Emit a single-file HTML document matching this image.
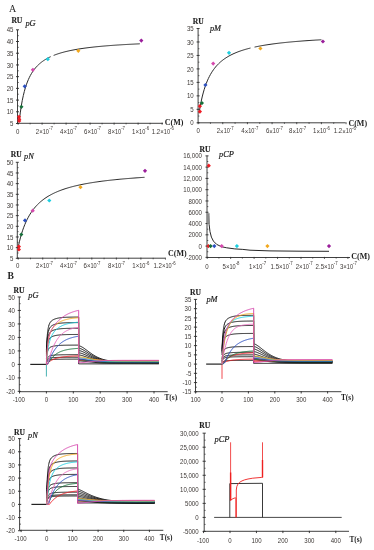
<!DOCTYPE html>
<html><head><meta charset="utf-8"><title>Binding curves</title>
<style>html,body{margin:0;padding:0;background:#fff;width:374px;height:550px;overflow:hidden}svg{display:block;filter:blur(0.3px)}</style>
</head><body>
<svg width="374" height="550" viewBox="0 0 374 550">
<rect width="374" height="550" fill="#ffffff"/>
<text x="9.00" y="11.90" font-family="'Liberation Serif', 'Times New Roman', serif" font-size="10.0" fill="#2a2a2a" text-anchor="start">A</text>
<text x="7.60" y="278.90" font-family="'Liberation Serif', 'Times New Roman', serif" font-size="9.6" fill="#1e1e1e" text-anchor="start" font-weight="bold">B</text>
<line x1="17.50" y1="29.80" x2="17.50" y2="123.30" stroke="#2b2b2b" stroke-width="0.9"/>
<line x1="16.00" y1="123.50" x2="19.00" y2="123.50" stroke="#2b2b2b" stroke-width="0.9"/>
<text transform="translate(13.50 126.10) scale(0.8 1)" x="0" y="0" font-family="'Liberation Sans', Arial, sans-serif" font-size="7.6" fill="#3c3734" text-anchor="end">5</text>
<line x1="16.00" y1="111.79" x2="19.00" y2="111.79" stroke="#2b2b2b" stroke-width="0.9"/>
<text transform="translate(13.50 114.39) scale(0.8 1)" x="0" y="0" font-family="'Liberation Sans', Arial, sans-serif" font-size="7.6" fill="#3c3734" text-anchor="end">10</text>
<line x1="16.00" y1="100.08" x2="19.00" y2="100.08" stroke="#2b2b2b" stroke-width="0.9"/>
<text transform="translate(13.50 102.67) scale(0.8 1)" x="0" y="0" font-family="'Liberation Sans', Arial, sans-serif" font-size="7.6" fill="#3c3734" text-anchor="end">15</text>
<line x1="16.00" y1="88.36" x2="19.00" y2="88.36" stroke="#2b2b2b" stroke-width="0.9"/>
<text transform="translate(13.50 90.96) scale(0.8 1)" x="0" y="0" font-family="'Liberation Sans', Arial, sans-serif" font-size="7.6" fill="#3c3734" text-anchor="end">20</text>
<line x1="16.00" y1="76.65" x2="19.00" y2="76.65" stroke="#2b2b2b" stroke-width="0.9"/>
<text transform="translate(13.50 79.25) scale(0.8 1)" x="0" y="0" font-family="'Liberation Sans', Arial, sans-serif" font-size="7.6" fill="#3c3734" text-anchor="end">25</text>
<line x1="16.00" y1="64.94" x2="19.00" y2="64.94" stroke="#2b2b2b" stroke-width="0.9"/>
<text transform="translate(13.50 67.54) scale(0.8 1)" x="0" y="0" font-family="'Liberation Sans', Arial, sans-serif" font-size="7.6" fill="#3c3734" text-anchor="end">30</text>
<line x1="16.00" y1="53.23" x2="19.00" y2="53.23" stroke="#2b2b2b" stroke-width="0.9"/>
<text transform="translate(13.50 55.83) scale(0.8 1)" x="0" y="0" font-family="'Liberation Sans', Arial, sans-serif" font-size="7.6" fill="#3c3734" text-anchor="end">35</text>
<line x1="16.00" y1="41.51" x2="19.00" y2="41.51" stroke="#2b2b2b" stroke-width="0.9"/>
<text transform="translate(13.50 44.11) scale(0.8 1)" x="0" y="0" font-family="'Liberation Sans', Arial, sans-serif" font-size="7.6" fill="#3c3734" text-anchor="end">40</text>
<line x1="16.00" y1="29.80" x2="19.00" y2="29.80" stroke="#2b2b2b" stroke-width="0.9"/>
<text transform="translate(13.50 32.40) scale(0.8 1)" x="0" y="0" font-family="'Liberation Sans', Arial, sans-serif" font-size="7.6" fill="#3c3734" text-anchor="end">45</text>
<line x1="17.50" y1="117.64" x2="18.80" y2="117.64" stroke="#2b2b2b" stroke-width="0.7"/>
<line x1="17.50" y1="105.93" x2="18.80" y2="105.93" stroke="#2b2b2b" stroke-width="0.7"/>
<line x1="17.50" y1="94.22" x2="18.80" y2="94.22" stroke="#2b2b2b" stroke-width="0.7"/>
<line x1="17.50" y1="82.51" x2="18.80" y2="82.51" stroke="#2b2b2b" stroke-width="0.7"/>
<line x1="17.50" y1="70.79" x2="18.80" y2="70.79" stroke="#2b2b2b" stroke-width="0.7"/>
<line x1="17.50" y1="59.08" x2="18.80" y2="59.08" stroke="#2b2b2b" stroke-width="0.7"/>
<line x1="17.50" y1="47.37" x2="18.80" y2="47.37" stroke="#2b2b2b" stroke-width="0.7"/>
<line x1="17.50" y1="35.66" x2="18.80" y2="35.66" stroke="#2b2b2b" stroke-width="0.7"/>
<line x1="17.50" y1="123.30" x2="163.00" y2="123.30" stroke="#2b2b2b" stroke-width="0.9"/>
<line x1="18.10" y1="122.70" x2="18.10" y2="124.70" stroke="#2b2b2b" stroke-width="0.8"/>
<line x1="42.10" y1="122.70" x2="42.10" y2="124.70" stroke="#2b2b2b" stroke-width="0.8"/>
<line x1="66.10" y1="122.70" x2="66.10" y2="124.70" stroke="#2b2b2b" stroke-width="0.8"/>
<line x1="90.10" y1="122.70" x2="90.10" y2="124.70" stroke="#2b2b2b" stroke-width="0.8"/>
<line x1="114.10" y1="122.70" x2="114.10" y2="124.70" stroke="#2b2b2b" stroke-width="0.8"/>
<line x1="138.10" y1="122.70" x2="138.10" y2="124.70" stroke="#2b2b2b" stroke-width="0.8"/>
<line x1="162.10" y1="122.70" x2="162.10" y2="124.70" stroke="#2b2b2b" stroke-width="0.8"/>
<line x1="30.10" y1="122.90" x2="30.10" y2="124.40" stroke="#2b2b2b" stroke-width="0.7"/>
<line x1="54.10" y1="122.90" x2="54.10" y2="124.40" stroke="#2b2b2b" stroke-width="0.7"/>
<line x1="78.10" y1="122.90" x2="78.10" y2="124.40" stroke="#2b2b2b" stroke-width="0.7"/>
<line x1="102.10" y1="122.90" x2="102.10" y2="124.40" stroke="#2b2b2b" stroke-width="0.7"/>
<line x1="126.10" y1="122.90" x2="126.10" y2="124.40" stroke="#2b2b2b" stroke-width="0.7"/>
<line x1="150.10" y1="122.90" x2="150.10" y2="124.40" stroke="#2b2b2b" stroke-width="0.7"/>
<text transform="translate(17.80 133.60) scale(0.8 1)" x="0" y="0" font-family="'Liberation Sans', Arial, sans-serif" font-size="7.6" fill="#3c3734" text-anchor="middle">0</text>
<text transform="translate(44.30 133.60) scale(0.8 1)" x="0" y="0" font-family="'Liberation Sans', Arial, sans-serif" font-size="7.6" fill="#3c3734" text-anchor="middle">2<tspan font-size="7.6" dy="0.5">×</tspan><tspan font-size="7.0" dy="-0.5">10</tspan><tspan font-size="5.4" dy="-3.2">-7</tspan></text>
<text transform="translate(68.50 133.60) scale(0.8 1)" x="0" y="0" font-family="'Liberation Sans', Arial, sans-serif" font-size="7.6" fill="#3c3734" text-anchor="middle">4<tspan font-size="7.6" dy="0.5">×</tspan><tspan font-size="7.0" dy="-0.5">10</tspan><tspan font-size="5.4" dy="-3.2">-7</tspan></text>
<text transform="translate(92.50 133.60) scale(0.8 1)" x="0" y="0" font-family="'Liberation Sans', Arial, sans-serif" font-size="7.6" fill="#3c3734" text-anchor="middle">6<tspan font-size="7.6" dy="0.5">×</tspan><tspan font-size="7.0" dy="-0.5">10</tspan><tspan font-size="5.4" dy="-3.2">-7</tspan></text>
<text transform="translate(116.50 133.60) scale(0.8 1)" x="0" y="0" font-family="'Liberation Sans', Arial, sans-serif" font-size="7.6" fill="#3c3734" text-anchor="middle">8<tspan font-size="7.6" dy="0.5">×</tspan><tspan font-size="7.0" dy="-0.5">10</tspan><tspan font-size="5.4" dy="-3.2">-7</tspan></text>
<text transform="translate(140.60 133.60) scale(0.8 1)" x="0" y="0" font-family="'Liberation Sans', Arial, sans-serif" font-size="7.6" fill="#3c3734" text-anchor="middle">1<tspan font-size="7.6" dy="0.5">×</tspan><tspan font-size="7.0" dy="-0.5">10</tspan><tspan font-size="5.4" dy="-3.2">-6</tspan></text>
<text transform="translate(162.80 133.60) scale(0.8 1)" x="0" y="0" font-family="'Liberation Sans', Arial, sans-serif" font-size="7.6" fill="#3c3734" text-anchor="middle">1.2<tspan font-size="7.6" dy="0.5">×</tspan><tspan font-size="7.0" dy="-0.5">10</tspan><tspan font-size="5.4" dy="-3.2">-6</tspan></text>
<text x="11.40" y="22.70" font-family="'Liberation Serif', 'Times New Roman', serif" font-size="7.6" fill="#1e1e1e" text-anchor="start" font-weight="bold" stroke="#1e1e1e" stroke-width="0.15">RU</text>
<text x="25.40" y="25.80" font-family="'Liberation Serif', 'Times New Roman', serif" font-size="8.4" fill="#1a1a1a" text-anchor="start" font-style="italic" stroke="#1a1a1a" stroke-width="0.18">pG</text>
<text x="164.80" y="125.40" font-family="'Liberation Serif', 'Times New Roman', serif" font-size="8.0" fill="#1e1e1e" text-anchor="start" font-weight="bold">C(M)</text>
<polyline points="19.25,121.23 20.26,112.91 21.27,106.10 22.28,100.42 23.30,95.62 24.31,91.50 25.32,87.93 26.33,84.81 27.35,82.05 28.36,79.60 29.37,77.41 30.38,75.44 31.40,73.65 32.41,72.03 33.42,70.55 34.44,69.19 35.45,67.94 36.46,66.79 37.47,65.72 38.49,64.73 39.50,63.81 40.51,62.95 41.52,62.14 42.54,61.39 43.55,60.68 44.56,60.01 45.57,59.38 46.59,58.78 47.60,58.22 48.61,57.69 49.62,57.18 50.64,56.70" fill="none" stroke="#282828" stroke-width="1.0" stroke-linejoin="round" opacity="1.0"/>
<polyline points="53.67,55.39 54.69,55.00 55.70,54.62 56.71,54.26 57.72,53.91 58.74,53.58 59.75,53.26 60.76,52.95 61.78,52.66 62.79,52.38 63.80,52.10 64.81,51.84 65.83,51.59 66.84,51.35 67.85,51.11 68.86,50.89 69.88,50.67 70.89,50.45 71.90,50.25 72.91,50.05 73.93,49.86 74.94,49.67 75.95,49.49 76.96,49.32 77.98,49.15 78.99,48.99 80.00,48.83 81.01,48.67 82.03,48.52 83.04,48.37 84.05,48.23 85.07,48.09 86.08,47.96 87.09,47.82 88.10,47.70 89.12,47.57 90.13,47.45 91.14,47.33 92.15,47.22 93.17,47.10 94.18,46.99 95.19,46.89 96.20,46.78 97.22,46.68 98.23,46.58 99.24,46.48 100.25,46.38 101.27,46.29 102.28,46.20 103.29,46.11 104.30,46.02 105.32,45.94 106.33,45.85 107.34,45.77 108.36,45.69 109.37,45.61 110.38,45.53 111.39,45.46 112.41,45.38 113.42,45.31 114.43,45.24 115.44,45.17 116.46,45.10 117.47,45.03 118.48,44.97 119.49,44.90 120.51,44.84 121.52,44.78 122.53,44.71 123.54,44.65 124.56,44.60 125.57,44.54 126.58,44.48 127.59,44.42 128.61,44.37 129.62,44.31 130.63,44.26 131.65,44.21 132.66,44.16 133.67,44.11 134.68,44.06 135.70,44.01 136.71,43.96 137.72,43.91 138.73,43.86 139.75,43.82" fill="none" stroke="#282828" stroke-width="1.0" stroke-linejoin="round" opacity="1.0"/>
<path d="M19.00 114.70L21.10 116.80L19.00 118.90L16.90 116.80Z" fill="#ee1c24"/>
<path d="M19.30 117.20L21.40 119.30L19.30 121.40L17.20 119.30Z" fill="#ee1c24"/>
<path d="M19.20 118.90L21.30 121.00L19.20 123.10L17.10 121.00Z" fill="#ee1c24"/>
<path d="M21.40 104.70L23.50 106.80L21.40 108.90L19.30 106.80Z" fill="#16703a"/>
<path d="M24.70 84.20L26.80 86.30L24.70 88.40L22.60 86.30Z" fill="#2b4fc0"/>
<path d="M32.90 67.70L35.00 69.80L32.90 71.90L30.80 69.80Z" fill="#d64aae"/>
<path d="M47.80 57.10L49.90 59.20L47.80 61.30L45.70 59.20Z" fill="#1ecfe0"/>
<path d="M78.30 48.70L80.40 50.80L78.30 52.90L76.20 50.80Z" fill="#f2a81d"/>
<path d="M141.30 38.50L143.40 40.60L141.30 42.70L139.20 40.60Z" fill="#9b1f9b"/>
<line x1="198.10" y1="28.51" x2="198.10" y2="122.80" stroke="#2b2b2b" stroke-width="0.9"/>
<line x1="196.60" y1="122.80" x2="199.60" y2="122.80" stroke="#2b2b2b" stroke-width="0.9"/>
<text transform="translate(193.70 125.40) scale(0.8 1)" x="0" y="0" font-family="'Liberation Sans', Arial, sans-serif" font-size="7.6" fill="#3c3734" text-anchor="end">0</text>
<line x1="196.60" y1="109.33" x2="199.60" y2="109.33" stroke="#2b2b2b" stroke-width="0.9"/>
<text transform="translate(193.70 111.93) scale(0.8 1)" x="0" y="0" font-family="'Liberation Sans', Arial, sans-serif" font-size="7.6" fill="#3c3734" text-anchor="end">5</text>
<line x1="196.60" y1="95.86" x2="199.60" y2="95.86" stroke="#2b2b2b" stroke-width="0.9"/>
<text transform="translate(193.70 98.46) scale(0.8 1)" x="0" y="0" font-family="'Liberation Sans', Arial, sans-serif" font-size="7.6" fill="#3c3734" text-anchor="end">10</text>
<line x1="196.60" y1="82.39" x2="199.60" y2="82.39" stroke="#2b2b2b" stroke-width="0.9"/>
<text transform="translate(193.70 84.99) scale(0.8 1)" x="0" y="0" font-family="'Liberation Sans', Arial, sans-serif" font-size="7.6" fill="#3c3734" text-anchor="end">15</text>
<line x1="196.60" y1="68.92" x2="199.60" y2="68.92" stroke="#2b2b2b" stroke-width="0.9"/>
<text transform="translate(193.70 71.52) scale(0.8 1)" x="0" y="0" font-family="'Liberation Sans', Arial, sans-serif" font-size="7.6" fill="#3c3734" text-anchor="end">20</text>
<line x1="196.60" y1="55.45" x2="199.60" y2="55.45" stroke="#2b2b2b" stroke-width="0.9"/>
<text transform="translate(193.70 58.05) scale(0.8 1)" x="0" y="0" font-family="'Liberation Sans', Arial, sans-serif" font-size="7.6" fill="#3c3734" text-anchor="end">25</text>
<line x1="196.60" y1="41.98" x2="199.60" y2="41.98" stroke="#2b2b2b" stroke-width="0.9"/>
<text transform="translate(193.70 44.58) scale(0.8 1)" x="0" y="0" font-family="'Liberation Sans', Arial, sans-serif" font-size="7.6" fill="#3c3734" text-anchor="end">30</text>
<line x1="196.60" y1="28.51" x2="199.60" y2="28.51" stroke="#2b2b2b" stroke-width="0.9"/>
<text transform="translate(193.70 31.11) scale(0.8 1)" x="0" y="0" font-family="'Liberation Sans', Arial, sans-serif" font-size="7.6" fill="#3c3734" text-anchor="end">35</text>
<line x1="198.10" y1="116.06" x2="199.40" y2="116.06" stroke="#2b2b2b" stroke-width="0.7"/>
<line x1="198.10" y1="102.59" x2="199.40" y2="102.59" stroke="#2b2b2b" stroke-width="0.7"/>
<line x1="198.10" y1="89.12" x2="199.40" y2="89.12" stroke="#2b2b2b" stroke-width="0.7"/>
<line x1="198.10" y1="75.66" x2="199.40" y2="75.66" stroke="#2b2b2b" stroke-width="0.7"/>
<line x1="198.10" y1="62.18" x2="199.40" y2="62.18" stroke="#2b2b2b" stroke-width="0.7"/>
<line x1="198.10" y1="48.72" x2="199.40" y2="48.72" stroke="#2b2b2b" stroke-width="0.7"/>
<line x1="198.10" y1="35.25" x2="199.40" y2="35.25" stroke="#2b2b2b" stroke-width="0.7"/>
<line x1="198.10" y1="122.80" x2="345.50" y2="122.80" stroke="#2b2b2b" stroke-width="0.9"/>
<line x1="198.10" y1="122.20" x2="198.10" y2="124.20" stroke="#2b2b2b" stroke-width="0.8"/>
<line x1="222.76" y1="122.20" x2="222.76" y2="124.20" stroke="#2b2b2b" stroke-width="0.8"/>
<line x1="247.42" y1="122.20" x2="247.42" y2="124.20" stroke="#2b2b2b" stroke-width="0.8"/>
<line x1="272.08" y1="122.20" x2="272.08" y2="124.20" stroke="#2b2b2b" stroke-width="0.8"/>
<line x1="296.74" y1="122.20" x2="296.74" y2="124.20" stroke="#2b2b2b" stroke-width="0.8"/>
<line x1="321.40" y1="122.20" x2="321.40" y2="124.20" stroke="#2b2b2b" stroke-width="0.8"/>
<line x1="346.06" y1="122.20" x2="346.06" y2="124.20" stroke="#2b2b2b" stroke-width="0.8"/>
<line x1="210.43" y1="122.40" x2="210.43" y2="123.90" stroke="#2b2b2b" stroke-width="0.7"/>
<line x1="235.09" y1="122.40" x2="235.09" y2="123.90" stroke="#2b2b2b" stroke-width="0.7"/>
<line x1="259.75" y1="122.40" x2="259.75" y2="123.90" stroke="#2b2b2b" stroke-width="0.7"/>
<line x1="284.41" y1="122.40" x2="284.41" y2="123.90" stroke="#2b2b2b" stroke-width="0.7"/>
<line x1="309.07" y1="122.40" x2="309.07" y2="123.90" stroke="#2b2b2b" stroke-width="0.7"/>
<line x1="333.73" y1="122.40" x2="333.73" y2="123.90" stroke="#2b2b2b" stroke-width="0.7"/>
<text transform="translate(198.20 133.20) scale(0.8 1)" x="0" y="0" font-family="'Liberation Sans', Arial, sans-serif" font-size="7.6" fill="#3c3734" text-anchor="middle">0</text>
<text transform="translate(225.20 133.20) scale(0.8 1)" x="0" y="0" font-family="'Liberation Sans', Arial, sans-serif" font-size="7.6" fill="#3c3734" text-anchor="middle">2<tspan font-size="7.6" dy="0.5">×</tspan><tspan font-size="7.0" dy="-0.5">10</tspan><tspan font-size="5.4" dy="-3.2">-7</tspan></text>
<text transform="translate(249.80 133.20) scale(0.8 1)" x="0" y="0" font-family="'Liberation Sans', Arial, sans-serif" font-size="7.6" fill="#3c3734" text-anchor="middle">4<tspan font-size="7.6" dy="0.5">×</tspan><tspan font-size="7.0" dy="-0.5">10</tspan><tspan font-size="5.4" dy="-3.2">-7</tspan></text>
<text transform="translate(274.40 133.20) scale(0.8 1)" x="0" y="0" font-family="'Liberation Sans', Arial, sans-serif" font-size="7.6" fill="#3c3734" text-anchor="middle">6<tspan font-size="7.6" dy="0.5">×</tspan><tspan font-size="7.0" dy="-0.5">10</tspan><tspan font-size="5.4" dy="-3.2">-7</tspan></text>
<text transform="translate(297.60 133.20) scale(0.8 1)" x="0" y="0" font-family="'Liberation Sans', Arial, sans-serif" font-size="7.6" fill="#3c3734" text-anchor="middle">8<tspan font-size="7.6" dy="0.5">×</tspan><tspan font-size="7.0" dy="-0.5">10</tspan><tspan font-size="5.4" dy="-3.2">-7</tspan></text>
<text transform="translate(321.50 133.20) scale(0.8 1)" x="0" y="0" font-family="'Liberation Sans', Arial, sans-serif" font-size="7.6" fill="#3c3734" text-anchor="middle">1<tspan font-size="7.6" dy="0.5">×</tspan><tspan font-size="7.0" dy="-0.5">10</tspan><tspan font-size="5.4" dy="-3.2">-6</tspan></text>
<text transform="translate(344.80 133.20) scale(0.8 1)" x="0" y="0" font-family="'Liberation Sans', Arial, sans-serif" font-size="7.6" fill="#3c3734" text-anchor="middle">1.2<tspan font-size="7.6" dy="0.5">×</tspan><tspan font-size="7.0" dy="-0.5">10</tspan><tspan font-size="5.4" dy="-3.2">-6</tspan></text>
<text x="192.80" y="24.30" font-family="'Liberation Serif', 'Times New Roman', serif" font-size="7.6" fill="#1e1e1e" text-anchor="start" font-weight="bold" stroke="#1e1e1e" stroke-width="0.15">RU</text>
<text x="209.90" y="31.20" font-family="'Liberation Serif', 'Times New Roman', serif" font-size="8.4" fill="#1a1a1a" text-anchor="start" font-style="italic" stroke="#1a1a1a" stroke-width="0.18">pM</text>
<text x="348.40" y="126.00" font-family="'Liberation Serif', 'Times New Roman', serif" font-size="8.0" fill="#1e1e1e" text-anchor="start" font-weight="bold">C(M)</text>
<polyline points="199.09,113.04 200.11,106.87 201.14,101.58 202.17,96.99 203.20,92.97 204.23,89.42 205.25,86.27 206.28,83.44 207.31,80.90 208.34,78.59 209.36,76.50 210.39,74.59 211.42,72.83 212.45,71.22 213.48,69.73 214.50,68.35 215.53,67.06 216.56,65.87 217.59,64.75 218.62,63.71 219.64,62.73 220.67,61.81 221.70,60.95 222.73,60.13 223.75,59.36 224.78,58.63 225.81,57.94 226.84,57.29 227.87,56.66 228.89,56.07 229.92,55.51 230.95,54.97 231.98,54.46 233.01,53.96 234.03,53.50 235.06,53.05 236.09,52.61 237.12,52.20 238.14,51.80 239.17,51.42 240.20,51.06 241.23,50.70 242.26,50.36 243.28,50.04 244.31,49.72 245.34,49.42 246.37,49.12 247.40,48.84 248.42,48.56 249.45,48.30 250.48,48.04" fill="none" stroke="#282828" stroke-width="1.0" stroke-linejoin="round" opacity="1.0"/>
<polyline points="254.59,47.09 255.62,46.87 256.65,46.65 257.67,46.45 258.70,46.24 259.73,46.05 260.76,45.86 261.78,45.67 262.81,45.49 263.84,45.32 264.87,45.15 265.90,44.98 266.92,44.82 267.95,44.66 268.98,44.51 270.01,44.36 271.04,44.21 272.06,44.07 273.09,43.93 274.12,43.79 275.15,43.66 276.17,43.53 277.20,43.40 278.23,43.28 279.26,43.15 280.29,43.03 281.31,42.92 282.34,42.80 283.37,42.69 284.40,42.58 285.43,42.48 286.45,42.37 287.48,42.27 288.51,42.17 289.54,42.07 290.56,41.97 291.59,41.88 292.62,41.79 293.65,41.70 294.68,41.61 295.70,41.52 296.73,41.43 297.76,41.35 298.79,41.27 299.82,41.19 300.84,41.11 301.87,41.03 302.90,40.95 303.93,40.87 304.95,40.80 305.98,40.73 307.01,40.66 308.04,40.59 309.07,40.52 310.09,40.45 311.12,40.38 312.15,40.31 313.18,40.25 314.21,40.19 315.23,40.12 316.26,40.06 317.29,40.00 318.32,39.94 319.34,39.88 320.37,39.82 321.40,39.77" fill="none" stroke="#282828" stroke-width="1.0" stroke-linejoin="round" opacity="1.0"/>
<path d="M199.90 109.50L202.00 111.60L199.90 113.70L197.80 111.60Z" fill="#ee1c24"/>
<path d="M199.90 104.10L202.00 106.20L199.90 108.30L197.80 106.20Z" fill="#ee1c24"/>
<path d="M201.90 101.00L204.00 103.10L201.90 105.20L199.80 103.10Z" fill="#16703a"/>
<path d="M205.40 82.90L207.50 85.00L205.40 87.10L203.30 85.00Z" fill="#2b4fc0"/>
<path d="M213.20 61.50L215.30 63.60L213.20 65.70L211.10 63.60Z" fill="#d64aae"/>
<path d="M229.00 50.70L231.10 52.80L229.00 54.90L226.90 52.80Z" fill="#1ecfe0"/>
<path d="M260.40 46.40L262.50 48.50L260.40 50.60L258.30 48.50Z" fill="#f2a81d"/>
<path d="M322.90 39.40L325.00 41.50L322.90 43.60L320.80 41.50Z" fill="#9b1f9b"/>
<line x1="17.30" y1="162.30" x2="17.30" y2="258.20" stroke="#2b2b2b" stroke-width="0.9"/>
<line x1="15.80" y1="258.30" x2="18.80" y2="258.30" stroke="#2b2b2b" stroke-width="0.9"/>
<text transform="translate(13.50 260.90) scale(0.8 1)" x="0" y="0" font-family="'Liberation Sans', Arial, sans-serif" font-size="7.6" fill="#3c3734" text-anchor="end">5</text>
<line x1="15.80" y1="247.63" x2="18.80" y2="247.63" stroke="#2b2b2b" stroke-width="0.9"/>
<text transform="translate(13.50 250.23) scale(0.8 1)" x="0" y="0" font-family="'Liberation Sans', Arial, sans-serif" font-size="7.6" fill="#3c3734" text-anchor="end">10</text>
<line x1="15.80" y1="236.97" x2="18.80" y2="236.97" stroke="#2b2b2b" stroke-width="0.9"/>
<text transform="translate(13.50 239.57) scale(0.8 1)" x="0" y="0" font-family="'Liberation Sans', Arial, sans-serif" font-size="7.6" fill="#3c3734" text-anchor="end">15</text>
<line x1="15.80" y1="226.30" x2="18.80" y2="226.30" stroke="#2b2b2b" stroke-width="0.9"/>
<text transform="translate(13.50 228.90) scale(0.8 1)" x="0" y="0" font-family="'Liberation Sans', Arial, sans-serif" font-size="7.6" fill="#3c3734" text-anchor="end">20</text>
<line x1="15.80" y1="215.63" x2="18.80" y2="215.63" stroke="#2b2b2b" stroke-width="0.9"/>
<text transform="translate(13.50 218.23) scale(0.8 1)" x="0" y="0" font-family="'Liberation Sans', Arial, sans-serif" font-size="7.6" fill="#3c3734" text-anchor="end">25</text>
<line x1="15.80" y1="204.97" x2="18.80" y2="204.97" stroke="#2b2b2b" stroke-width="0.9"/>
<text transform="translate(13.50 207.57) scale(0.8 1)" x="0" y="0" font-family="'Liberation Sans', Arial, sans-serif" font-size="7.6" fill="#3c3734" text-anchor="end">30</text>
<line x1="15.80" y1="194.30" x2="18.80" y2="194.30" stroke="#2b2b2b" stroke-width="0.9"/>
<text transform="translate(13.50 196.90) scale(0.8 1)" x="0" y="0" font-family="'Liberation Sans', Arial, sans-serif" font-size="7.6" fill="#3c3734" text-anchor="end">35</text>
<line x1="15.80" y1="183.63" x2="18.80" y2="183.63" stroke="#2b2b2b" stroke-width="0.9"/>
<text transform="translate(13.50 186.23) scale(0.8 1)" x="0" y="0" font-family="'Liberation Sans', Arial, sans-serif" font-size="7.6" fill="#3c3734" text-anchor="end">40</text>
<line x1="15.80" y1="172.97" x2="18.80" y2="172.97" stroke="#2b2b2b" stroke-width="0.9"/>
<text transform="translate(13.50 175.57) scale(0.8 1)" x="0" y="0" font-family="'Liberation Sans', Arial, sans-serif" font-size="7.6" fill="#3c3734" text-anchor="end">45</text>
<line x1="15.80" y1="162.30" x2="18.80" y2="162.30" stroke="#2b2b2b" stroke-width="0.9"/>
<text transform="translate(13.50 164.90) scale(0.8 1)" x="0" y="0" font-family="'Liberation Sans', Arial, sans-serif" font-size="7.6" fill="#3c3734" text-anchor="end">50</text>
<line x1="17.30" y1="252.97" x2="18.60" y2="252.97" stroke="#2b2b2b" stroke-width="0.7"/>
<line x1="17.30" y1="242.30" x2="18.60" y2="242.30" stroke="#2b2b2b" stroke-width="0.7"/>
<line x1="17.30" y1="231.63" x2="18.60" y2="231.63" stroke="#2b2b2b" stroke-width="0.7"/>
<line x1="17.30" y1="220.97" x2="18.60" y2="220.97" stroke="#2b2b2b" stroke-width="0.7"/>
<line x1="17.30" y1="210.30" x2="18.60" y2="210.30" stroke="#2b2b2b" stroke-width="0.7"/>
<line x1="17.30" y1="199.63" x2="18.60" y2="199.63" stroke="#2b2b2b" stroke-width="0.7"/>
<line x1="17.30" y1="188.97" x2="18.60" y2="188.97" stroke="#2b2b2b" stroke-width="0.7"/>
<line x1="17.30" y1="178.30" x2="18.60" y2="178.30" stroke="#2b2b2b" stroke-width="0.7"/>
<line x1="17.30" y1="167.63" x2="18.60" y2="167.63" stroke="#2b2b2b" stroke-width="0.7"/>
<line x1="17.30" y1="258.20" x2="165.00" y2="258.20" stroke="#2b2b2b" stroke-width="0.9"/>
<line x1="18.20" y1="257.60" x2="18.20" y2="259.60" stroke="#2b2b2b" stroke-width="0.8"/>
<line x1="42.74" y1="257.60" x2="42.74" y2="259.60" stroke="#2b2b2b" stroke-width="0.8"/>
<line x1="67.28" y1="257.60" x2="67.28" y2="259.60" stroke="#2b2b2b" stroke-width="0.8"/>
<line x1="91.82" y1="257.60" x2="91.82" y2="259.60" stroke="#2b2b2b" stroke-width="0.8"/>
<line x1="116.36" y1="257.60" x2="116.36" y2="259.60" stroke="#2b2b2b" stroke-width="0.8"/>
<line x1="140.90" y1="257.60" x2="140.90" y2="259.60" stroke="#2b2b2b" stroke-width="0.8"/>
<line x1="165.44" y1="257.60" x2="165.44" y2="259.60" stroke="#2b2b2b" stroke-width="0.8"/>
<line x1="30.47" y1="257.80" x2="30.47" y2="259.30" stroke="#2b2b2b" stroke-width="0.7"/>
<line x1="55.01" y1="257.80" x2="55.01" y2="259.30" stroke="#2b2b2b" stroke-width="0.7"/>
<line x1="79.55" y1="257.80" x2="79.55" y2="259.30" stroke="#2b2b2b" stroke-width="0.7"/>
<line x1="104.09" y1="257.80" x2="104.09" y2="259.30" stroke="#2b2b2b" stroke-width="0.7"/>
<line x1="128.63" y1="257.80" x2="128.63" y2="259.30" stroke="#2b2b2b" stroke-width="0.7"/>
<line x1="153.17" y1="257.80" x2="153.17" y2="259.30" stroke="#2b2b2b" stroke-width="0.7"/>
<text transform="translate(17.60 267.90) scale(0.8 1)" x="0" y="0" font-family="'Liberation Sans', Arial, sans-serif" font-size="7.6" fill="#3c3734" text-anchor="middle">0</text>
<text transform="translate(44.50 267.90) scale(0.8 1)" x="0" y="0" font-family="'Liberation Sans', Arial, sans-serif" font-size="7.6" fill="#3c3734" text-anchor="middle">2<tspan font-size="7.6" dy="0.5">×</tspan><tspan font-size="7.0" dy="-0.5">10</tspan><tspan font-size="5.4" dy="-3.2">-7</tspan></text>
<text transform="translate(68.50 267.90) scale(0.8 1)" x="0" y="0" font-family="'Liberation Sans', Arial, sans-serif" font-size="7.6" fill="#3c3734" text-anchor="middle">4<tspan font-size="7.6" dy="0.5">×</tspan><tspan font-size="7.0" dy="-0.5">10</tspan><tspan font-size="5.4" dy="-3.2">-7</tspan></text>
<text transform="translate(92.00 267.90) scale(0.8 1)" x="0" y="0" font-family="'Liberation Sans', Arial, sans-serif" font-size="7.6" fill="#3c3734" text-anchor="middle">6<tspan font-size="7.6" dy="0.5">×</tspan><tspan font-size="7.0" dy="-0.5">10</tspan><tspan font-size="5.4" dy="-3.2">-7</tspan></text>
<text transform="translate(116.50 267.90) scale(0.8 1)" x="0" y="0" font-family="'Liberation Sans', Arial, sans-serif" font-size="7.6" fill="#3c3734" text-anchor="middle">8<tspan font-size="7.6" dy="0.5">×</tspan><tspan font-size="7.0" dy="-0.5">10</tspan><tspan font-size="5.4" dy="-3.2">-7</tspan></text>
<text transform="translate(140.80 267.90) scale(0.8 1)" x="0" y="0" font-family="'Liberation Sans', Arial, sans-serif" font-size="7.6" fill="#3c3734" text-anchor="middle">1<tspan font-size="7.6" dy="0.5">×</tspan><tspan font-size="7.0" dy="-0.5">10</tspan><tspan font-size="5.4" dy="-3.2">-6</tspan></text>
<text transform="translate(164.50 267.90) scale(0.8 1)" x="0" y="0" font-family="'Liberation Sans', Arial, sans-serif" font-size="7.6" fill="#3c3734" text-anchor="middle">1.2<tspan font-size="7.6" dy="0.5">×</tspan><tspan font-size="7.0" dy="-0.5">10</tspan><tspan font-size="5.4" dy="-3.2">-6</tspan></text>
<text x="10.80" y="156.90" font-family="'Liberation Serif', 'Times New Roman', serif" font-size="7.6" fill="#1e1e1e" text-anchor="start" font-weight="bold" stroke="#1e1e1e" stroke-width="0.15">RU</text>
<text x="24.00" y="158.60" font-family="'Liberation Serif', 'Times New Roman', serif" font-size="8.4" fill="#1a1a1a" text-anchor="start" font-style="italic" stroke="#1a1a1a" stroke-width="0.18">pN</text>
<text x="168.00" y="256.00" font-family="'Liberation Serif', 'Times New Roman', serif" font-size="8.0" fill="#1e1e1e" text-anchor="start" font-weight="bold">C(M)</text>
<polyline points="18.47,245.82 19.53,241.23 20.58,237.15 21.64,233.50 22.70,230.22 23.76,227.25 24.82,224.56 25.88,222.10 26.94,219.84 28.00,217.77 29.06,215.85 30.12,214.08 31.18,212.43 32.23,210.90 33.29,209.47 34.35,208.14 35.41,206.89 36.47,205.71 37.53,204.60 38.59,203.56 39.65,202.57 40.71,201.64 41.77,200.76 42.83,199.92 43.88,199.12 44.94,198.37 46.00,197.65 47.06,196.96 48.12,196.30 49.18,195.68 50.24,195.08 51.30,194.50 52.36,193.95 53.42,193.43 54.48,192.92 55.54,192.43 56.59,191.97 57.65,191.52 58.71,191.08 59.77,190.67 60.83,190.26 61.89,189.88 62.95,189.50 64.01,189.14 65.07,188.79 66.13,188.45 67.19,188.12 68.24,187.81 69.30,187.50 70.36,187.20 71.42,186.91 72.48,186.63 73.54,186.36 74.60,186.09 75.66,185.84 76.72,185.59 77.78,185.35 78.84,185.11 79.89,184.88 80.95,184.66 82.01,184.44 83.07,184.23 84.13,184.02 85.19,183.82 86.25,183.63 87.31,183.44 88.37,183.25 89.43,183.07 90.49,182.89 91.54,182.72 92.60,182.55 93.66,182.38 94.72,182.22 95.78,182.06 96.84,181.91 97.90,181.76 98.96,181.61 100.02,181.46 101.08,181.32 102.14,181.18 103.19,181.05 104.25,180.91 105.31,180.78 106.37,180.66 107.43,180.53 108.49,180.41 109.55,180.29 110.61,180.17 111.67,180.05 112.73,179.94 113.79,179.83 114.85,179.72 115.90,179.61 116.96,179.51 118.02,179.41 119.08,179.30 120.14,179.20 121.20,179.11 122.26,179.01 123.32,178.92 124.38,178.82 125.44,178.73 126.50,178.64 127.55,178.55 128.61,178.47 129.67,178.38 130.73,178.30 131.79,178.22 132.85,178.14 133.91,178.06 134.97,177.98 136.03,177.90 137.09,177.82 138.15,177.75 139.20,177.67 140.26,177.60 141.32,177.53 142.38,177.46 143.44,177.39 144.50,177.32" fill="none" stroke="#282828" stroke-width="1.0" stroke-linejoin="round" opacity="1.0"/>
<path d="M18.90 244.50L21.00 246.60L18.90 248.70L16.80 246.60Z" fill="#ee1c24"/>
<path d="M18.90 247.40L21.00 249.50L18.90 251.60L16.80 249.50Z" fill="#ee1c24"/>
<path d="M21.30 232.40L23.40 234.50L21.30 236.60L19.20 234.50Z" fill="#16703a"/>
<path d="M25.00 218.30L27.10 220.40L25.00 222.50L22.90 220.40Z" fill="#2b4fc0"/>
<path d="M32.70 208.60L34.80 210.70L32.70 212.80L30.60 210.70Z" fill="#d64aae"/>
<path d="M49.30 198.40L51.40 200.50L49.30 202.60L47.20 200.50Z" fill="#1ecfe0"/>
<path d="M80.50 185.10L82.60 187.20L80.50 189.30L78.40 187.20Z" fill="#f2a81d"/>
<path d="M145.00 168.70L147.10 170.80L145.00 172.90L142.90 170.80Z" fill="#9b1f9b"/>
<line x1="207.00" y1="155.86" x2="207.00" y2="257.50" stroke="#2b2b2b" stroke-width="0.9"/>
<line x1="205.50" y1="257.38" x2="208.50" y2="257.38" stroke="#2b2b2b" stroke-width="0.9"/>
<text transform="translate(201.90 259.98) scale(0.8 1)" x="0" y="0" font-family="'Liberation Sans', Arial, sans-serif" font-size="7.6" fill="#3c3734" text-anchor="end">-2000</text>
<line x1="205.50" y1="246.10" x2="208.50" y2="246.10" stroke="#2b2b2b" stroke-width="0.9"/>
<text transform="translate(201.90 248.70) scale(0.8 1)" x="0" y="0" font-family="'Liberation Sans', Arial, sans-serif" font-size="7.6" fill="#3c3734" text-anchor="end">0</text>
<line x1="205.50" y1="234.82" x2="208.50" y2="234.82" stroke="#2b2b2b" stroke-width="0.9"/>
<text transform="translate(201.90 237.42) scale(0.8 1)" x="0" y="0" font-family="'Liberation Sans', Arial, sans-serif" font-size="7.6" fill="#3c3734" text-anchor="end">2000</text>
<line x1="205.50" y1="223.54" x2="208.50" y2="223.54" stroke="#2b2b2b" stroke-width="0.9"/>
<text transform="translate(201.90 226.14) scale(0.8 1)" x="0" y="0" font-family="'Liberation Sans', Arial, sans-serif" font-size="7.6" fill="#3c3734" text-anchor="end">4000</text>
<line x1="205.50" y1="212.26" x2="208.50" y2="212.26" stroke="#2b2b2b" stroke-width="0.9"/>
<text transform="translate(201.90 214.86) scale(0.8 1)" x="0" y="0" font-family="'Liberation Sans', Arial, sans-serif" font-size="7.6" fill="#3c3734" text-anchor="end">6000</text>
<line x1="205.50" y1="200.98" x2="208.50" y2="200.98" stroke="#2b2b2b" stroke-width="0.9"/>
<text transform="translate(201.90 203.58) scale(0.8 1)" x="0" y="0" font-family="'Liberation Sans', Arial, sans-serif" font-size="7.6" fill="#3c3734" text-anchor="end">8000</text>
<line x1="205.50" y1="189.70" x2="208.50" y2="189.70" stroke="#2b2b2b" stroke-width="0.9"/>
<text transform="translate(201.90 192.30) scale(0.8 1)" x="0" y="0" font-family="'Liberation Sans', Arial, sans-serif" font-size="7.6" fill="#3c3734" text-anchor="end">10,000</text>
<line x1="205.50" y1="178.42" x2="208.50" y2="178.42" stroke="#2b2b2b" stroke-width="0.9"/>
<text transform="translate(201.90 181.02) scale(0.8 1)" x="0" y="0" font-family="'Liberation Sans', Arial, sans-serif" font-size="7.6" fill="#3c3734" text-anchor="end">12,000</text>
<line x1="205.50" y1="167.14" x2="208.50" y2="167.14" stroke="#2b2b2b" stroke-width="0.9"/>
<text transform="translate(201.90 169.74) scale(0.8 1)" x="0" y="0" font-family="'Liberation Sans', Arial, sans-serif" font-size="7.6" fill="#3c3734" text-anchor="end">14,000</text>
<line x1="205.50" y1="155.86" x2="208.50" y2="155.86" stroke="#2b2b2b" stroke-width="0.9"/>
<text transform="translate(201.90 158.46) scale(0.8 1)" x="0" y="0" font-family="'Liberation Sans', Arial, sans-serif" font-size="7.6" fill="#3c3734" text-anchor="end">16,000</text>
<line x1="207.00" y1="251.74" x2="208.30" y2="251.74" stroke="#2b2b2b" stroke-width="0.7"/>
<line x1="207.00" y1="240.46" x2="208.30" y2="240.46" stroke="#2b2b2b" stroke-width="0.7"/>
<line x1="207.00" y1="229.18" x2="208.30" y2="229.18" stroke="#2b2b2b" stroke-width="0.7"/>
<line x1="207.00" y1="217.90" x2="208.30" y2="217.90" stroke="#2b2b2b" stroke-width="0.7"/>
<line x1="207.00" y1="206.62" x2="208.30" y2="206.62" stroke="#2b2b2b" stroke-width="0.7"/>
<line x1="207.00" y1="195.34" x2="208.30" y2="195.34" stroke="#2b2b2b" stroke-width="0.7"/>
<line x1="207.00" y1="184.06" x2="208.30" y2="184.06" stroke="#2b2b2b" stroke-width="0.7"/>
<line x1="207.00" y1="172.78" x2="208.30" y2="172.78" stroke="#2b2b2b" stroke-width="0.7"/>
<line x1="207.00" y1="161.50" x2="208.30" y2="161.50" stroke="#2b2b2b" stroke-width="0.7"/>
<line x1="207.00" y1="257.50" x2="350.00" y2="257.50" stroke="#2b2b2b" stroke-width="0.9"/>
<line x1="207.20" y1="256.90" x2="207.20" y2="258.90" stroke="#2b2b2b" stroke-width="0.8"/>
<line x1="230.65" y1="256.90" x2="230.65" y2="258.90" stroke="#2b2b2b" stroke-width="0.8"/>
<line x1="254.10" y1="256.90" x2="254.10" y2="258.90" stroke="#2b2b2b" stroke-width="0.8"/>
<line x1="277.55" y1="256.90" x2="277.55" y2="258.90" stroke="#2b2b2b" stroke-width="0.8"/>
<line x1="301.00" y1="256.90" x2="301.00" y2="258.90" stroke="#2b2b2b" stroke-width="0.8"/>
<line x1="324.45" y1="256.90" x2="324.45" y2="258.90" stroke="#2b2b2b" stroke-width="0.8"/>
<line x1="347.90" y1="256.90" x2="347.90" y2="258.90" stroke="#2b2b2b" stroke-width="0.8"/>
<line x1="218.92" y1="257.10" x2="218.92" y2="258.60" stroke="#2b2b2b" stroke-width="0.7"/>
<line x1="242.38" y1="257.10" x2="242.38" y2="258.60" stroke="#2b2b2b" stroke-width="0.7"/>
<line x1="265.82" y1="257.10" x2="265.82" y2="258.60" stroke="#2b2b2b" stroke-width="0.7"/>
<line x1="289.27" y1="257.10" x2="289.27" y2="258.60" stroke="#2b2b2b" stroke-width="0.7"/>
<line x1="312.73" y1="257.10" x2="312.73" y2="258.60" stroke="#2b2b2b" stroke-width="0.7"/>
<line x1="336.18" y1="257.10" x2="336.18" y2="258.60" stroke="#2b2b2b" stroke-width="0.7"/>
<text transform="translate(207.00 268.60) scale(0.8 1)" x="0" y="0" font-family="'Liberation Sans', Arial, sans-serif" font-size="7.6" fill="#3c3734" text-anchor="middle">0</text>
<text transform="translate(231.00 268.60) scale(0.8 1)" x="0" y="0" font-family="'Liberation Sans', Arial, sans-serif" font-size="7.6" fill="#3c3734" text-anchor="middle">5<tspan font-size="7.6" dy="0.5">×</tspan><tspan font-size="7.0" dy="-0.5">10</tspan><tspan font-size="5.4" dy="-3.2">-8</tspan></text>
<text transform="translate(257.60 268.60) scale(0.8 1)" x="0" y="0" font-family="'Liberation Sans', Arial, sans-serif" font-size="7.6" fill="#3c3734" text-anchor="middle">1<tspan font-size="7.6" dy="0.5">×</tspan><tspan font-size="7.0" dy="-0.5">10</tspan><tspan font-size="5.4" dy="-3.2">-7</tspan></text>
<text transform="translate(281.60 268.60) scale(0.8 1)" x="0" y="0" font-family="'Liberation Sans', Arial, sans-serif" font-size="7.6" fill="#3c3734" text-anchor="middle">1.5<tspan font-size="7.6" dy="0.5">×</tspan><tspan font-size="7.0" dy="-0.5">10</tspan><tspan font-size="5.4" dy="-3.2">-7</tspan></text>
<text transform="translate(304.20 268.60) scale(0.8 1)" x="0" y="0" font-family="'Liberation Sans', Arial, sans-serif" font-size="7.6" fill="#3c3734" text-anchor="middle">2<tspan font-size="7.6" dy="0.5">×</tspan><tspan font-size="7.0" dy="-0.5">10</tspan><tspan font-size="5.4" dy="-3.2">-7</tspan></text>
<text transform="translate(326.60 268.60) scale(0.8 1)" x="0" y="0" font-family="'Liberation Sans', Arial, sans-serif" font-size="7.6" fill="#3c3734" text-anchor="middle">2.5<tspan font-size="7.6" dy="0.5">×</tspan><tspan font-size="7.0" dy="-0.5">10</tspan><tspan font-size="5.4" dy="-3.2">-7</tspan></text>
<text transform="translate(348.40 268.60) scale(0.8 1)" x="0" y="0" font-family="'Liberation Sans', Arial, sans-serif" font-size="7.6" fill="#3c3734" text-anchor="middle">3<tspan font-size="7.6" dy="0.5">×</tspan><tspan font-size="7.0" dy="-0.5">10</tspan><tspan font-size="5.4" dy="-3.2">-7</tspan></text>
<text x="199.60" y="152.20" font-family="'Liberation Serif', 'Times New Roman', serif" font-size="7.6" fill="#1e1e1e" text-anchor="start" font-weight="bold" stroke="#1e1e1e" stroke-width="0.15">RU</text>
<text x="219.00" y="156.60" font-family="'Liberation Serif', 'Times New Roman', serif" font-size="8.4" fill="#1a1a1a" text-anchor="start" font-style="italic" stroke="#1a1a1a" stroke-width="0.18">pCP</text>
<text x="351.20" y="258.90" font-family="'Liberation Serif', 'Times New Roman', serif" font-size="8.0" fill="#1e1e1e" text-anchor="start" font-weight="bold">C(M)</text>
<polyline points="208.60,216.00 209.10,224.40 210.00,231.70 211.40,237.10 213.40,241.10 216.70,244.40 221.40,246.70 226.70,247.80 234.80,248.90 242.80,249.40 250.00,250.20 270.00,250.90 300.00,251.20 329.00,251.30" fill="none" stroke="#282828" stroke-width="1.0" stroke-linejoin="round" opacity="1.0"/>
<path d="M208.80 163.60L210.90 165.70L208.80 167.80L206.70 165.70Z" fill="#ee1c24"/>
<path d="M208.40 244.00L210.50 246.10L208.40 248.20L206.30 246.10Z" fill="#ee1c24"/>
<path d="M210.60 244.00L212.70 246.10L210.60 248.20L208.50 246.10Z" fill="#16703a"/>
<path d="M214.30 244.00L216.40 246.10L214.30 248.20L212.20 246.10Z" fill="#2b4fc0"/>
<path d="M221.70 244.00L223.80 246.10L221.70 248.20L219.60 246.10Z" fill="#d64aae"/>
<path d="M236.90 244.00L239.00 246.10L236.90 248.20L234.80 246.10Z" fill="#1ecfe0"/>
<path d="M267.40 244.00L269.50 246.10L267.40 248.20L265.30 246.10Z" fill="#f2a81d"/>
<path d="M329.00 244.00L331.10 246.10L329.00 248.20L326.90 246.10Z" fill="#9b1f9b"/>
<rect x="207.0" y="213.2" width="2.6" height="10.5" fill="#8a8a8a"/>
<line x1="19.30" y1="296.97" x2="19.30" y2="391.70" stroke="#2b2b2b" stroke-width="0.9"/>
<line x1="17.70" y1="391.37" x2="20.90" y2="391.37" stroke="#2b2b2b" stroke-width="0.9"/>
<text transform="translate(15.00 393.97) scale(0.8 1)" x="0" y="0" font-family="'Liberation Sans', Arial, sans-serif" font-size="7.6" fill="#3c3734" text-anchor="end">-20</text>
<line x1="17.70" y1="377.89" x2="20.90" y2="377.89" stroke="#2b2b2b" stroke-width="0.9"/>
<text transform="translate(15.00 380.49) scale(0.8 1)" x="0" y="0" font-family="'Liberation Sans', Arial, sans-serif" font-size="7.6" fill="#3c3734" text-anchor="end">-10</text>
<line x1="17.70" y1="364.40" x2="20.90" y2="364.40" stroke="#2b2b2b" stroke-width="0.9"/>
<text transform="translate(15.00 367.00) scale(0.8 1)" x="0" y="0" font-family="'Liberation Sans', Arial, sans-serif" font-size="7.6" fill="#3c3734" text-anchor="end">0</text>
<line x1="17.70" y1="350.91" x2="20.90" y2="350.91" stroke="#2b2b2b" stroke-width="0.9"/>
<text transform="translate(15.00 353.51) scale(0.8 1)" x="0" y="0" font-family="'Liberation Sans', Arial, sans-serif" font-size="7.6" fill="#3c3734" text-anchor="end">10</text>
<line x1="17.70" y1="337.43" x2="20.90" y2="337.43" stroke="#2b2b2b" stroke-width="0.9"/>
<text transform="translate(15.00 340.03) scale(0.8 1)" x="0" y="0" font-family="'Liberation Sans', Arial, sans-serif" font-size="7.6" fill="#3c3734" text-anchor="end">20</text>
<line x1="17.70" y1="323.94" x2="20.90" y2="323.94" stroke="#2b2b2b" stroke-width="0.9"/>
<text transform="translate(15.00 326.54) scale(0.8 1)" x="0" y="0" font-family="'Liberation Sans', Arial, sans-serif" font-size="7.6" fill="#3c3734" text-anchor="end">30</text>
<line x1="17.70" y1="310.46" x2="20.90" y2="310.46" stroke="#2b2b2b" stroke-width="0.9"/>
<text transform="translate(15.00 313.06) scale(0.8 1)" x="0" y="0" font-family="'Liberation Sans', Arial, sans-serif" font-size="7.6" fill="#3c3734" text-anchor="end">40</text>
<line x1="17.70" y1="296.97" x2="20.90" y2="296.97" stroke="#2b2b2b" stroke-width="0.9"/>
<text transform="translate(15.00 299.57) scale(0.8 1)" x="0" y="0" font-family="'Liberation Sans', Arial, sans-serif" font-size="7.6" fill="#3c3734" text-anchor="end">50</text>
<line x1="19.30" y1="384.63" x2="20.70" y2="384.63" stroke="#2b2b2b" stroke-width="0.7"/>
<line x1="19.30" y1="371.14" x2="20.70" y2="371.14" stroke="#2b2b2b" stroke-width="0.7"/>
<line x1="19.30" y1="357.66" x2="20.70" y2="357.66" stroke="#2b2b2b" stroke-width="0.7"/>
<line x1="19.30" y1="344.17" x2="20.70" y2="344.17" stroke="#2b2b2b" stroke-width="0.7"/>
<line x1="19.30" y1="330.68" x2="20.70" y2="330.68" stroke="#2b2b2b" stroke-width="0.7"/>
<line x1="19.30" y1="317.20" x2="20.70" y2="317.20" stroke="#2b2b2b" stroke-width="0.7"/>
<line x1="19.30" y1="303.71" x2="20.70" y2="303.71" stroke="#2b2b2b" stroke-width="0.7"/>
<line x1="19.30" y1="391.70" x2="167.70" y2="391.70" stroke="#2b2b2b" stroke-width="0.9"/>
<line x1="19.50" y1="391.20" x2="19.50" y2="393.50" stroke="#2b2b2b" stroke-width="0.9"/>
<line x1="46.40" y1="391.20" x2="46.40" y2="393.50" stroke="#2b2b2b" stroke-width="0.9"/>
<line x1="73.30" y1="391.20" x2="73.30" y2="393.50" stroke="#2b2b2b" stroke-width="0.9"/>
<line x1="100.20" y1="391.20" x2="100.20" y2="393.50" stroke="#2b2b2b" stroke-width="0.9"/>
<line x1="127.10" y1="391.20" x2="127.10" y2="393.50" stroke="#2b2b2b" stroke-width="0.9"/>
<line x1="154.00" y1="391.20" x2="154.00" y2="393.50" stroke="#2b2b2b" stroke-width="0.9"/>
<text transform="translate(18.90 402.40) scale(0.8 1)" x="0" y="0" font-family="'Liberation Sans', Arial, sans-serif" font-size="7.6" fill="#3c3734" text-anchor="middle">-100</text>
<text transform="translate(46.40 402.40) scale(0.8 1)" x="0" y="0" font-family="'Liberation Sans', Arial, sans-serif" font-size="7.6" fill="#3c3734" text-anchor="middle">0</text>
<text transform="translate(73.30 402.40) scale(0.8 1)" x="0" y="0" font-family="'Liberation Sans', Arial, sans-serif" font-size="7.6" fill="#3c3734" text-anchor="middle">100</text>
<text transform="translate(100.20 402.40) scale(0.8 1)" x="0" y="0" font-family="'Liberation Sans', Arial, sans-serif" font-size="7.6" fill="#3c3734" text-anchor="middle">200</text>
<text transform="translate(127.10 402.40) scale(0.8 1)" x="0" y="0" font-family="'Liberation Sans', Arial, sans-serif" font-size="7.6" fill="#3c3734" text-anchor="middle">300</text>
<text transform="translate(154.00 402.40) scale(0.8 1)" x="0" y="0" font-family="'Liberation Sans', Arial, sans-serif" font-size="7.6" fill="#3c3734" text-anchor="middle">400</text>
<text x="13.50" y="293.00" font-family="'Liberation Serif', 'Times New Roman', serif" font-size="7.6" fill="#1e1e1e" text-anchor="start" font-weight="bold" stroke="#1e1e1e" stroke-width="0.15">RU</text>
<text x="28.30" y="297.50" font-family="'Liberation Serif', 'Times New Roman', serif" font-size="8.4" fill="#1a1a1a" text-anchor="start" font-style="italic" stroke="#1a1a1a" stroke-width="0.18">pG</text>
<text x="164.50" y="400.40" font-family="'Liberation Serif', 'Times New Roman', serif" font-size="7.3" fill="#1e1e1e" text-anchor="start" font-weight="bold">T(s)</text>
<line x1="46.40" y1="364.40" x2="46.40" y2="376.54" stroke="#1aa0a0" stroke-width="0.8"/>
<line x1="30.26" y1="364.40" x2="46.40" y2="364.40" stroke="#222" stroke-width="1.2"/>
<polyline points="46.40,350.19 46.47,348.64 46.53,347.18 46.60,345.80 46.67,344.49 46.74,343.26 46.80,342.10 46.87,341.01 46.94,339.97 47.01,339.00 47.07,338.07 47.14,337.20 47.21,336.38 47.27,335.60 47.34,334.86 47.41,334.17 47.48,333.51 47.54,332.88 47.61,332.29 47.68,331.73 47.74,331.20 47.81,330.70 47.88,330.22 47.95,329.77 48.01,329.34 48.08,328.93 48.15,328.55 48.22,328.18 48.28,327.83 48.35,327.50 48.42,327.18 48.48,326.88 48.55,326.59 49.09,324.73 49.63,323.42 50.17,322.46 50.70,321.73 51.24,321.15 51.78,320.68 52.32,320.29 52.86,319.95 53.39,319.66 53.93,319.40 54.47,319.17 55.01,318.96 55.55,318.78 56.08,318.61 56.62,318.46 57.16,318.32 57.70,318.20 58.24,318.09 58.77,317.99 59.31,317.90 59.85,317.82 60.39,317.74 60.93,317.68 61.46,317.62 62.00,317.56 62.54,317.51 63.08,317.47 63.62,317.43 64.15,317.39 64.69,317.36 65.23,317.33 65.77,317.30 66.31,317.27 66.84,317.25 67.38,317.23 67.92,317.21 68.46,317.20 69.00,317.18 69.53,317.17 70.07,317.16 70.61,317.15 71.15,317.14 71.69,317.13 72.22,317.12 72.76,317.11 73.30,317.10 73.84,317.10 74.38,317.09 74.91,317.09 75.45,317.08 75.99,317.08 76.53,317.08 77.07,317.07 77.60,317.07 78.14,317.07 78.68,317.06 78.68,345.79" fill="none" stroke="#141414" stroke-width="1.0" stroke-linejoin="round" opacity="1.0"/>
<polyline points="78.68,345.79 79.69,345.98 80.71,346.36 81.72,346.86 82.74,347.44 83.75,348.10 84.77,348.81 85.78,349.54 86.80,350.30 87.81,351.06 88.83,351.82 89.84,352.56 90.86,353.29 91.87,353.99 92.89,354.66 93.90,355.30 94.92,355.90 95.93,356.47 96.94,357.00 97.96,357.49 98.97,357.94 99.99,358.36 101.00,358.74 102.02,359.08 103.03,359.40 104.05,359.68 105.06,359.93 106.08,360.16 107.09,360.36 108.11,360.54 109.12,360.70 110.14,360.83 111.15,360.96 112.17,361.06 113.18,361.16 114.19,361.24 115.21,361.31 116.22,361.37 117.24,361.42 118.25,361.46 119.27,361.50 120.28,361.53 121.30,361.56 122.31,361.59 123.33,361.61 124.34,361.62 125.36,361.64 126.37,361.65 127.39,361.66 128.40,361.67 129.42,361.67 130.43,361.68 131.44,361.68 132.46,361.69 133.47,361.69 134.49,361.69 135.50,361.69 136.52,361.70 137.53,361.70 138.55,361.70 139.56,361.70 140.58,361.70 141.59,361.70 142.61,361.70 143.62,361.70 144.64,361.70 145.65,361.70 146.67,361.70 147.68,361.70 148.69,361.70 149.71,361.70 150.72,361.70 151.74,361.70 152.75,361.70 153.77,361.70 154.78,361.70 155.80,361.70 156.81,361.70 157.83,361.70 158.84,361.70" fill="none" stroke="#1c1c1c" stroke-width="1.0" stroke-linejoin="round" opacity="1.0"/>
<polyline points="46.40,351.85 46.47,350.48 46.53,349.19 46.60,347.97 46.67,346.82 46.74,345.73 46.80,344.71 46.87,343.74 46.94,342.83 47.01,341.96 47.07,341.15 47.14,340.38 47.21,339.65 47.27,338.96 47.34,338.31 47.41,337.70 47.48,337.12 47.54,336.56 47.61,336.04 47.68,335.55 47.74,335.08 47.81,334.64 47.88,334.21 47.95,333.82 48.01,333.44 48.08,333.08 48.15,332.74 48.22,332.41 48.28,332.10 48.35,331.81 48.42,331.53 48.48,331.26 48.55,331.01 49.09,329.36 49.63,328.20 50.17,327.36 50.70,326.71 51.24,326.21 51.78,325.79 52.32,325.44 52.86,325.14 53.39,324.88 53.93,324.65 54.47,324.45 55.01,324.27 55.55,324.11 56.08,323.96 56.62,323.83 57.16,323.71 57.70,323.60 58.24,323.50 58.77,323.41 59.31,323.33 59.85,323.26 60.39,323.19 60.93,323.13 61.46,323.08 62.00,323.03 62.54,322.99 63.08,322.95 63.62,322.91 64.15,322.88 64.69,322.85 65.23,322.83 65.77,322.80 66.31,322.78 66.84,322.76 67.38,322.74 67.92,322.73 68.46,322.71 69.00,322.70 69.53,322.69 70.07,322.68 70.61,322.67 71.15,322.66 71.69,322.65 72.22,322.64 72.76,322.63 73.30,322.63 73.84,322.62 74.38,322.62 74.91,322.61 75.45,322.61 75.99,322.61 76.53,322.60 77.07,322.60 77.60,322.60 78.14,322.60 78.68,322.59 78.68,348.22" fill="none" stroke="#141414" stroke-width="1.0" stroke-linejoin="round" opacity="1.0"/>
<polyline points="78.68,348.22 79.69,348.38 80.71,348.71 81.72,349.14 82.74,349.65 83.75,350.22 84.77,350.82 85.78,351.46 86.80,352.11 87.81,352.77 88.83,353.43 89.84,354.07 90.86,354.70 91.87,355.30 92.89,355.89 93.90,356.44 94.92,356.96 95.93,357.45 96.94,357.91 97.96,358.33 98.97,358.72 99.99,359.08 101.00,359.41 102.02,359.71 103.03,359.98 104.05,360.22 105.06,360.44 106.08,360.64 107.09,360.81 108.11,360.97 109.12,361.10 110.14,361.22 111.15,361.33 112.17,361.42 113.18,361.50 114.19,361.57 115.21,361.63 116.22,361.68 117.24,361.73 118.25,361.77 119.27,361.80 120.28,361.83 121.30,361.85 122.31,361.87 123.33,361.89 124.34,361.90 125.36,361.91 126.37,361.92 127.39,361.93 128.40,361.94 129.42,361.95 130.43,361.95 131.44,361.95 132.46,361.96 133.47,361.96 134.49,361.96 135.50,361.96 136.52,361.97 137.53,361.97 138.55,361.97 139.56,361.97 140.58,361.97 141.59,361.97 142.61,361.97 143.62,361.97 144.64,361.97 145.65,361.97 146.67,361.97 147.68,361.97 148.69,361.97 149.71,361.97 150.72,361.97 151.74,361.97 152.75,361.97 153.77,361.97 154.78,361.97 155.80,361.97 156.81,361.97 157.83,361.97 158.84,361.97" fill="none" stroke="#1c1c1c" stroke-width="1.0" stroke-linejoin="round" opacity="1.0"/>
<polyline points="46.40,353.55 46.47,352.37 46.53,351.25 46.60,350.19 46.67,349.20 46.74,348.26 46.80,347.38 46.87,346.54 46.94,345.75 47.01,345.00 47.07,344.30 47.14,343.63 47.21,343.00 47.27,342.41 47.34,341.85 47.41,341.32 47.48,340.81 47.54,340.34 47.61,339.88 47.68,339.46 47.74,339.05 47.81,338.67 47.88,338.30 47.95,337.96 48.01,337.63 48.08,337.32 48.15,337.03 48.22,336.74 48.28,336.48 48.35,336.22 48.42,335.98 48.48,335.75 48.55,335.53 49.09,334.11 49.63,333.11 50.17,332.38 50.70,331.82 51.24,331.38 51.78,331.02 52.32,330.72 52.86,330.46 53.39,330.24 53.93,330.04 54.47,329.86 55.01,329.71 55.55,329.56 56.08,329.44 56.62,329.32 57.16,329.22 57.70,329.13 58.24,329.04 58.77,328.96 59.31,328.90 59.85,328.83 60.39,328.78 60.93,328.73 61.46,328.68 62.00,328.64 62.54,328.60 63.08,328.57 63.62,328.53 64.15,328.51 64.69,328.48 65.23,328.46 65.77,328.44 66.31,328.42 66.84,328.40 67.38,328.39 67.92,328.37 68.46,328.36 69.00,328.35 69.53,328.34 70.07,328.33 70.61,328.32 71.15,328.31 71.69,328.31 72.22,328.30 72.76,328.29 73.30,328.29 73.84,328.28 74.38,328.28 74.91,328.28 75.45,328.27 75.99,328.27 76.53,328.27 77.07,328.26 77.60,328.26 78.14,328.26 78.68,328.26 78.68,350.51" fill="none" stroke="#141414" stroke-width="1.0" stroke-linejoin="round" opacity="1.0"/>
<polyline points="78.68,350.51 79.69,350.65 80.71,350.93 81.72,351.30 82.74,351.73 83.75,352.21 84.77,352.73 85.78,353.28 86.80,353.83 87.81,354.39 88.83,354.95 89.84,355.50 90.86,356.04 91.87,356.55 92.89,357.05 93.90,357.52 94.92,357.97 95.93,358.38 96.94,358.77 97.96,359.14 98.97,359.47 99.99,359.78 101.00,360.06 102.02,360.31 103.03,360.54 104.05,360.75 105.06,360.94 106.08,361.10 107.09,361.25 108.11,361.38 109.12,361.50 110.14,361.60 111.15,361.69 112.17,361.77 113.18,361.84 114.19,361.90 115.21,361.95 116.22,362.00 117.24,362.03 118.25,362.07 119.27,362.09 120.28,362.12 121.30,362.14 122.31,362.16 123.33,362.17 124.34,362.18 125.36,362.19 126.37,362.20 127.39,362.21 128.40,362.21 129.42,362.22 130.43,362.22 131.44,362.23 132.46,362.23 133.47,362.23 134.49,362.23 135.50,362.24 136.52,362.24 137.53,362.24 138.55,362.24 139.56,362.24 140.58,362.24 141.59,362.24 142.61,362.24 143.62,362.24 144.64,362.24 145.65,362.24 146.67,362.24 147.68,362.24 148.69,362.24 149.71,362.24 150.72,362.24 151.74,362.24 152.75,362.24 153.77,362.24 154.78,362.24 155.80,362.24 156.81,362.24 157.83,362.24 158.84,362.24" fill="none" stroke="#1c1c1c" stroke-width="1.0" stroke-linejoin="round" opacity="1.0"/>
<polyline points="46.40,355.41 46.47,354.43 46.53,353.51 46.60,352.63 46.67,351.81 46.74,351.03 46.80,350.30 46.87,349.60 46.94,348.95 47.01,348.33 47.07,347.75 47.14,347.20 47.21,346.68 47.27,346.18 47.34,345.72 47.41,345.28 47.48,344.86 47.54,344.47 47.61,344.09 47.68,343.74 47.74,343.40 47.81,343.08 47.88,342.78 47.95,342.50 48.01,342.23 48.08,341.97 48.15,341.72 48.22,341.49 48.28,341.27 48.35,341.06 48.42,340.86 48.48,340.67 48.55,340.49 49.09,339.31 49.63,338.48 50.17,337.87 50.70,337.41 51.24,337.05 51.78,336.75 52.32,336.50 52.86,336.29 53.39,336.10 53.93,335.94 54.47,335.79 55.01,335.66 55.55,335.54 56.08,335.44 56.62,335.34 57.16,335.26 57.70,335.18 58.24,335.11 58.77,335.05 59.31,334.99 59.85,334.94 60.39,334.89 60.93,334.85 61.46,334.81 62.00,334.78 62.54,334.74 63.08,334.72 63.62,334.69 64.15,334.67 64.69,334.65 65.23,334.63 65.77,334.61 66.31,334.59 66.84,334.58 67.38,334.57 67.92,334.56 68.46,334.55 69.00,334.54 69.53,334.53 70.07,334.52 70.61,334.51 71.15,334.51 71.69,334.50 72.22,334.50 72.76,334.49 73.30,334.49 73.84,334.48 74.38,334.48 74.91,334.48 75.45,334.47 75.99,334.47 76.53,334.47 77.07,334.47 77.60,334.46 78.14,334.46 78.68,334.46 78.68,352.80" fill="none" stroke="#141414" stroke-width="1.0" stroke-linejoin="round" opacity="1.0"/>
<polyline points="78.68,352.80 79.69,352.92 80.71,353.14 81.72,353.44 82.74,353.80 83.75,354.19 84.77,354.62 85.78,355.06 86.80,355.51 87.81,355.97 88.83,356.43 89.84,356.88 90.86,357.31 91.87,357.74 92.89,358.14 93.90,358.52 94.92,358.89 95.93,359.23 96.94,359.55 97.96,359.84 98.97,360.11 99.99,360.36 101.00,360.59 102.02,360.80 103.03,360.99 104.05,361.16 105.06,361.31 106.08,361.45 107.09,361.57 108.11,361.68 109.12,361.77 110.14,361.85 111.15,361.93 112.17,361.99 113.18,362.05 114.19,362.10 115.21,362.14 116.22,362.18 117.24,362.21 118.25,362.23 119.27,362.26 120.28,362.28 121.30,362.29 122.31,362.31 123.33,362.32 124.34,362.33 125.36,362.34 126.37,362.34 127.39,362.35 128.40,362.35 129.42,362.36 130.43,362.36 131.44,362.36 132.46,362.37 133.47,362.37 134.49,362.37 135.50,362.37 136.52,362.37 137.53,362.37 138.55,362.37 139.56,362.37 140.58,362.38 141.59,362.38 142.61,362.38 143.62,362.38 144.64,362.38 145.65,362.38 146.67,362.38 147.68,362.38 148.69,362.38 149.71,362.38 150.72,362.38 151.74,362.38 152.75,362.38 153.77,362.38 154.78,362.38 155.80,362.38 156.81,362.38 157.83,362.38 158.84,362.38" fill="none" stroke="#1c1c1c" stroke-width="1.0" stroke-linejoin="round" opacity="1.0"/>
<polyline points="46.40,358.61 46.47,357.98 46.53,357.38 46.60,356.82 46.67,356.29 46.74,355.79 46.80,355.32 46.87,354.87 46.94,354.45 47.01,354.05 47.07,353.67 47.14,353.32 47.21,352.98 47.27,352.67 47.34,352.37 47.41,352.08 47.48,351.81 47.54,351.56 47.61,351.32 47.68,351.09 47.74,350.87 47.81,350.67 47.88,350.48 47.95,350.29 48.01,350.12 48.08,349.95 48.15,349.79 48.22,349.64 48.28,349.50 48.35,349.37 48.42,349.24 48.48,349.11 48.55,349.00 49.09,348.24 49.63,347.70 50.17,347.31 50.70,347.02 51.24,346.78 51.78,346.59 52.32,346.43 52.86,346.29 53.39,346.17 53.93,346.07 54.47,345.97 55.01,345.89 55.55,345.81 56.08,345.74 56.62,345.68 57.16,345.63 57.70,345.58 58.24,345.53 58.77,345.49 59.31,345.46 59.85,345.42 60.39,345.39 60.93,345.36 61.46,345.34 62.00,345.32 62.54,345.30 63.08,345.28 63.62,345.26 64.15,345.25 64.69,345.23 65.23,345.22 65.77,345.21 66.31,345.20 66.84,345.19 67.38,345.18 67.92,345.18 68.46,345.17 69.00,345.16 69.53,345.16 70.07,345.15 70.61,345.15 71.15,345.14 71.69,345.14 72.22,345.14 72.76,345.13 73.30,345.13 73.84,345.13 74.38,345.13 74.91,345.12 75.45,345.12 75.99,345.12 76.53,345.12 77.07,345.12 77.60,345.12 78.14,345.12 78.68,345.12 78.68,354.96" fill="none" stroke="#141414" stroke-width="1.0" stroke-linejoin="round" opacity="1.0"/>
<polyline points="78.68,354.96 79.69,355.05 80.71,355.23 81.72,355.47 82.74,355.76 83.75,356.08 84.77,356.42 85.78,356.77 86.80,357.14 87.81,357.50 88.83,357.87 89.84,358.23 90.86,358.58 91.87,358.92 92.89,359.25 93.90,359.55 94.92,359.85 95.93,360.12 96.94,360.37 97.96,360.61 98.97,360.83 99.99,361.03 101.00,361.21 102.02,361.38 103.03,361.53 104.05,361.67 105.06,361.79 106.08,361.90 107.09,362.00 108.11,362.08 109.12,362.16 110.14,362.23 111.15,362.29 112.17,362.34 113.18,362.38 114.19,362.42 115.21,362.46 116.22,362.48 117.24,362.51 118.25,362.53 119.27,362.55 120.28,362.57 121.30,362.58 122.31,362.59 123.33,362.60 124.34,362.61 125.36,362.61 126.37,362.62 127.39,362.62 128.40,362.63 129.42,362.63 130.43,362.63 131.44,362.64 132.46,362.64 133.47,362.64 134.49,362.64 135.50,362.64 136.52,362.64 137.53,362.64 138.55,362.64 139.56,362.65 140.58,362.65 141.59,362.65 142.61,362.65 143.62,362.65 144.64,362.65 145.65,362.65 146.67,362.65 147.68,362.65 148.69,362.65 149.71,362.65 150.72,362.65 151.74,362.65 152.75,362.65 153.77,362.65 154.78,362.65 155.80,362.65 156.81,362.65 157.83,362.65 158.84,362.65" fill="none" stroke="#1c1c1c" stroke-width="1.0" stroke-linejoin="round" opacity="1.0"/>
<polyline points="46.40,361.49 46.47,361.17 46.53,360.87 46.60,360.58 46.67,360.32 46.74,360.06 46.80,359.83 46.87,359.60 46.94,359.39 47.01,359.19 47.07,359.00 47.14,358.82 47.21,358.65 47.27,358.49 47.34,358.34 47.41,358.20 47.48,358.06 47.54,357.93 47.61,357.81 47.68,357.70 47.74,357.59 47.81,357.49 47.88,357.39 47.95,357.30 48.01,357.21 48.08,357.12 48.15,357.05 48.22,356.97 48.28,356.90 48.35,356.83 48.42,356.77 48.48,356.70 48.55,356.65 49.09,356.26 49.63,355.99 50.17,355.80 50.70,355.65 51.24,355.53 51.78,355.43 52.32,355.35 52.86,355.28 53.39,355.22 53.93,355.17 54.47,355.12 55.01,355.08 55.55,355.04 56.08,355.01 56.62,354.98 57.16,354.95 57.70,354.92 58.24,354.90 58.77,354.88 59.31,354.86 59.85,354.84 60.39,354.83 60.93,354.82 61.46,354.80 62.00,354.79 62.54,354.78 63.08,354.77 63.62,354.76 64.15,354.76 64.69,354.75 65.23,354.74 65.77,354.74 66.31,354.73 66.84,354.73 67.38,354.72 67.92,354.72 68.46,354.72 69.00,354.71 69.53,354.71 70.07,354.71 70.61,354.71 71.15,354.70 71.69,354.70 72.22,354.70 72.76,354.70 73.30,354.70 73.84,354.70 74.38,354.70 74.91,354.69 75.45,354.69 75.99,354.69 76.53,354.69 77.07,354.69 77.60,354.69 78.14,354.69 78.68,354.69 78.68,359.01" fill="none" stroke="#141414" stroke-width="1.0" stroke-linejoin="round" opacity="1.0"/>
<polyline points="78.68,359.01 79.69,359.05 80.71,359.14 81.72,359.27 82.74,359.41 83.75,359.57 84.77,359.75 85.78,359.93 86.80,360.11 87.81,360.30 88.83,360.49 89.84,360.67 90.86,360.85 91.87,361.02 92.89,361.19 93.90,361.34 94.92,361.49 95.93,361.63 96.94,361.76 97.96,361.88 98.97,361.99 99.99,362.09 101.00,362.19 102.02,362.27 103.03,362.35 104.05,362.42 105.06,362.48 106.08,362.54 107.09,362.59 108.11,362.63 109.12,362.67 110.14,362.70 111.15,362.73 112.17,362.76 113.18,362.78 114.19,362.80 115.21,362.82 116.22,362.83 117.24,362.85 118.25,362.86 119.27,362.87 120.28,362.88 121.30,362.88 122.31,362.89 123.33,362.89 124.34,362.90 125.36,362.90 126.37,362.90 127.39,362.91 128.40,362.91 129.42,362.91 130.43,362.91 131.44,362.91 132.46,362.91 133.47,362.91 134.49,362.91 135.50,362.91 136.52,362.91 137.53,362.92 138.55,362.92 139.56,362.92 140.58,362.92 141.59,362.92 142.61,362.92 143.62,362.92 144.64,362.92 145.65,362.92 146.67,362.92 147.68,362.92 148.69,362.92 149.71,362.92 150.72,362.92 151.74,362.92 152.75,362.92 153.77,362.92 154.78,362.92 155.80,362.92 156.81,362.92 157.83,362.92 158.84,362.92" fill="none" stroke="#1c1c1c" stroke-width="1.0" stroke-linejoin="round" opacity="1.0"/>
<polyline points="46.40,362.25 46.47,362.02 46.53,361.80 46.60,361.59 46.67,361.39 46.74,361.21 46.80,361.03 46.87,360.87 46.94,360.71 47.01,360.56 47.07,360.42 47.14,360.29 47.21,360.17 47.27,360.05 47.34,359.94 47.41,359.83 47.48,359.74 47.54,359.64 47.61,359.55 47.68,359.47 47.74,359.39 47.81,359.31 47.88,359.24 47.95,359.17 48.01,359.11 48.08,359.04 48.15,358.99 48.22,358.93 48.28,358.88 48.35,358.83 48.42,358.78 48.48,358.73 48.55,358.69 49.09,358.41 49.63,358.21 50.17,358.07 50.70,357.96 51.24,357.87 51.78,357.80 52.32,357.74 52.86,357.69 53.39,357.64 53.93,357.60 54.47,357.57 55.01,357.54 55.55,357.51 56.08,357.49 56.62,357.46 57.16,357.44 57.70,357.42 58.24,357.41 58.77,357.39 59.31,357.38 59.85,357.37 60.39,357.36 60.93,357.34 61.46,357.34 62.00,357.33 62.54,357.32 63.08,357.31 63.62,357.31 64.15,357.30 64.69,357.30 65.23,357.29 65.77,357.29 66.31,357.28 66.84,357.28 67.38,357.28 67.92,357.28 68.46,357.27 69.00,357.27 69.53,357.27 70.07,357.27 70.61,357.26 71.15,357.26 71.69,357.26 72.22,357.26 72.76,357.26 73.30,357.26 73.84,357.26 74.38,357.26 74.91,357.26 75.45,357.26 75.99,357.25 76.53,357.25 77.07,357.25 77.60,357.25 78.14,357.25 78.68,357.25 78.68,360.89" fill="none" stroke="#141414" stroke-width="1.0" stroke-linejoin="round" opacity="1.0"/>
<polyline points="78.68,360.89 79.69,360.92 80.71,360.98 81.72,361.06 82.74,361.15 83.75,361.25 84.77,361.35 85.78,361.47 86.80,361.58 87.81,361.70 88.83,361.81 89.84,361.93 90.86,362.04 91.87,362.14 92.89,362.25 93.90,362.34 94.92,362.44 95.93,362.52 96.94,362.60 97.96,362.68 98.97,362.75 99.99,362.81 101.00,362.87 102.02,362.92 103.03,362.97 104.05,363.01 105.06,363.05 106.08,363.09 107.09,363.12 108.11,363.14 109.12,363.17 110.14,363.19 111.15,363.21 112.17,363.22 113.18,363.24 114.19,363.25 115.21,363.26 116.22,363.27 117.24,363.28 118.25,363.28 119.27,363.29 120.28,363.30 121.30,363.30 122.31,363.30 123.33,363.31 124.34,363.31 125.36,363.31 126.37,363.31 127.39,363.31 128.40,363.32 129.42,363.32 130.43,363.32 131.44,363.32 132.46,363.32 133.47,363.32 134.49,363.32 135.50,363.32 136.52,363.32 137.53,363.32 138.55,363.32 139.56,363.32 140.58,363.32 141.59,363.32 142.61,363.32 143.62,363.32 144.64,363.32 145.65,363.32 146.67,363.32 147.68,363.32 148.69,363.32 149.71,363.32 150.72,363.32 151.74,363.32 152.75,363.32 153.77,363.32 154.78,363.32 155.80,363.32 156.81,363.32 157.83,363.32 158.84,363.32" fill="none" stroke="#1c1c1c" stroke-width="1.0" stroke-linejoin="round" opacity="1.0"/>
<polyline points="46.40,362.82 46.47,362.65 46.53,362.49 46.60,362.33 46.67,362.19 46.74,362.05 46.80,361.92 46.87,361.80 46.94,361.69 47.01,361.58 47.07,361.47 47.14,361.38 47.21,361.29 47.27,361.20 47.34,361.12 47.41,361.04 47.48,360.97 47.54,360.90 47.61,360.83 47.68,360.77 47.74,360.71 47.81,360.66 47.88,360.60 47.95,360.55 48.01,360.50 48.08,360.46 48.15,360.42 48.22,360.38 48.28,360.34 48.35,360.30 48.42,360.26 48.48,360.23 48.55,360.20 49.09,359.99 49.63,359.85 50.17,359.74 50.70,359.66 51.24,359.59 51.78,359.54 52.32,359.50 52.86,359.46 53.39,359.43 53.93,359.40 54.47,359.37 55.01,359.35 55.55,359.33 56.08,359.31 56.62,359.30 57.16,359.28 57.70,359.27 58.24,359.25 58.77,359.24 59.31,359.23 59.85,359.22 60.39,359.22 60.93,359.21 61.46,359.20 62.00,359.20 62.54,359.19 63.08,359.19 63.62,359.18 64.15,359.18 64.69,359.17 65.23,359.17 65.77,359.17 66.31,359.16 66.84,359.16 67.38,359.16 67.92,359.16 68.46,359.16 69.00,359.15 69.53,359.15 70.07,359.15 70.61,359.15 71.15,359.15 71.69,359.15 72.22,359.15 72.76,359.15 73.30,359.14 73.84,359.14 74.38,359.14 74.91,359.14 75.45,359.14 75.99,359.14 76.53,359.14 77.07,359.14 77.60,359.14 78.14,359.14 78.68,359.14 78.68,363.86" fill="none" stroke="#141414" stroke-width="1.0" stroke-linejoin="round" opacity="1.0"/>
<polyline points="78.68,363.86 79.69,363.86 80.71,363.86 81.72,363.86 82.74,363.86 83.75,363.86 84.77,363.86 85.78,363.86 86.80,363.86 87.81,363.86 88.83,363.86 89.84,363.86 90.86,363.86 91.87,363.86 92.89,363.86 93.90,363.86 94.92,363.86 95.93,363.86 96.94,363.86 97.96,363.86 98.97,363.86 99.99,363.86 101.00,363.86 102.02,363.86 103.03,363.86 104.05,363.86 105.06,363.86 106.08,363.86 107.09,363.86 108.11,363.86 109.12,363.86 110.14,363.86 111.15,363.86 112.17,363.86 113.18,363.86 114.19,363.86 115.21,363.86 116.22,363.86 117.24,363.86 118.25,363.86 119.27,363.86 120.28,363.86 121.30,363.86 122.31,363.86 123.33,363.86 124.34,363.86 125.36,363.86 126.37,363.86 127.39,363.86 128.40,363.86 129.42,363.86 130.43,363.86 131.44,363.86 132.46,363.86 133.47,363.86 134.49,363.86 135.50,363.86 136.52,363.86 137.53,363.86 138.55,363.86 139.56,363.86 140.58,363.86 141.59,363.86 142.61,363.86 143.62,363.86 144.64,363.86 145.65,363.86 146.67,363.86 147.68,363.86 148.69,363.86 149.71,363.86 150.72,363.86 151.74,363.86 152.75,363.86 153.77,363.86 154.78,363.86 155.80,363.86 156.81,363.86 157.83,363.86 158.84,363.86" fill="none" stroke="#1c1c1c" stroke-width="1.0" stroke-linejoin="round" opacity="1.0"/>
<polyline points="46.40,364.40 46.47,364.32 46.53,364.24 46.60,364.16 46.67,364.09 46.74,364.01 46.80,363.94 46.87,363.86 46.94,363.79 47.01,363.72 47.07,363.64 47.14,363.57 47.21,363.50 47.27,363.43 47.34,363.37 47.41,363.30 47.48,363.23 47.54,363.16 47.61,363.10 47.68,363.03 47.74,362.97 47.81,362.91 47.88,362.84 47.95,362.78 48.01,362.72 48.08,362.66 48.15,362.60 48.22,362.54 48.28,362.48 48.35,362.43 48.42,362.37 48.48,362.31 48.55,362.25 49.09,361.83 49.63,361.43 50.17,361.06 50.70,360.73 51.24,360.41 51.78,360.12 52.32,359.85 52.86,359.59 53.39,359.36 53.93,359.13 54.47,358.93 55.01,358.73 55.55,358.55 56.08,358.38 56.62,358.22 57.16,358.07 57.70,357.93 58.24,357.80 58.77,357.68 59.31,357.56 59.85,357.45 60.39,357.35 60.93,357.25 61.46,357.16 62.00,357.07 62.54,356.99 63.08,356.91 63.62,356.84 64.15,356.78 64.69,356.71 65.23,356.65 65.77,356.60 66.31,356.54 66.84,356.49 67.38,356.45 67.92,356.40 68.46,356.36 69.00,356.32 69.53,356.28 70.07,356.25 70.61,356.22 71.15,356.19 71.69,356.16 72.22,356.13 72.76,356.10 73.30,356.08 73.84,356.06 74.38,356.04 74.91,356.02 75.45,356.00 75.99,355.98 76.53,355.96 77.07,355.95 77.60,355.93 78.14,355.92 78.68,355.90 78.68,360.35 79.69,360.36 80.71,360.36 81.72,360.37 82.74,360.38 83.75,360.39 84.77,360.41 85.78,360.42 86.80,360.43 87.81,360.44 88.83,360.46 89.84,360.47 90.86,360.48 91.87,360.49 92.89,360.50 93.90,360.52 94.92,360.53 95.93,360.54 96.94,360.54 97.96,360.55 98.97,360.56 99.99,360.57 101.00,360.57 102.02,360.58 103.03,360.58 104.05,360.59 105.06,360.59 106.08,360.60 107.09,360.60 108.11,360.60 109.12,360.61 110.14,360.61 111.15,360.61 112.17,360.61 113.18,360.61 114.19,360.62 115.21,360.62 116.22,360.62 117.24,360.62 118.25,360.62 119.27,360.62 120.28,360.62 121.30,360.62 122.31,360.62 123.33,360.62 124.34,360.62 125.36,360.62 126.37,360.62 127.39,360.62 128.40,360.62 129.42,360.62 130.43,360.62 131.44,360.62 132.46,360.62 133.47,360.62 134.49,360.62 135.50,360.62 136.52,360.62 137.53,360.62 138.55,360.62 139.56,360.62 140.58,360.62 141.59,360.62 142.61,360.62 143.62,360.62 144.64,360.62 145.65,360.62 146.67,360.62 147.68,360.62 148.69,360.62 149.71,360.62 150.72,360.62 151.74,360.62 152.75,360.62 153.77,360.62 154.78,360.62 155.80,360.62 156.81,360.62 157.83,360.62 158.84,360.62" fill="none" stroke="#ee1c24" stroke-width="0.95" stroke-linejoin="round" opacity="1.0"/>
<polyline points="46.40,364.40 46.47,364.38 46.53,364.36 46.60,364.34 46.67,364.32 46.74,364.31 46.80,364.29 46.87,364.27 46.94,364.25 47.01,364.24 47.07,364.22 47.14,364.21 47.21,364.19 47.27,364.18 47.34,364.16 47.41,364.15 47.48,364.14 47.54,364.12 47.61,364.11 47.68,364.10 47.74,364.08 47.81,363.95 47.88,363.83 47.95,363.70 48.01,363.57 48.08,363.45 48.15,363.32 48.22,363.20 48.28,363.08 48.35,362.96 48.42,362.84 48.48,362.72 48.55,362.60 49.09,361.70 49.63,360.86 50.17,360.07 50.70,359.33 51.24,358.65 51.78,358.00 52.32,357.40 52.86,356.83 53.39,356.30 53.93,355.80 54.47,355.33 55.01,354.89 55.55,354.48 56.08,354.09 56.62,353.72 57.16,353.38 57.70,353.05 58.24,352.75 58.77,352.46 59.31,352.19 59.85,351.94 60.39,351.70 60.93,351.48 61.46,351.26 62.00,351.07 62.54,350.88 63.08,350.70 63.62,350.54 64.15,350.38 64.69,350.23 65.23,350.09 65.77,349.96 66.31,349.84 66.84,349.72 67.38,349.61 67.92,349.51 68.46,349.41 69.00,349.32 69.53,349.24 70.07,349.16 70.61,349.08 71.15,349.01 71.69,348.94 72.22,348.88 72.76,348.82 73.30,348.76 73.84,348.71 74.38,348.66 74.91,348.61 75.45,348.57 75.99,348.53 76.53,348.49 77.07,348.45 77.60,348.42 78.14,348.38 78.68,348.35 78.68,359.81 79.69,359.84 80.71,359.90 81.72,359.98 82.74,360.07 83.75,360.17 84.77,360.27 85.78,360.39 86.80,360.50 87.81,360.62 88.83,360.73 89.84,360.85 90.86,360.96 91.87,361.07 92.89,361.17 93.90,361.27 94.92,361.36 95.93,361.44 96.94,361.52 97.96,361.60 98.97,361.67 99.99,361.73 101.00,361.79 102.02,361.84 103.03,361.89 104.05,361.93 105.06,361.97 106.08,362.01 107.09,362.04 108.11,362.06 109.12,362.09 110.14,362.11 111.15,362.13 112.17,362.14 113.18,362.16 114.19,362.17 115.21,362.18 116.22,362.19 117.24,362.20 118.25,362.21 119.27,362.21 120.28,362.22 121.30,362.22 122.31,362.22 123.33,362.23 124.34,362.23 125.36,362.23 126.37,362.23 127.39,362.24 128.40,362.24 129.42,362.24 130.43,362.24 131.44,362.24 132.46,362.24 133.47,362.24 134.49,362.24 135.50,362.24 136.52,362.24 137.53,362.24 138.55,362.24 139.56,362.24 140.58,362.24 141.59,362.24 142.61,362.24 143.62,362.24 144.64,362.24 145.65,362.24 146.67,362.24 147.68,362.24 148.69,362.24 149.71,362.24 150.72,362.24 151.74,362.24 152.75,362.24 153.77,362.24 154.78,362.24 155.80,362.24 156.81,362.24 157.83,362.24 158.84,362.24" fill="none" stroke="#16703a" stroke-width="0.95" stroke-linejoin="round" opacity="1.0"/>
<polyline points="46.40,364.40 46.47,364.36 46.53,364.32 46.60,364.28 46.67,364.24 46.74,364.20 46.80,364.16 46.87,364.13 46.94,364.09 47.01,364.06 47.07,364.03 47.14,363.99 47.21,363.96 47.27,363.93 47.34,363.90 47.41,363.87 47.48,363.84 47.54,363.81 47.61,363.79 47.68,363.76 47.74,363.73 47.81,363.71 47.88,363.68 47.95,363.66 48.01,363.64 48.08,363.44 48.15,363.24 48.22,363.05 48.28,362.85 48.35,362.66 48.42,362.47 48.48,362.28 48.55,362.10 49.09,360.65 49.63,359.30 50.17,358.03 50.70,356.83 51.24,355.70 51.78,354.63 52.32,353.63 52.86,352.67 53.39,351.77 53.93,350.91 54.47,350.11 55.01,349.34 55.55,348.61 56.08,347.92 56.62,347.26 57.16,346.64 57.70,346.05 58.24,345.48 58.77,344.95 59.31,344.44 59.85,343.96 60.39,343.50 60.93,343.07 61.46,342.65 62.00,342.26 62.54,341.88 63.08,341.53 63.62,341.19 64.15,340.86 64.69,340.56 65.23,340.27 65.77,339.99 66.31,339.73 66.84,339.48 67.38,339.24 67.92,339.01 68.46,338.79 69.00,338.59 69.53,338.39 70.07,338.21 70.61,338.03 71.15,337.86 71.69,337.70 72.22,337.55 72.76,337.41 73.30,337.27 73.84,337.14 74.38,337.01 74.91,336.90 75.45,336.78 75.99,336.68 76.53,336.57 77.07,336.48 77.60,336.39 78.14,336.30 78.68,336.21 78.68,359.01 79.69,359.04 80.71,359.11 81.72,359.20 82.74,359.31 83.75,359.44 84.77,359.57 85.78,359.71 86.80,359.85 87.81,359.99 88.83,360.13 89.84,360.27 90.86,360.40 91.87,360.53 92.89,360.66 93.90,360.78 94.92,360.89 95.93,361.00 96.94,361.10 97.96,361.19 98.97,361.27 99.99,361.35 101.00,361.42 102.02,361.48 103.03,361.54 104.05,361.59 105.06,361.64 106.08,361.68 107.09,361.72 108.11,361.76 109.12,361.78 110.14,361.81 111.15,361.83 112.17,361.85 113.18,361.87 114.19,361.89 115.21,361.90 116.22,361.91 117.24,361.92 118.25,361.93 119.27,361.94 120.28,361.94 121.30,361.95 122.31,361.95 123.33,361.95 124.34,361.96 125.36,361.96 126.37,361.96 127.39,361.96 128.40,361.97 129.42,361.97 130.43,361.97 131.44,361.97 132.46,361.97 133.47,361.97 134.49,361.97 135.50,361.97 136.52,361.97 137.53,361.97 138.55,361.97 139.56,361.97 140.58,361.97 141.59,361.97 142.61,361.97 143.62,361.97 144.64,361.97 145.65,361.97 146.67,361.97 147.68,361.97 148.69,361.97 149.71,361.97 150.72,361.97 151.74,361.97 152.75,361.97 153.77,361.97 154.78,361.97 155.80,361.97 156.81,361.97 157.83,361.97 158.84,361.97" fill="none" stroke="#2b4fc0" stroke-width="0.95" stroke-linejoin="round" opacity="1.0"/>
<polyline points="46.40,364.40 46.47,364.40 46.53,364.40 46.60,364.40 46.67,364.40 46.74,364.40 46.80,364.40 46.87,364.40 46.94,364.40 47.01,364.40 47.07,364.40 47.14,364.40 47.21,364.40 47.27,364.40 47.34,364.40 47.41,364.40 47.48,364.40 47.54,364.40 47.61,364.40 47.68,364.40 47.74,364.40 47.81,364.11 47.88,363.83 47.95,363.55 48.01,363.27 48.08,362.99 48.15,362.71 48.22,362.44 48.28,362.17 48.35,361.90 48.42,361.63 48.48,361.37 48.55,361.10 49.09,359.06 49.63,357.14 50.17,355.34 50.70,353.63 51.24,352.03 51.78,350.52 52.32,349.10 52.86,347.76 53.39,346.50 53.93,345.31 54.47,344.19 55.01,343.14 55.55,342.14 56.08,341.21 56.62,340.33 57.16,339.50 57.70,338.72 58.24,337.99 58.77,337.29 59.31,336.64 59.85,336.03 60.39,335.45 60.93,334.90 61.46,334.39 62.00,333.91 62.54,333.45 63.08,333.03 63.62,332.62 64.15,332.24 64.69,331.88 65.23,331.55 65.77,331.23 66.31,330.93 66.84,330.65 67.38,330.38 67.92,330.13 68.46,329.90 69.00,329.68 69.53,329.47 70.07,329.27 70.61,329.09 71.15,328.91 71.69,328.75 72.22,328.60 72.76,328.45 73.30,328.31 73.84,328.18 74.38,328.06 74.91,327.95 75.45,327.84 75.99,327.74 76.53,327.64 77.07,327.55 77.60,327.47 78.14,327.39 78.68,327.31 78.68,358.20 79.69,358.23 80.71,358.29 81.72,358.37 82.74,358.46 83.75,358.57 84.77,358.68 85.78,358.80 86.80,358.92 87.81,359.04 88.83,359.17 89.84,359.29 90.86,359.40 91.87,359.52 92.89,359.62 93.90,359.73 94.92,359.83 95.93,359.92 96.94,360.00 97.96,360.08 98.97,360.15 99.99,360.22 101.00,360.28 102.02,360.34 103.03,360.39 104.05,360.43 105.06,360.47 106.08,360.51 107.09,360.54 108.11,360.57 109.12,360.60 110.14,360.62 111.15,360.64 112.17,360.66 113.18,360.67 114.19,360.68 115.21,360.70 116.22,360.70 117.24,360.71 118.25,360.72 119.27,360.73 120.28,360.73 121.30,360.74 122.31,360.74 123.33,360.74 124.34,360.75 125.36,360.75 126.37,360.75 127.39,360.75 128.40,360.75 129.42,360.75 130.43,360.75 131.44,360.76 132.46,360.76 133.47,360.76 134.49,360.76 135.50,360.76 136.52,360.76 137.53,360.76 138.55,360.76 139.56,360.76 140.58,360.76 141.59,360.76 142.61,360.76 143.62,360.76 144.64,360.76 145.65,360.76 146.67,360.76 147.68,360.76 148.69,360.76 149.71,360.76 150.72,360.76 151.74,360.76 152.75,360.76 153.77,360.76 154.78,360.76 155.80,360.76 156.81,360.76 157.83,360.76 158.84,360.76" fill="none" stroke="#ea6cc0" stroke-width="0.95" stroke-linejoin="round" opacity="1.0"/>
<polyline points="46.40,364.40 46.47,363.52 46.53,362.67 46.60,361.85 46.67,361.05 46.74,360.27 46.80,359.52 46.87,358.79 46.94,358.09 47.01,357.40 47.07,356.74 47.14,356.09 47.21,355.46 47.27,354.85 47.34,354.26 47.41,353.69 47.48,353.13 47.54,352.59 47.61,352.06 47.68,351.55 47.74,351.05 47.81,350.57 47.88,350.10 47.95,349.64 48.01,349.20 48.08,348.76 48.15,348.34 48.22,347.93 48.28,347.53 48.35,347.14 48.42,346.76 48.48,346.39 48.55,346.03 49.09,343.46 49.63,341.33 50.17,339.55 50.70,338.03 51.24,336.72 51.78,335.58 52.32,334.57 52.86,333.67 53.39,332.86 53.93,332.13 54.47,331.45 55.01,330.83 55.55,330.26 56.08,329.73 56.62,329.23 57.16,328.77 57.70,328.34 58.24,327.94 58.77,327.56 59.31,327.21 59.85,326.87 60.39,326.56 60.93,326.27 61.46,325.99 62.00,325.73 62.54,325.48 63.08,325.25 63.62,325.04 64.15,324.83 64.69,324.64 65.23,324.46 65.77,324.29 66.31,324.13 66.84,323.98 67.38,323.84 67.92,323.70 68.46,323.58 69.00,323.46 69.53,323.35 70.07,323.24 70.61,323.14 71.15,323.05 71.69,322.96 72.22,322.88 72.76,322.80 73.30,322.72 73.84,322.66 74.38,322.59 74.91,322.53 75.45,322.47 75.99,322.42 76.53,322.37 77.07,322.32 77.60,322.27 78.14,322.23 78.68,322.19 78.68,357.66 79.69,357.70 80.71,357.80 81.72,357.92 82.74,358.06 83.75,358.23 84.77,358.40 85.78,358.58 86.80,358.76 87.81,358.95 88.83,359.14 89.84,359.32 90.86,359.50 91.87,359.67 92.89,359.84 93.90,359.99 94.92,360.14 95.93,360.28 96.94,360.41 97.96,360.53 98.97,360.64 99.99,360.75 101.00,360.84 102.02,360.92 103.03,361.00 104.05,361.07 105.06,361.13 106.08,361.19 107.09,361.24 108.11,361.28 109.12,361.32 110.14,361.35 111.15,361.38 112.17,361.41 113.18,361.43 114.19,361.45 115.21,361.47 116.22,361.49 117.24,361.50 118.25,361.51 119.27,361.52 120.28,361.53 121.30,361.53 122.31,361.54 123.33,361.54 124.34,361.55 125.36,361.55 126.37,361.55 127.39,361.56 128.40,361.56 129.42,361.56 130.43,361.56 131.44,361.56 132.46,361.56 133.47,361.56 134.49,361.57 135.50,361.57 136.52,361.57 137.53,361.57 138.55,361.57 139.56,361.57 140.58,361.57 141.59,361.57 142.61,361.57 143.62,361.57 144.64,361.57 145.65,361.57 146.67,361.57 147.68,361.57 148.69,361.57 149.71,361.57 150.72,361.57 151.74,361.57 152.75,361.57 153.77,361.57 154.78,361.57 155.80,361.57 156.81,361.57 157.83,361.57 158.84,361.57" fill="none" stroke="#1ecfe0" stroke-width="0.95" stroke-linejoin="round" opacity="1.0"/>
<polyline points="46.40,364.40 46.47,362.99 46.53,361.64 46.60,360.34 46.67,359.11 46.74,357.93 46.80,356.80 46.87,355.72 46.94,354.68 47.01,353.69 47.07,352.74 47.14,351.83 47.21,350.96 47.27,350.13 47.34,349.33 47.41,348.56 47.48,347.83 47.54,347.12 47.61,346.44 47.68,345.79 47.74,345.17 47.81,344.57 47.88,344.00 47.95,343.44 48.01,342.91 48.08,342.40 48.15,341.91 48.22,341.43 48.28,340.98 48.35,340.54 48.42,340.11 48.48,339.70 48.55,339.31 49.09,336.61 49.63,334.54 50.17,332.89 50.70,331.55 51.24,330.43 51.78,329.47 52.32,328.62 52.86,327.87 53.39,327.19 53.93,326.56 54.47,325.99 55.01,325.46 55.55,324.96 56.08,324.50 56.62,324.07 57.16,323.66 57.70,323.28 58.24,322.92 58.77,322.58 59.31,322.27 59.85,321.97 60.39,321.69 60.93,321.42 61.46,321.17 62.00,320.94 62.54,320.72 63.08,320.51 63.62,320.31 64.15,320.13 64.69,319.96 65.23,319.79 65.77,319.64 66.31,319.49 66.84,319.36 67.38,319.23 67.92,319.11 68.46,318.99 69.00,318.89 69.53,318.78 70.07,318.69 70.61,318.60 71.15,318.51 71.69,318.44 72.22,318.36 72.76,318.29 73.30,318.22 73.84,318.16 74.38,318.10 74.91,318.05 75.45,317.99 75.99,317.94 76.53,317.90 77.07,317.85 77.60,317.81 78.14,317.77 78.68,317.74 78.68,356.85 79.69,356.90 80.71,357.00 81.72,357.13 82.74,357.28 83.75,357.46 84.77,357.64 85.78,357.83 86.80,358.03 87.81,358.23 88.83,358.43 89.84,358.63 90.86,358.82 91.87,359.00 92.89,359.18 93.90,359.35 94.92,359.51 95.93,359.65 96.94,359.79 97.96,359.92 98.97,360.04 99.99,360.15 101.00,360.25 102.02,360.34 103.03,360.42 104.05,360.50 105.06,360.56 106.08,360.62 107.09,360.68 108.11,360.72 109.12,360.76 110.14,360.80 111.15,360.83 112.17,360.86 113.18,360.88 114.19,360.91 115.21,360.92 116.22,360.94 117.24,360.95 118.25,360.97 119.27,360.98 120.28,360.98 121.30,360.99 122.31,361.00 123.33,361.00 124.34,361.01 125.36,361.01 126.37,361.01 127.39,361.02 128.40,361.02 129.42,361.02 130.43,361.02 131.44,361.02 132.46,361.02 133.47,361.02 134.49,361.03 135.50,361.03 136.52,361.03 137.53,361.03 138.55,361.03 139.56,361.03 140.58,361.03 141.59,361.03 142.61,361.03 143.62,361.03 144.64,361.03 145.65,361.03 146.67,361.03 147.68,361.03 148.69,361.03 149.71,361.03 150.72,361.03 151.74,361.03 152.75,361.03 153.77,361.03 154.78,361.03 155.80,361.03 156.81,361.03 157.83,361.03 158.84,361.03" fill="none" stroke="#f2a81d" stroke-width="0.95" stroke-linejoin="round" opacity="1.0"/>
<polyline points="46.40,364.40 46.47,362.76 46.53,361.22 46.60,359.75 46.67,358.37 46.74,357.06 46.80,355.82 46.87,354.65 46.94,353.54 47.01,352.49 47.07,351.50 47.14,350.55 47.21,349.65 47.27,348.80 47.34,348.00 47.41,347.23 47.48,346.50 47.54,345.81 47.61,345.15 47.68,344.52 47.74,343.92 47.81,343.35 47.88,342.81 47.95,342.29 48.01,341.80 48.08,341.32 48.15,340.87 48.22,340.44 48.28,340.02 48.35,339.62 48.42,339.24 48.48,338.87 48.55,338.52 49.09,336.13 49.63,334.30 50.17,332.81 50.70,331.55 51.24,330.45 51.78,329.44 52.32,328.52 52.86,327.65 53.39,326.84 53.93,326.06 54.47,325.32 55.01,324.61 55.55,323.93 56.08,323.28 56.62,322.65 57.16,322.05 57.70,321.48 58.24,320.92 58.77,320.39 59.31,319.88 59.85,319.39 60.39,318.92 60.93,318.46 61.46,318.03 62.00,317.61 62.54,317.21 63.08,316.82 63.62,316.45 64.15,316.09 64.69,315.75 65.23,315.42 65.77,315.10 66.31,314.80 66.84,314.51 67.38,314.23 67.92,313.96 68.46,313.70 69.00,313.45 69.53,313.21 70.07,312.98 70.61,312.76 71.15,312.55 71.69,312.35 72.22,312.15 72.76,311.96 73.30,311.78 73.84,311.61 74.38,311.44 74.91,311.28 75.45,311.13 75.99,310.98 76.53,310.84 77.07,310.70 77.60,310.57 78.14,310.44 78.68,310.32 78.68,362.78 79.69,362.75 80.71,362.70 81.72,362.62 82.74,362.53 83.75,362.43 84.77,362.32 85.78,362.21 86.80,362.09 87.81,361.98 88.83,361.86 89.84,361.75 90.86,361.64 91.87,361.53 92.89,361.43 93.90,361.33 94.92,361.24 95.93,361.15 96.94,361.07 97.96,361.00 98.97,360.93 99.99,360.86 101.00,360.81 102.02,360.75 103.03,360.71 104.05,360.66 105.06,360.62 106.08,360.59 107.09,360.56 108.11,360.53 109.12,360.51 110.14,360.49 111.15,360.47 112.17,360.45 113.18,360.44 114.19,360.43 115.21,360.41 116.22,360.41 117.24,360.40 118.25,360.39 119.27,360.38 120.28,360.38 121.30,360.38 122.31,360.37 123.33,360.37 124.34,360.37 125.36,360.36 126.37,360.36 127.39,360.36 128.40,360.36 129.42,360.36 130.43,360.36 131.44,360.36 132.46,360.36 133.47,360.36 134.49,360.36 135.50,360.36 136.52,360.36 137.53,360.36 138.55,360.35 139.56,360.35 140.58,360.35 141.59,360.35 142.61,360.35 143.62,360.35 144.64,360.35 145.65,360.35 146.67,360.35 147.68,360.35 148.69,360.35 149.71,360.35 150.72,360.35 151.74,360.35 152.75,360.35 153.77,360.35 154.78,360.35 155.80,360.35 156.81,360.35 157.83,360.35 158.84,360.35" fill="none" stroke="#d64aae" stroke-width="0.95" stroke-linejoin="round" opacity="1.0"/>
<line x1="195.50" y1="299.42" x2="195.50" y2="391.70" stroke="#2b2b2b" stroke-width="0.9"/>
<line x1="193.90" y1="391.82" x2="197.10" y2="391.82" stroke="#2b2b2b" stroke-width="0.9"/>
<text transform="translate(191.30 394.42) scale(0.8 1)" x="0" y="0" font-family="'Liberation Sans', Arial, sans-serif" font-size="7.6" fill="#3c3734" text-anchor="end">-15</text>
<line x1="193.90" y1="382.58" x2="197.10" y2="382.58" stroke="#2b2b2b" stroke-width="0.9"/>
<text transform="translate(191.30 385.18) scale(0.8 1)" x="0" y="0" font-family="'Liberation Sans', Arial, sans-serif" font-size="7.6" fill="#3c3734" text-anchor="end">-10</text>
<line x1="193.90" y1="373.34" x2="197.10" y2="373.34" stroke="#2b2b2b" stroke-width="0.9"/>
<text transform="translate(191.30 375.94) scale(0.8 1)" x="0" y="0" font-family="'Liberation Sans', Arial, sans-serif" font-size="7.6" fill="#3c3734" text-anchor="end">-5</text>
<line x1="193.90" y1="364.10" x2="197.10" y2="364.10" stroke="#2b2b2b" stroke-width="0.9"/>
<text transform="translate(191.30 366.70) scale(0.8 1)" x="0" y="0" font-family="'Liberation Sans', Arial, sans-serif" font-size="7.6" fill="#3c3734" text-anchor="end">0</text>
<line x1="193.90" y1="354.86" x2="197.10" y2="354.86" stroke="#2b2b2b" stroke-width="0.9"/>
<text transform="translate(191.30 357.46) scale(0.8 1)" x="0" y="0" font-family="'Liberation Sans', Arial, sans-serif" font-size="7.6" fill="#3c3734" text-anchor="end">5</text>
<line x1="193.90" y1="345.62" x2="197.10" y2="345.62" stroke="#2b2b2b" stroke-width="0.9"/>
<text transform="translate(191.30 348.22) scale(0.8 1)" x="0" y="0" font-family="'Liberation Sans', Arial, sans-serif" font-size="7.6" fill="#3c3734" text-anchor="end">10</text>
<line x1="193.90" y1="336.38" x2="197.10" y2="336.38" stroke="#2b2b2b" stroke-width="0.9"/>
<text transform="translate(191.30 338.98) scale(0.8 1)" x="0" y="0" font-family="'Liberation Sans', Arial, sans-serif" font-size="7.6" fill="#3c3734" text-anchor="end">15</text>
<line x1="193.90" y1="327.14" x2="197.10" y2="327.14" stroke="#2b2b2b" stroke-width="0.9"/>
<text transform="translate(191.30 329.74) scale(0.8 1)" x="0" y="0" font-family="'Liberation Sans', Arial, sans-serif" font-size="7.6" fill="#3c3734" text-anchor="end">20</text>
<line x1="193.90" y1="317.90" x2="197.10" y2="317.90" stroke="#2b2b2b" stroke-width="0.9"/>
<text transform="translate(191.30 320.50) scale(0.8 1)" x="0" y="0" font-family="'Liberation Sans', Arial, sans-serif" font-size="7.6" fill="#3c3734" text-anchor="end">25</text>
<line x1="193.90" y1="308.66" x2="197.10" y2="308.66" stroke="#2b2b2b" stroke-width="0.9"/>
<text transform="translate(191.30 311.26) scale(0.8 1)" x="0" y="0" font-family="'Liberation Sans', Arial, sans-serif" font-size="7.6" fill="#3c3734" text-anchor="end">30</text>
<line x1="193.90" y1="299.42" x2="197.10" y2="299.42" stroke="#2b2b2b" stroke-width="0.9"/>
<text transform="translate(191.30 302.02) scale(0.8 1)" x="0" y="0" font-family="'Liberation Sans', Arial, sans-serif" font-size="7.6" fill="#3c3734" text-anchor="end">35</text>
<line x1="195.50" y1="387.20" x2="196.90" y2="387.20" stroke="#2b2b2b" stroke-width="0.7"/>
<line x1="195.50" y1="377.96" x2="196.90" y2="377.96" stroke="#2b2b2b" stroke-width="0.7"/>
<line x1="195.50" y1="368.72" x2="196.90" y2="368.72" stroke="#2b2b2b" stroke-width="0.7"/>
<line x1="195.50" y1="359.48" x2="196.90" y2="359.48" stroke="#2b2b2b" stroke-width="0.7"/>
<line x1="195.50" y1="350.24" x2="196.90" y2="350.24" stroke="#2b2b2b" stroke-width="0.7"/>
<line x1="195.50" y1="341.00" x2="196.90" y2="341.00" stroke="#2b2b2b" stroke-width="0.7"/>
<line x1="195.50" y1="331.76" x2="196.90" y2="331.76" stroke="#2b2b2b" stroke-width="0.7"/>
<line x1="195.50" y1="322.52" x2="196.90" y2="322.52" stroke="#2b2b2b" stroke-width="0.7"/>
<line x1="195.50" y1="313.28" x2="196.90" y2="313.28" stroke="#2b2b2b" stroke-width="0.7"/>
<line x1="195.50" y1="304.04" x2="196.90" y2="304.04" stroke="#2b2b2b" stroke-width="0.7"/>
<line x1="195.50" y1="391.70" x2="341.40" y2="391.70" stroke="#2b2b2b" stroke-width="0.9"/>
<line x1="195.60" y1="391.20" x2="195.60" y2="393.50" stroke="#2b2b2b" stroke-width="0.9"/>
<line x1="222.00" y1="391.20" x2="222.00" y2="393.50" stroke="#2b2b2b" stroke-width="0.9"/>
<line x1="248.40" y1="391.20" x2="248.40" y2="393.50" stroke="#2b2b2b" stroke-width="0.9"/>
<line x1="274.80" y1="391.20" x2="274.80" y2="393.50" stroke="#2b2b2b" stroke-width="0.9"/>
<line x1="301.20" y1="391.20" x2="301.20" y2="393.50" stroke="#2b2b2b" stroke-width="0.9"/>
<line x1="327.60" y1="391.20" x2="327.60" y2="393.50" stroke="#2b2b2b" stroke-width="0.9"/>
<text transform="translate(195.60 402.20) scale(0.8 1)" x="0" y="0" font-family="'Liberation Sans', Arial, sans-serif" font-size="7.6" fill="#3c3734" text-anchor="middle">100</text>
<text transform="translate(222.00 402.20) scale(0.8 1)" x="0" y="0" font-family="'Liberation Sans', Arial, sans-serif" font-size="7.6" fill="#3c3734" text-anchor="middle">0</text>
<text transform="translate(248.40 402.20) scale(0.8 1)" x="0" y="0" font-family="'Liberation Sans', Arial, sans-serif" font-size="7.6" fill="#3c3734" text-anchor="middle">100</text>
<text transform="translate(274.80 402.20) scale(0.8 1)" x="0" y="0" font-family="'Liberation Sans', Arial, sans-serif" font-size="7.6" fill="#3c3734" text-anchor="middle">200</text>
<text transform="translate(301.20 402.20) scale(0.8 1)" x="0" y="0" font-family="'Liberation Sans', Arial, sans-serif" font-size="7.6" fill="#3c3734" text-anchor="middle">300</text>
<text transform="translate(327.60 402.20) scale(0.8 1)" x="0" y="0" font-family="'Liberation Sans', Arial, sans-serif" font-size="7.6" fill="#3c3734" text-anchor="middle">400</text>
<text x="190.00" y="295.30" font-family="'Liberation Serif', 'Times New Roman', serif" font-size="7.6" fill="#1e1e1e" text-anchor="start" font-weight="bold" stroke="#1e1e1e" stroke-width="0.15">RU</text>
<text x="206.40" y="302.30" font-family="'Liberation Serif', 'Times New Roman', serif" font-size="8.4" fill="#1a1a1a" text-anchor="start" font-style="italic" stroke="#1a1a1a" stroke-width="0.18">pM</text>
<text x="341.00" y="400.40" font-family="'Liberation Serif', 'Times New Roman', serif" font-size="7.3" fill="#1e1e1e" text-anchor="start" font-weight="bold">T(s)</text>
<line x1="222.00" y1="364.10" x2="222.00" y2="378.88" stroke="#ee1c24" stroke-width="0.8"/>
<line x1="206.16" y1="364.10" x2="222.00" y2="364.10" stroke="#222" stroke-width="1.2"/>
<polyline points="222.00,349.46 222.07,347.86 222.13,346.35 222.20,344.92 222.26,343.58 222.33,342.32 222.40,341.12 222.46,339.99 222.53,338.92 222.59,337.92 222.66,336.97 222.73,336.07 222.79,335.22 222.86,334.42 222.92,333.66 222.99,332.94 223.06,332.26 223.12,331.62 223.19,331.01 223.25,330.43 223.32,329.88 223.39,329.37 223.45,328.87 223.52,328.41 223.58,327.97 223.65,327.55 223.72,327.15 223.78,326.77 223.85,326.41 223.91,326.07 223.98,325.74 224.05,325.43 224.11,325.14 224.64,323.21 225.17,321.86 225.70,320.87 226.22,320.12 226.75,319.53 227.28,319.04 227.81,318.64 228.34,318.29 228.86,317.99 229.39,317.72 229.92,317.48 230.45,317.27 230.98,317.08 231.50,316.91 232.03,316.75 232.56,316.61 233.09,316.48 233.62,316.37 234.14,316.27 234.67,316.17 235.20,316.09 235.73,316.01 236.26,315.94 236.78,315.88 237.31,315.83 237.84,315.77 238.37,315.73 238.90,315.69 239.42,315.65 239.95,315.61 240.48,315.58 241.01,315.56 241.54,315.53 242.06,315.51 242.59,315.49 243.12,315.47 243.65,315.45 244.18,315.43 244.70,315.42 245.23,315.41 245.76,315.40 246.29,315.39 246.82,315.38 247.34,315.37 247.87,315.36 248.40,315.35 248.93,315.35 249.46,315.34 249.98,315.34 250.51,315.33 251.04,315.33 251.57,315.32 252.10,315.32 252.62,315.32 253.15,315.32 253.68,315.31 253.68,343.77" fill="none" stroke="#141414" stroke-width="1.0" stroke-linejoin="round" opacity="1.0"/>
<polyline points="253.68,343.77 254.68,344.03 255.67,344.48 256.67,345.06 257.66,345.71 258.66,346.42 259.66,347.17 260.65,347.94 261.65,348.73 262.64,349.51 263.64,350.28 264.63,351.04 265.63,351.78 266.63,352.49 267.62,353.18 268.62,353.83 269.61,354.45 270.61,355.04 271.61,355.59 272.60,356.11 273.60,356.59 274.59,357.04 275.59,357.46 276.58,357.84 277.58,358.19 278.58,358.52 279.57,358.81 280.57,359.08 281.56,359.33 282.56,359.55 283.56,359.75 284.55,359.93 285.55,360.09 286.54,360.24 287.54,360.37 288.53,360.48 289.53,360.59 290.53,360.68 291.52,360.76 292.52,360.83 293.51,360.90 294.51,360.95 295.51,361.00 296.50,361.05 297.50,361.08 298.49,361.12 299.49,361.15 300.48,361.17 301.48,361.19 302.48,361.21 303.47,361.23 304.47,361.24 305.46,361.26 306.46,361.27 307.46,361.28 308.45,361.28 309.45,361.29 310.44,361.30 311.44,361.30 312.44,361.31 313.43,361.31 314.43,361.31 315.42,361.31 316.42,361.32 317.41,361.32 318.41,361.32 319.41,361.32 320.40,361.32 321.40,361.32 322.39,361.32 323.39,361.32 324.39,361.33 325.38,361.33 326.38,361.33 327.37,361.33 328.37,361.33 329.36,361.33 330.36,361.33 331.36,361.33 332.35,361.33" fill="none" stroke="#1c1c1c" stroke-width="1.0" stroke-linejoin="round" opacity="1.0"/>
<polyline points="222.00,351.18 222.07,349.76 222.13,348.43 222.20,347.18 222.26,345.99 222.33,344.87 222.40,343.82 222.46,342.82 222.53,341.88 222.59,340.99 222.66,340.15 222.73,339.36 222.79,338.61 222.86,337.90 222.92,337.23 222.99,336.60 223.06,336.00 223.12,335.43 223.19,334.89 223.25,334.38 223.32,333.90 223.39,333.44 223.45,333.01 223.52,332.60 223.58,332.21 223.65,331.84 223.72,331.49 223.78,331.15 223.85,330.83 223.91,330.53 223.98,330.25 224.05,329.97 224.11,329.71 224.64,328.01 225.17,326.82 225.70,325.95 226.22,325.29 226.75,324.76 227.28,324.34 227.81,323.98 228.34,323.67 228.86,323.40 229.39,323.16 229.92,322.95 230.45,322.77 230.98,322.60 231.50,322.45 232.03,322.31 232.56,322.19 233.09,322.08 233.62,321.98 234.14,321.88 234.67,321.80 235.20,321.73 235.73,321.66 236.26,321.60 236.78,321.54 237.31,321.49 237.84,321.45 238.37,321.41 238.90,321.37 239.42,321.34 239.95,321.31 240.48,321.28 241.01,321.26 241.54,321.23 242.06,321.21 242.59,321.19 243.12,321.18 243.65,321.16 244.18,321.15 244.70,321.14 245.23,321.13 245.76,321.12 246.29,321.11 246.82,321.10 247.34,321.09 247.87,321.08 248.40,321.08 248.93,321.07 249.46,321.07 249.98,321.06 250.51,321.06 251.04,321.06 251.57,321.05 252.10,321.05 252.62,321.05 253.15,321.04 253.68,321.04 253.68,346.36" fill="none" stroke="#141414" stroke-width="1.0" stroke-linejoin="round" opacity="1.0"/>
<polyline points="253.68,346.36 254.68,346.58 255.67,346.97 256.67,347.47 257.66,348.04 258.66,348.65 259.66,349.29 260.65,349.96 261.65,350.64 262.64,351.31 263.64,351.98 264.63,352.63 265.63,353.27 266.63,353.89 267.62,354.48 268.62,355.04 269.61,355.58 270.61,356.09 271.61,356.56 272.60,357.01 273.60,357.43 274.59,357.81 275.59,358.17 276.58,358.50 277.58,358.81 278.58,359.09 279.57,359.34 280.57,359.57 281.56,359.78 282.56,359.98 283.56,360.15 284.55,360.30 285.55,360.44 286.54,360.57 287.54,360.68 288.53,360.78 289.53,360.87 290.53,360.95 291.52,361.02 292.52,361.09 293.51,361.14 294.51,361.19 295.51,361.23 296.50,361.27 297.50,361.30 298.49,361.33 299.49,361.36 300.48,361.38 301.48,361.40 302.48,361.41 303.47,361.43 304.47,361.44 305.46,361.45 306.46,361.46 307.46,361.47 308.45,361.47 309.45,361.48 310.44,361.49 311.44,361.49 312.44,361.49 313.43,361.50 314.43,361.50 315.42,361.50 316.42,361.50 317.41,361.50 318.41,361.51 319.41,361.51 320.40,361.51 321.40,361.51 322.39,361.51 323.39,361.51 324.39,361.51 325.38,361.51 326.38,361.51 327.37,361.51 328.37,361.51 329.36,361.51 330.36,361.51 331.36,361.51 332.35,361.51" fill="none" stroke="#1c1c1c" stroke-width="1.0" stroke-linejoin="round" opacity="1.0"/>
<polyline points="222.00,352.51 222.07,351.24 222.13,350.05 222.20,348.92 222.26,347.86 222.33,346.85 222.40,345.91 222.46,345.01 222.53,344.17 222.59,343.37 222.66,342.62 222.73,341.91 222.79,341.24 222.86,340.60 222.92,340.00 222.99,339.43 223.06,338.89 223.12,338.38 223.19,337.90 223.25,337.44 223.32,337.01 223.39,336.60 223.45,336.21 223.52,335.84 223.58,335.49 223.65,335.16 223.72,334.85 223.78,334.55 223.85,334.26 223.91,333.99 223.98,333.73 224.05,333.49 224.11,333.25 224.64,331.73 225.17,330.66 225.70,329.88 226.22,329.28 226.75,328.81 227.28,328.43 227.81,328.11 228.34,327.83 228.86,327.59 229.39,327.38 229.92,327.19 230.45,327.02 230.98,326.87 231.50,326.74 232.03,326.62 232.56,326.50 233.09,326.40 233.62,326.31 234.14,326.23 234.67,326.16 235.20,326.09 235.73,326.03 236.26,325.98 236.78,325.93 237.31,325.88 237.84,325.84 238.37,325.81 238.90,325.77 239.42,325.74 239.95,325.72 240.48,325.69 241.01,325.67 241.54,325.65 242.06,325.63 242.59,325.61 243.12,325.60 243.65,325.59 244.18,325.57 244.70,325.56 245.23,325.55 245.76,325.54 246.29,325.54 246.82,325.53 247.34,325.52 247.87,325.52 248.40,325.51 248.93,325.50 249.46,325.50 249.98,325.50 250.51,325.49 251.04,325.49 251.57,325.49 252.10,325.48 252.62,325.48 253.15,325.48 253.68,325.48 253.68,348.95" fill="none" stroke="#141414" stroke-width="1.0" stroke-linejoin="round" opacity="1.0"/>
<polyline points="253.68,348.95 254.68,349.13 255.67,349.46 256.67,349.88 257.66,350.36 258.66,350.87 259.66,351.42 260.65,351.98 261.65,352.54 262.64,353.11 263.64,353.67 264.63,354.23 265.63,354.76 266.63,355.28 267.62,355.78 268.62,356.25 269.61,356.71 270.61,357.13 271.61,357.53 272.60,357.91 273.60,358.26 274.59,358.58 275.59,358.89 276.58,359.16 277.58,359.42 278.58,359.65 279.57,359.87 280.57,360.07 281.56,360.24 282.56,360.40 283.56,360.55 284.55,360.68 285.55,360.80 286.54,360.90 287.54,361.00 288.53,361.08 289.53,361.16 290.53,361.23 291.52,361.29 292.52,361.34 293.51,361.38 294.51,361.43 295.51,361.46 296.50,361.49 297.50,361.52 298.49,361.54 299.49,361.57 300.48,361.58 301.48,361.60 302.48,361.61 303.47,361.63 304.47,361.64 305.46,361.65 306.46,361.65 307.46,361.66 308.45,361.67 309.45,361.67 310.44,361.67 311.44,361.68 312.44,361.68 313.43,361.68 314.43,361.69 315.42,361.69 316.42,361.69 317.41,361.69 318.41,361.69 319.41,361.69 320.40,361.69 321.40,361.69 322.39,361.69 323.39,361.70 324.39,361.70 325.38,361.70 326.38,361.70 327.37,361.70 328.37,361.70 329.36,361.70 330.36,361.70 331.36,361.70 332.35,361.70" fill="none" stroke="#1c1c1c" stroke-width="1.0" stroke-linejoin="round" opacity="1.0"/>
<polyline points="222.00,354.89 222.07,353.89 222.13,352.94 222.20,352.04 222.26,351.20 222.33,350.40 222.40,349.65 222.46,348.94 222.53,348.27 222.59,347.64 222.66,347.04 222.73,346.47 222.79,345.94 222.86,345.44 222.92,344.96 222.99,344.51 223.06,344.08 223.12,343.67 223.19,343.29 223.25,342.93 223.32,342.59 223.39,342.26 223.45,341.95 223.52,341.66 223.58,341.38 223.65,341.12 223.72,340.86 223.78,340.63 223.85,340.40 223.91,340.19 223.98,339.98 224.05,339.79 224.11,339.60 224.64,338.39 225.17,337.54 225.70,336.92 226.22,336.45 226.75,336.07 227.28,335.77 227.81,335.51 228.34,335.29 228.86,335.10 229.39,334.94 229.92,334.79 230.45,334.65 230.98,334.53 231.50,334.42 232.03,334.33 232.56,334.24 233.09,334.16 233.62,334.09 234.14,334.02 234.67,333.96 235.20,333.91 235.73,333.86 236.26,333.82 236.78,333.78 237.31,333.75 237.84,333.71 238.37,333.68 238.90,333.66 239.42,333.63 239.95,333.61 240.48,333.59 241.01,333.58 241.54,333.56 242.06,333.55 242.59,333.53 243.12,333.52 243.65,333.51 244.18,333.50 244.70,333.49 245.23,333.48 245.76,333.48 246.29,333.47 246.82,333.46 247.34,333.46 247.87,333.45 248.40,333.45 248.93,333.45 249.46,333.44 249.98,333.44 250.51,333.44 251.04,333.43 251.57,333.43 252.10,333.43 252.62,333.43 253.15,333.42 253.68,333.42 253.68,351.53" fill="none" stroke="#141414" stroke-width="1.0" stroke-linejoin="round" opacity="1.0"/>
<polyline points="253.68,351.53 254.68,351.68 255.67,351.95 256.67,352.29 257.66,352.68 258.66,353.10 259.66,353.54 260.65,353.99 261.65,354.45 262.64,354.91 263.64,355.37 264.63,355.82 265.63,356.25 266.63,356.67 267.62,357.08 268.62,357.46 269.61,357.83 270.61,358.18 271.61,358.50 272.60,358.81 273.60,359.09 274.59,359.36 275.59,359.60 276.58,359.83 277.58,360.03 278.58,360.22 279.57,360.40 280.57,360.56 281.56,360.70 282.56,360.83 283.56,360.95 284.55,361.06 285.55,361.15 286.54,361.24 287.54,361.32 288.53,361.38 289.53,361.45 290.53,361.50 291.52,361.55 292.52,361.59 293.51,361.63 294.51,361.66 295.51,361.69 296.50,361.72 297.50,361.74 298.49,361.76 299.49,361.78 300.48,361.79 301.48,361.80 302.48,361.81 303.47,361.82 304.47,361.83 305.46,361.84 306.46,361.85 307.46,361.85 308.45,361.86 309.45,361.86 310.44,361.86 311.44,361.87 312.44,361.87 313.43,361.87 314.43,361.87 315.42,361.87 316.42,361.88 317.41,361.88 318.41,361.88 319.41,361.88 320.40,361.88 321.40,361.88 322.39,361.88 323.39,361.88 324.39,361.88 325.38,361.88 326.38,361.88 327.37,361.88 328.37,361.88 329.36,361.88 330.36,361.88 331.36,361.88 332.35,361.88" fill="none" stroke="#1c1c1c" stroke-width="1.0" stroke-linejoin="round" opacity="1.0"/>
<polyline points="222.00,358.83 222.07,358.25 222.13,357.71 222.20,357.20 222.26,356.72 222.33,356.26 222.40,355.83 222.46,355.42 222.53,355.04 222.59,354.68 222.66,354.34 222.73,354.01 222.79,353.71 222.86,353.42 222.92,353.15 222.99,352.89 223.06,352.64 223.12,352.41 223.19,352.19 223.25,351.98 223.32,351.79 223.39,351.60 223.45,351.42 223.52,351.26 223.58,351.10 223.65,350.95 223.72,350.80 223.78,350.67 223.85,350.54 223.91,350.41 223.98,350.30 224.05,350.18 224.11,350.08 224.64,349.39 225.17,348.90 225.70,348.54 226.22,348.27 226.75,348.06 227.28,347.89 227.81,347.74 228.34,347.62 228.86,347.51 229.39,347.41 229.92,347.32 230.45,347.25 230.98,347.18 231.50,347.12 232.03,347.06 232.56,347.01 233.09,346.97 233.62,346.92 234.14,346.89 234.67,346.85 235.20,346.82 235.73,346.80 236.26,346.77 236.78,346.75 237.31,346.73 237.84,346.71 238.37,346.69 238.90,346.68 239.42,346.66 239.95,346.65 240.48,346.64 241.01,346.63 241.54,346.62 242.06,346.61 242.59,346.61 243.12,346.60 243.65,346.59 244.18,346.59 244.70,346.58 245.23,346.58 245.76,346.57 246.29,346.57 246.82,346.57 247.34,346.56 247.87,346.56 248.40,346.56 248.93,346.56 249.46,346.55 249.98,346.55 250.51,346.55 251.04,346.55 251.57,346.55 252.10,346.55 252.62,346.55 253.15,346.54 253.68,346.54 253.68,354.12" fill="none" stroke="#141414" stroke-width="1.0" stroke-linejoin="round" opacity="1.0"/>
<polyline points="253.68,354.12 254.68,354.24 255.67,354.45 256.67,354.72 257.66,355.02 258.66,355.35 259.66,355.70 260.65,356.05 261.65,356.42 262.64,356.78 263.64,357.14 264.63,357.49 265.63,357.83 266.63,358.16 267.62,358.48 268.62,358.78 269.61,359.07 270.61,359.34 271.61,359.60 272.60,359.84 273.60,360.06 274.59,360.27 275.59,360.46 276.58,360.64 277.58,360.80 278.58,360.95 279.57,361.09 280.57,361.21 281.56,361.32 282.56,361.43 283.56,361.52 284.55,361.60 285.55,361.68 286.54,361.75 287.54,361.81 288.53,361.86 289.53,361.91 290.53,361.95 291.52,361.99 292.52,362.02 293.51,362.05 294.51,362.08 295.51,362.10 296.50,362.12 297.50,362.14 298.49,362.15 299.49,362.17 300.48,362.18 301.48,362.19 302.48,362.20 303.47,362.21 304.47,362.21 305.46,362.22 306.46,362.22 307.46,362.23 308.45,362.23 309.45,362.23 310.44,362.24 311.44,362.24 312.44,362.24 313.43,362.24 314.43,362.24 315.42,362.25 316.42,362.25 317.41,362.25 318.41,362.25 319.41,362.25 320.40,362.25 321.40,362.25 322.39,362.25 323.39,362.25 324.39,362.25 325.38,362.25 326.38,362.25 327.37,362.25 328.37,362.25 329.36,362.25 330.36,362.25 331.36,362.25 332.35,362.25" fill="none" stroke="#1c1c1c" stroke-width="1.0" stroke-linejoin="round" opacity="1.0"/>
<polyline points="222.00,360.55 222.07,360.16 222.13,359.80 222.20,359.45 222.26,359.13 222.33,358.82 222.40,358.53 222.46,358.26 222.53,358.00 222.59,357.75 222.66,357.52 222.73,357.30 222.79,357.10 222.86,356.90 222.92,356.72 222.99,356.55 223.06,356.38 223.12,356.23 223.19,356.08 223.25,355.94 223.32,355.81 223.39,355.68 223.45,355.56 223.52,355.45 223.58,355.34 223.65,355.24 223.72,355.14 223.78,355.05 223.85,354.96 223.91,354.88 223.98,354.80 224.05,354.73 224.11,354.65 224.64,354.19 225.17,353.86 225.70,353.62 226.22,353.44 226.75,353.29 227.28,353.18 227.81,353.08 228.34,352.99 228.86,352.92 229.39,352.86 229.92,352.80 230.45,352.75 230.98,352.70 231.50,352.66 232.03,352.62 232.56,352.59 233.09,352.56 233.62,352.53 234.14,352.50 234.67,352.48 235.20,352.46 235.73,352.44 236.26,352.43 236.78,352.41 237.31,352.40 237.84,352.38 238.37,352.37 238.90,352.36 239.42,352.35 239.95,352.35 240.48,352.34 241.01,352.33 241.54,352.33 242.06,352.32 242.59,352.31 243.12,352.31 243.65,352.31 244.18,352.30 244.70,352.30 245.23,352.30 245.76,352.29 246.29,352.29 246.82,352.29 247.34,352.29 247.87,352.28 248.40,352.28 248.93,352.28 249.46,352.28 249.98,352.28 250.51,352.28 251.04,352.28 251.57,352.28 252.10,352.27 252.62,352.27 253.15,352.27 253.68,352.27 253.68,356.34" fill="none" stroke="#141414" stroke-width="1.0" stroke-linejoin="round" opacity="1.0"/>
<polyline points="253.68,356.34 254.68,356.43 255.67,356.59 256.67,356.79 257.66,357.01 258.66,357.26 259.66,357.52 260.65,357.79 261.65,358.06 262.64,358.33 263.64,358.60 264.63,358.86 265.63,359.12 266.63,359.37 267.62,359.61 268.62,359.83 269.61,360.05 270.61,360.25 271.61,360.44 272.60,360.62 273.60,360.79 274.59,360.95 275.59,361.09 276.58,361.23 277.58,361.35 278.58,361.46 279.57,361.56 280.57,361.66 281.56,361.74 282.56,361.82 283.56,361.89 284.55,361.95 285.55,362.01 286.54,362.06 287.54,362.10 288.53,362.14 289.53,362.18 290.53,362.21 291.52,362.24 292.52,362.26 293.51,362.29 294.51,362.31 295.51,362.32 296.50,362.34 297.50,362.35 298.49,362.36 299.49,362.37 300.48,362.38 301.48,362.39 302.48,362.40 303.47,362.40 304.47,362.41 305.46,362.41 306.46,362.42 307.46,362.42 308.45,362.42 309.45,362.42 310.44,362.43 311.44,362.43 312.44,362.43 313.43,362.43 314.43,362.43 315.42,362.43 316.42,362.43 317.41,362.43 318.41,362.43 319.41,362.43 320.40,362.43 321.40,362.44 322.39,362.44 323.39,362.44 324.39,362.44 325.38,362.44 326.38,362.44 327.37,362.44 328.37,362.44 329.36,362.44 330.36,362.44 331.36,362.44 332.35,362.44" fill="none" stroke="#1c1c1c" stroke-width="1.0" stroke-linejoin="round" opacity="1.0"/>
<polyline points="222.00,361.33 222.07,361.02 222.13,360.74 222.20,360.47 222.26,360.21 222.33,359.97 222.40,359.75 222.46,359.53 222.53,359.33 222.59,359.14 222.66,358.96 222.73,358.79 222.79,358.63 222.86,358.48 222.92,358.33 222.99,358.20 223.06,358.07 223.12,357.95 223.19,357.83 223.25,357.72 223.32,357.62 223.39,357.52 223.45,357.43 223.52,357.34 223.58,357.26 223.65,357.18 223.72,357.10 223.78,357.03 223.85,356.96 223.91,356.90 223.98,356.84 224.05,356.78 224.11,356.72 224.64,356.36 225.17,356.10 225.70,355.91 226.22,355.77 226.75,355.66 227.28,355.57 227.81,355.49 228.34,355.42 228.86,355.37 229.39,355.32 229.92,355.27 230.45,355.23 230.98,355.19 231.50,355.16 232.03,355.13 232.56,355.11 233.09,355.08 233.62,355.06 234.14,355.04 234.67,355.02 235.20,355.01 235.73,354.99 236.26,354.98 236.78,354.97 237.31,354.96 237.84,354.95 238.37,354.94 238.90,354.93 239.42,354.92 239.95,354.92 240.48,354.91 241.01,354.91 241.54,354.90 242.06,354.90 242.59,354.89 243.12,354.89 243.65,354.89 244.18,354.88 244.70,354.88 245.23,354.88 245.76,354.88 246.29,354.87 246.82,354.87 247.34,354.87 247.87,354.87 248.40,354.87 248.93,354.87 249.46,354.87 249.98,354.86 250.51,354.86 251.04,354.86 251.57,354.86 252.10,354.86 252.62,354.86 253.15,354.86 253.68,354.86 253.68,358.19" fill="none" stroke="#141414" stroke-width="1.0" stroke-linejoin="round" opacity="1.0"/>
<polyline points="253.68,358.19 254.68,358.25 255.67,358.37 256.67,358.51 257.66,358.68 258.66,358.86 259.66,359.05 260.65,359.24 261.65,359.44 262.64,359.64 263.64,359.83 264.63,360.02 265.63,360.21 266.63,360.39 267.62,360.56 268.62,360.73 269.61,360.89 270.61,361.03 271.61,361.17 272.60,361.30 273.60,361.43 274.59,361.54 275.59,361.64 276.58,361.74 277.58,361.83 278.58,361.91 279.57,361.99 280.57,362.05 281.56,362.12 282.56,362.17 283.56,362.22 284.55,362.27 285.55,362.31 286.54,362.35 287.54,362.38 288.53,362.41 289.53,362.43 290.53,362.46 291.52,362.48 292.52,362.50 293.51,362.51 294.51,362.53 295.51,362.54 296.50,362.55 297.50,362.56 298.49,362.57 299.49,362.58 300.48,362.58 301.48,362.59 302.48,362.59 303.47,362.60 304.47,362.60 305.46,362.60 306.46,362.61 307.46,362.61 308.45,362.61 309.45,362.61 310.44,362.61 311.44,362.61 312.44,362.62 313.43,362.62 314.43,362.62 315.42,362.62 316.42,362.62 317.41,362.62 318.41,362.62 319.41,362.62 320.40,362.62 321.40,362.62 322.39,362.62 323.39,362.62 324.39,362.62 325.38,362.62 326.38,362.62 327.37,362.62 328.37,362.62 329.36,362.62 330.36,362.62 331.36,362.62 332.35,362.62" fill="none" stroke="#1c1c1c" stroke-width="1.0" stroke-linejoin="round" opacity="1.0"/>
<polyline points="222.00,361.88 222.07,361.64 222.13,361.41 222.20,361.19 222.26,360.99 222.33,360.80 222.40,360.62 222.46,360.45 222.53,360.29 222.59,360.13 222.66,359.99 222.73,359.85 222.79,359.72 222.86,359.60 222.92,359.49 222.99,359.38 223.06,359.28 223.12,359.18 223.19,359.09 223.25,359.00 223.32,358.92 223.39,358.84 223.45,358.76 223.52,358.69 223.58,358.63 223.65,358.56 223.72,358.50 223.78,358.44 223.85,358.39 223.91,358.34 223.98,358.29 224.05,358.24 224.11,358.20 224.64,357.91 225.17,357.70 225.70,357.55 226.22,357.44 226.75,357.35 227.28,357.27 227.81,357.21 228.34,357.16 228.86,357.11 229.39,357.07 229.92,357.04 230.45,357.00 230.98,356.98 231.50,356.95 232.03,356.93 232.56,356.90 233.09,356.89 233.62,356.87 234.14,356.85 234.67,356.84 235.20,356.83 235.73,356.81 236.26,356.80 236.78,356.79 237.31,356.79 237.84,356.78 238.37,356.77 238.90,356.76 239.42,356.76 239.95,356.75 240.48,356.75 241.01,356.74 241.54,356.74 242.06,356.74 242.59,356.73 243.12,356.73 243.65,356.73 244.18,356.73 244.70,356.72 245.23,356.72 245.76,356.72 246.29,356.72 246.82,356.72 247.34,356.72 247.87,356.72 248.40,356.71 248.93,356.71 249.46,356.71 249.98,356.71 250.51,356.71 251.04,356.71 251.57,356.71 252.10,356.71 252.62,356.71 253.15,356.71 253.68,356.71 253.68,359.66" fill="none" stroke="#141414" stroke-width="1.0" stroke-linejoin="round" opacity="1.0"/>
<polyline points="253.68,359.66 254.68,359.71 255.67,359.80 256.67,359.91 257.66,360.03 258.66,360.17 259.66,360.31 260.65,360.46 261.65,360.60 262.64,360.75 263.64,360.90 264.63,361.04 265.63,361.18 266.63,361.32 267.62,361.45 268.62,361.57 269.61,361.69 270.61,361.80 271.61,361.90 272.60,362.00 273.60,362.09 274.59,362.18 275.59,362.26 276.58,362.33 277.58,362.40 278.58,362.46 279.57,362.51 280.57,362.57 281.56,362.61 282.56,362.65 283.56,362.69 284.55,362.73 285.55,362.76 286.54,362.78 287.54,362.81 288.53,362.83 289.53,362.85 290.53,362.87 291.52,362.88 292.52,362.90 293.51,362.91 294.51,362.92 295.51,362.93 296.50,362.94 297.50,362.94 298.49,362.95 299.49,362.96 300.48,362.96 301.48,362.97 302.48,362.97 303.47,362.97 304.47,362.98 305.46,362.98 306.46,362.98 307.46,362.98 308.45,362.98 309.45,362.98 310.44,362.99 311.44,362.99 312.44,362.99 313.43,362.99 314.43,362.99 315.42,362.99 316.42,362.99 317.41,362.99 318.41,362.99 319.41,362.99 320.40,362.99 321.40,362.99 322.39,362.99 323.39,362.99 324.39,362.99 325.38,362.99 326.38,362.99 327.37,362.99 328.37,362.99 329.36,362.99 330.36,362.99 331.36,362.99 332.35,362.99" fill="none" stroke="#1c1c1c" stroke-width="1.0" stroke-linejoin="round" opacity="1.0"/>
<polyline points="222.00,362.99 222.07,362.87 222.13,362.76 222.20,362.65 222.26,362.55 222.33,362.45 222.40,362.36 222.46,362.27 222.53,362.19 222.59,362.12 222.66,362.04 222.73,361.98 222.79,361.91 222.86,361.85 222.92,361.79 222.99,361.74 223.06,361.69 223.12,361.64 223.19,361.59 223.25,361.55 223.32,361.51 223.39,361.47 223.45,361.43 223.52,361.40 223.58,361.36 223.65,361.33 223.72,361.30 223.78,361.27 223.85,361.24 223.91,361.22 223.98,361.19 224.05,361.17 224.11,361.15 224.64,361.00 225.17,360.90 225.70,360.83 226.22,360.77 226.75,360.72 227.28,360.69 227.81,360.66 228.34,360.63 228.86,360.61 229.39,360.59 229.92,360.57 230.45,360.55 230.98,360.54 231.50,360.52 232.03,360.51 232.56,360.50 233.09,360.49 233.62,360.48 234.14,360.48 234.67,360.47 235.20,360.46 235.73,360.46 236.26,360.45 236.78,360.45 237.31,360.44 237.84,360.44 238.37,360.44 238.90,360.43 239.42,360.43 239.95,360.43 240.48,360.42 241.01,360.42 241.54,360.42 242.06,360.42 242.59,360.42 243.12,360.42 243.65,360.41 244.18,360.41 244.70,360.41 245.23,360.41 245.76,360.41 246.29,360.41 246.82,360.41 247.34,360.41 247.87,360.41 248.40,360.41 248.93,360.41 249.46,360.41 249.98,360.41 250.51,360.41 251.04,360.41 251.57,360.40 252.10,360.40 252.62,360.40 253.15,360.40 253.68,360.40 253.68,363.36" fill="none" stroke="#141414" stroke-width="1.0" stroke-linejoin="round" opacity="1.0"/>
<polyline points="253.68,363.36 254.68,363.36 255.67,363.36 256.67,363.36 257.66,363.36 258.66,363.36 259.66,363.36 260.65,363.36 261.65,363.36 262.64,363.36 263.64,363.36 264.63,363.36 265.63,363.36 266.63,363.36 267.62,363.36 268.62,363.36 269.61,363.36 270.61,363.36 271.61,363.36 272.60,363.36 273.60,363.36 274.59,363.36 275.59,363.36 276.58,363.36 277.58,363.36 278.58,363.36 279.57,363.36 280.57,363.36 281.56,363.36 282.56,363.36 283.56,363.36 284.55,363.36 285.55,363.36 286.54,363.36 287.54,363.36 288.53,363.36 289.53,363.36 290.53,363.36 291.52,363.36 292.52,363.36 293.51,363.36 294.51,363.36 295.51,363.36 296.50,363.36 297.50,363.36 298.49,363.36 299.49,363.36 300.48,363.36 301.48,363.36 302.48,363.36 303.47,363.36 304.47,363.36 305.46,363.36 306.46,363.36 307.46,363.36 308.45,363.36 309.45,363.36 310.44,363.36 311.44,363.36 312.44,363.36 313.43,363.36 314.43,363.36 315.42,363.36 316.42,363.36 317.41,363.36 318.41,363.36 319.41,363.36 320.40,363.36 321.40,363.36 322.39,363.36 323.39,363.36 324.39,363.36 325.38,363.36 326.38,363.36 327.37,363.36 328.37,363.36 329.36,363.36 330.36,363.36 331.36,363.36 332.35,363.36" fill="none" stroke="#1c1c1c" stroke-width="1.0" stroke-linejoin="round" opacity="1.0"/>
<polyline points="222.00,364.10 222.07,364.04 222.13,363.97 222.20,363.91 222.26,363.85 222.33,363.79 222.40,363.73 222.46,363.68 222.53,363.62 222.59,363.56 222.66,363.51 222.73,363.46 222.79,363.40 222.86,363.35 222.92,363.30 222.99,363.25 223.06,363.20 223.12,363.15 223.19,363.10 223.25,363.06 223.32,363.01 223.39,362.97 223.45,362.92 223.52,362.88 223.58,362.83 223.65,362.79 223.72,362.75 223.78,362.71 223.85,362.67 223.91,362.63 223.98,362.59 224.05,362.55 224.11,362.51 224.64,362.22 225.17,361.97 225.70,361.74 226.22,361.54 226.75,361.35 227.28,361.19 227.81,361.03 228.34,360.90 228.86,360.77 229.39,360.65 229.92,360.55 230.45,360.45 230.98,360.36 231.50,360.27 232.03,360.19 232.56,360.12 233.09,360.05 233.62,359.99 234.14,359.93 234.67,359.88 235.20,359.82 235.73,359.78 236.26,359.73 236.78,359.69 237.31,359.65 237.84,359.61 238.37,359.57 238.90,359.54 239.42,359.51 239.95,359.48 240.48,359.45 241.01,359.43 241.54,359.40 242.06,359.38 242.59,359.36 243.12,359.34 243.65,359.32 244.18,359.30 244.70,359.28 245.23,359.27 245.76,359.25 246.29,359.24 246.82,359.23 247.34,359.21 247.87,359.20 248.40,359.19 248.93,359.18 249.46,359.17 249.98,359.16 250.51,359.15 251.04,359.14 251.57,359.14 252.10,359.13 252.62,359.12 253.15,359.12 253.68,359.11 253.68,361.33 254.68,361.32 255.67,361.31 256.67,361.30 257.66,361.29 258.66,361.27 259.66,361.26 260.65,361.24 261.65,361.22 262.64,361.21 263.64,361.19 264.63,361.17 265.63,361.16 266.63,361.14 267.62,361.13 268.62,361.12 269.61,361.10 270.61,361.09 271.61,361.08 272.60,361.07 273.60,361.06 274.59,361.05 275.59,361.04 276.58,361.03 277.58,361.02 278.58,361.02 279.57,361.01 280.57,361.01 281.56,361.00 282.56,361.00 283.56,360.99 284.55,360.99 285.55,360.98 286.54,360.98 287.54,360.98 288.53,360.98 289.53,360.97 290.53,360.97 291.52,360.97 292.52,360.97 293.51,360.97 294.51,360.97 295.51,360.97 296.50,360.96 297.50,360.96 298.49,360.96 299.49,360.96 300.48,360.96 301.48,360.96 302.48,360.96 303.47,360.96 304.47,360.96 305.46,360.96 306.46,360.96 307.46,360.96 308.45,360.96 309.45,360.96 310.44,360.96 311.44,360.96 312.44,360.96 313.43,360.96 314.43,360.96 315.42,360.96 316.42,360.96 317.41,360.96 318.41,360.96 319.41,360.96 320.40,360.96 321.40,360.96 322.39,360.96 323.39,360.96 324.39,360.96 325.38,360.96 326.38,360.96 327.37,360.96 328.37,360.96 329.36,360.96 330.36,360.96 331.36,360.96 332.35,360.96" fill="none" stroke="#ee1c24" stroke-width="0.95" stroke-linejoin="round" opacity="1.0"/>
<polyline points="222.00,364.10 222.07,363.99 222.13,363.89 222.20,363.79 222.26,363.68 222.33,363.58 222.40,363.48 222.46,363.39 222.53,363.29 222.59,363.19 222.66,363.10 222.73,363.00 222.79,362.91 222.86,362.82 222.92,362.73 222.99,362.64 223.06,362.55 223.12,362.46 223.19,362.37 223.25,362.29 223.32,362.20 223.39,362.12 223.45,362.04 223.52,361.95 223.58,361.87 223.65,361.79 223.72,361.71 223.78,361.63 223.85,361.56 223.91,361.48 223.98,361.40 224.05,361.33 224.11,361.25 224.64,360.68 225.17,360.16 225.70,359.67 226.22,359.22 226.75,358.81 227.28,358.42 227.81,358.06 228.34,357.72 228.86,357.41 229.39,357.11 229.92,356.84 230.45,356.58 230.98,356.34 231.50,356.12 232.03,355.90 232.56,355.70 233.09,355.52 233.62,355.34 234.14,355.18 234.67,355.02 235.20,354.88 235.73,354.74 236.26,354.61 236.78,354.49 237.31,354.38 237.84,354.27 238.37,354.17 238.90,354.07 239.42,353.98 239.95,353.90 240.48,353.82 241.01,353.75 241.54,353.68 242.06,353.61 242.59,353.55 243.12,353.49 243.65,353.43 244.18,353.38 244.70,353.33 245.23,353.29 245.76,353.24 246.29,353.20 246.82,353.16 247.34,353.13 247.87,353.09 248.40,353.06 248.93,353.03 249.46,353.00 249.98,352.98 250.51,352.95 251.04,352.93 251.57,352.90 252.10,352.88 252.62,352.86 253.15,352.84 253.68,352.83 253.68,360.03 254.68,360.04 255.67,360.05 256.67,360.06 257.66,360.08 258.66,360.09 259.66,360.11 260.65,360.12 261.65,360.14 262.64,360.16 263.64,360.17 264.63,360.19 265.63,360.20 266.63,360.22 267.62,360.23 268.62,360.25 269.61,360.26 270.61,360.27 271.61,360.28 272.60,360.29 273.60,360.30 274.59,360.31 275.59,360.32 276.58,360.33 277.58,360.34 278.58,360.34 279.57,360.35 280.57,360.36 281.56,360.36 282.56,360.37 283.56,360.37 284.55,360.37 285.55,360.38 286.54,360.38 287.54,360.38 288.53,360.39 289.53,360.39 290.53,360.39 291.52,360.39 292.52,360.39 293.51,360.39 294.51,360.40 295.51,360.40 296.50,360.40 297.50,360.40 298.49,360.40 299.49,360.40 300.48,360.40 301.48,360.40 302.48,360.40 303.47,360.40 304.47,360.40 305.46,360.40 306.46,360.40 307.46,360.40 308.45,360.40 309.45,360.40 310.44,360.40 311.44,360.40 312.44,360.40 313.43,360.40 314.43,360.40 315.42,360.40 316.42,360.40 317.41,360.40 318.41,360.40 319.41,360.40 320.40,360.40 321.40,360.40 322.39,360.40 323.39,360.40 324.39,360.40 325.38,360.40 326.38,360.40 327.37,360.40 328.37,360.40 329.36,360.40 330.36,360.40 331.36,360.40 332.35,360.40" fill="none" stroke="#ee1c24" stroke-width="0.95" stroke-linejoin="round" opacity="1.0"/>
<polyline points="222.00,364.10 222.07,364.08 222.13,364.07 222.20,364.05 222.26,364.04 222.33,364.02 222.40,364.01 222.46,363.99 222.53,363.98 222.59,363.97 222.66,363.95 222.73,363.94 222.79,363.93 222.86,363.92 222.92,363.91 222.99,363.89 223.06,363.88 223.12,363.87 223.19,363.86 223.25,363.85 223.32,363.84 223.39,363.74 223.45,363.63 223.52,363.53 223.58,363.42 223.65,363.32 223.72,363.22 223.78,363.12 223.85,363.02 223.91,362.92 223.98,362.82 224.05,362.73 224.11,362.63 224.64,361.89 225.17,361.20 225.70,360.56 226.22,359.96 226.75,359.40 227.28,358.87 227.81,358.37 228.34,357.91 228.86,357.48 229.39,357.07 229.92,356.68 230.45,356.32 230.98,355.99 231.50,355.67 232.03,355.37 232.56,355.09 233.09,354.82 233.62,354.57 234.14,354.34 234.67,354.12 235.20,353.91 235.73,353.72 236.26,353.53 236.78,353.36 237.31,353.20 237.84,353.04 238.37,352.90 238.90,352.76 239.42,352.64 239.95,352.52 240.48,352.40 241.01,352.30 241.54,352.20 242.06,352.10 242.59,352.01 243.12,351.93 243.65,351.85 244.18,351.77 244.70,351.70 245.23,351.64 245.76,351.58 246.29,351.52 246.82,351.46 247.34,351.41 247.87,351.36 248.40,351.32 248.93,351.27 249.46,351.23 249.98,351.19 250.51,351.16 251.04,351.12 251.57,351.09 252.10,351.06 252.62,351.03 253.15,351.00 253.68,350.98 253.68,359.30 254.68,359.33 255.67,359.39 256.67,359.47 257.66,359.56 258.66,359.66 259.66,359.76 260.65,359.87 261.65,359.97 262.64,360.08 263.64,360.19 264.63,360.29 265.63,360.39 266.63,360.49 267.62,360.58 268.62,360.67 269.61,360.76 270.61,360.84 271.61,360.91 272.60,360.98 273.60,361.05 274.59,361.11 275.59,361.17 276.58,361.22 277.58,361.27 278.58,361.31 279.57,361.35 280.57,361.39 281.56,361.42 282.56,361.45 283.56,361.48 284.55,361.51 285.55,361.53 286.54,361.55 287.54,361.57 288.53,361.58 289.53,361.60 290.53,361.61 291.52,361.62 292.52,361.63 293.51,361.64 294.51,361.65 295.51,361.65 296.50,361.66 297.50,361.66 298.49,361.67 299.49,361.67 300.48,361.68 301.48,361.68 302.48,361.68 303.47,361.68 304.47,361.69 305.46,361.69 306.46,361.69 307.46,361.69 308.45,361.69 309.45,361.69 310.44,361.69 311.44,361.69 312.44,361.69 313.43,361.69 314.43,361.70 315.42,361.70 316.42,361.70 317.41,361.70 318.41,361.70 319.41,361.70 320.40,361.70 321.40,361.70 322.39,361.70 323.39,361.70 324.39,361.70 325.38,361.70 326.38,361.70 327.37,361.70 328.37,361.70 329.36,361.70 330.36,361.70 331.36,361.70 332.35,361.70" fill="none" stroke="#16703a" stroke-width="0.95" stroke-linejoin="round" opacity="1.0"/>
<polyline points="222.00,364.10 222.07,364.05 222.13,364.00 222.20,363.95 222.26,363.90 222.33,363.86 222.40,363.81 222.46,363.77 222.53,363.72 222.59,363.68 222.66,363.64 222.73,363.60 222.79,363.56 222.86,363.53 222.92,363.49 222.99,363.45 223.06,363.42 223.12,363.38 223.19,363.35 223.25,363.32 223.32,363.29 223.39,363.25 223.45,363.22 223.52,363.19 223.58,363.17 223.65,363.14 223.72,363.11 223.78,363.08 223.85,363.06 223.91,363.03 223.98,363.01 224.05,362.98 224.11,362.96 224.64,362.79 225.17,361.41 225.70,360.12 226.22,358.91 226.75,357.76 227.28,356.69 227.81,355.67 228.34,354.71 228.86,353.80 229.39,352.94 229.92,352.13 230.45,351.36 230.98,350.63 231.50,349.93 232.03,349.28 232.56,348.65 233.09,348.06 233.62,347.50 234.14,346.96 234.67,346.45 235.20,345.97 235.73,345.51 236.26,345.08 236.78,344.66 237.31,344.27 237.84,343.89 238.37,343.54 238.90,343.20 239.42,342.88 239.95,342.57 240.48,342.28 241.01,342.00 241.54,341.74 242.06,341.49 242.59,341.25 243.12,341.02 243.65,340.81 244.18,340.60 244.70,340.41 245.23,340.22 245.76,340.04 246.29,339.88 246.82,339.72 247.34,339.56 247.87,339.42 248.40,339.28 248.93,339.15 249.46,339.03 249.98,338.91 250.51,338.80 251.04,338.69 251.57,338.59 252.10,338.49 252.62,338.40 253.15,338.31 253.68,338.23 253.68,358.19 254.68,358.23 255.67,358.31 256.67,358.42 257.66,358.53 258.66,358.66 259.66,358.79 260.65,358.93 261.65,359.07 262.64,359.21 263.64,359.35 264.63,359.49 265.63,359.62 266.63,359.75 267.62,359.87 268.62,359.99 269.61,360.10 270.61,360.20 271.61,360.30 272.60,360.39 273.60,360.48 274.59,360.56 275.59,360.64 276.58,360.70 277.58,360.77 278.58,360.82 279.57,360.88 280.57,360.93 281.56,360.97 282.56,361.01 283.56,361.05 284.55,361.08 285.55,361.11 286.54,361.13 287.54,361.16 288.53,361.18 289.53,361.20 290.53,361.21 291.52,361.23 292.52,361.24 293.51,361.25 294.51,361.26 295.51,361.27 296.50,361.28 297.50,361.28 298.49,361.29 299.49,361.30 300.48,361.30 301.48,361.30 302.48,361.31 303.47,361.31 304.47,361.31 305.46,361.32 306.46,361.32 307.46,361.32 308.45,361.32 309.45,361.32 310.44,361.32 311.44,361.32 312.44,361.32 313.43,361.32 314.43,361.33 315.42,361.33 316.42,361.33 317.41,361.33 318.41,361.33 319.41,361.33 320.40,361.33 321.40,361.33 322.39,361.33 323.39,361.33 324.39,361.33 325.38,361.33 326.38,361.33 327.37,361.33 328.37,361.33 329.36,361.33 330.36,361.33 331.36,361.33 332.35,361.33" fill="none" stroke="#2b4fc0" stroke-width="0.95" stroke-linejoin="round" opacity="1.0"/>
<polyline points="222.00,364.10 222.07,363.65 222.13,363.21 222.20,362.77 222.26,362.34 222.33,361.91 222.40,361.48 222.46,361.06 222.53,360.65 222.59,360.24 222.66,359.83 222.73,359.43 222.79,359.04 222.86,358.64 222.92,358.26 222.99,357.87 223.06,357.49 223.12,357.12 223.19,356.75 223.25,356.38 223.32,356.02 223.39,355.66 223.45,355.31 223.52,354.96 223.58,354.61 223.65,354.27 223.72,353.93 223.78,353.60 223.85,353.27 223.91,352.94 223.98,352.61 224.05,352.29 224.11,351.98 224.64,349.57 225.17,347.37 225.70,345.36 226.22,343.52 226.75,341.84 227.28,340.30 227.81,338.90 228.34,337.62 228.86,336.45 229.39,335.38 229.92,334.40 230.45,333.50 230.98,332.68 231.50,331.94 232.03,331.25 232.56,330.63 233.09,330.06 233.62,329.54 234.14,329.06 234.67,328.63 235.20,328.23 235.73,327.86 236.26,327.53 236.78,327.23 237.31,326.95 237.84,326.70 238.37,326.46 238.90,326.25 239.42,326.06 239.95,325.88 240.48,325.72 241.01,325.57 241.54,325.44 242.06,325.31 242.59,325.20 243.12,325.10 243.65,325.00 244.18,324.92 244.70,324.84 245.23,324.77 245.76,324.70 246.29,324.64 246.82,324.59 247.34,324.54 247.87,324.49 248.40,324.45 248.93,324.41 249.46,324.37 249.98,324.34 250.51,324.31 251.04,324.29 251.57,324.26 252.10,324.24 252.62,324.22 253.15,324.20 253.68,324.18 253.68,357.45 254.68,357.48 255.67,357.55 256.67,357.64 257.66,357.73 258.66,357.84 259.66,357.95 260.65,358.06 261.65,358.18 262.64,358.29 263.64,358.41 264.63,358.52 265.63,358.63 266.63,358.73 267.62,358.83 268.62,358.93 269.61,359.02 270.61,359.11 271.61,359.19 272.60,359.27 273.60,359.34 274.59,359.40 275.59,359.46 276.58,359.52 277.58,359.57 278.58,359.62 279.57,359.66 280.57,359.70 281.56,359.74 282.56,359.77 283.56,359.80 284.55,359.83 285.55,359.85 286.54,359.87 287.54,359.89 288.53,359.91 289.53,359.93 290.53,359.94 291.52,359.95 292.52,359.96 293.51,359.97 294.51,359.98 295.51,359.99 296.50,359.99 297.50,360.00 298.49,360.00 299.49,360.01 300.48,360.01 301.48,360.01 302.48,360.02 303.47,360.02 304.47,360.02 305.46,360.02 306.46,360.03 307.46,360.03 308.45,360.03 309.45,360.03 310.44,360.03 311.44,360.03 312.44,360.03 313.43,360.03 314.43,360.03 315.42,360.03 316.42,360.03 317.41,360.03 318.41,360.03 319.41,360.03 320.40,360.03 321.40,360.03 322.39,360.03 323.39,360.03 324.39,360.03 325.38,360.03 326.38,360.03 327.37,360.03 328.37,360.03 329.36,360.03 330.36,360.03 331.36,360.03 332.35,360.03" fill="none" stroke="#ea6cc0" stroke-width="0.95" stroke-linejoin="round" opacity="1.0"/>
<polyline points="222.00,364.10 222.07,363.16 222.13,362.25 222.20,361.35 222.26,360.48 222.33,359.62 222.40,358.78 222.46,357.97 222.53,357.17 222.59,356.39 222.66,355.62 222.73,354.88 222.79,354.15 222.86,353.43 222.92,352.73 222.99,352.05 223.06,351.38 223.12,350.73 223.19,350.09 223.25,349.47 223.32,348.86 223.39,348.26 223.45,347.68 223.52,347.11 223.58,346.55 223.65,346.01 223.72,345.47 223.78,344.95 223.85,344.44 223.91,343.94 223.98,343.45 224.05,342.97 224.11,342.50 224.64,339.10 225.17,336.22 225.70,333.79 226.22,331.73 226.75,329.97 227.28,328.47 227.81,327.18 228.34,326.06 228.86,325.09 229.39,324.24 229.92,323.50 230.45,322.85 230.98,322.27 231.50,321.76 232.03,321.30 232.56,320.89 233.09,320.52 233.62,320.19 234.14,319.88 234.67,319.61 235.20,319.35 235.73,319.12 236.26,318.91 236.78,318.71 237.31,318.53 237.84,318.36 238.37,318.20 238.90,318.05 239.42,317.92 239.95,317.79 240.48,317.67 241.01,317.56 241.54,317.46 242.06,317.36 242.59,317.27 243.12,317.18 243.65,317.10 244.18,317.03 244.70,316.96 245.23,316.89 245.76,316.83 246.29,316.77 246.82,316.72 247.34,316.66 247.87,316.62 248.40,316.57 248.93,316.53 249.46,316.49 249.98,316.45 250.51,316.41 251.04,316.38 251.57,316.35 252.10,316.32 252.62,316.29 253.15,316.26 253.68,316.24 253.68,356.71 254.68,356.77 255.67,356.87 256.67,357.01 257.66,357.16 258.66,357.32 259.66,357.50 260.65,357.67 261.65,357.86 262.64,358.04 263.64,358.22 264.63,358.39 265.63,358.56 266.63,358.73 267.62,358.89 268.62,359.04 269.61,359.18 270.61,359.32 271.61,359.45 272.60,359.57 273.60,359.68 274.59,359.78 275.59,359.88 276.58,359.97 277.58,360.05 278.58,360.12 279.57,360.19 280.57,360.25 281.56,360.31 282.56,360.36 283.56,360.41 284.55,360.45 285.55,360.49 286.54,360.52 287.54,360.55 288.53,360.58 289.53,360.60 290.53,360.62 291.52,360.64 292.52,360.66 293.51,360.67 294.51,360.69 295.51,360.70 296.50,360.71 297.50,360.72 298.49,360.72 299.49,360.73 300.48,360.74 301.48,360.74 302.48,360.75 303.47,360.75 304.47,360.75 305.46,360.76 306.46,360.76 307.46,360.76 308.45,360.76 309.45,360.76 310.44,360.77 311.44,360.77 312.44,360.77 313.43,360.77 314.43,360.77 315.42,360.77 316.42,360.77 317.41,360.77 318.41,360.77 319.41,360.77 320.40,360.77 321.40,360.77 322.39,360.77 323.39,360.77 324.39,360.77 325.38,360.77 326.38,360.77 327.37,360.77 328.37,360.77 329.36,360.77 330.36,360.77 331.36,360.77 332.35,360.77" fill="none" stroke="#1ecfe0" stroke-width="0.95" stroke-linejoin="round" opacity="1.0"/>
<polyline points="222.00,364.10 222.07,363.19 222.13,362.29 222.20,361.43 222.26,360.58 222.33,359.76 222.40,358.96 222.46,358.18 222.53,357.42 222.59,356.67 222.66,355.95 222.73,355.24 222.79,354.55 222.86,353.88 222.92,353.23 222.99,352.59 223.06,351.96 223.12,351.35 223.19,350.76 223.25,350.17 223.32,349.61 223.39,349.05 223.45,348.51 223.52,347.98 223.58,347.46 223.65,346.95 223.72,346.46 223.78,345.97 223.85,345.50 223.91,345.03 223.98,344.58 224.05,344.13 224.11,343.70 224.64,340.52 225.17,337.80 225.70,335.45 226.22,333.39 226.75,331.59 227.28,329.99 227.81,328.55 228.34,327.27 228.86,326.11 229.39,325.06 229.92,324.10 230.45,323.23 230.98,322.44 231.50,321.71 232.03,321.04 232.56,320.42 233.09,319.86 233.62,319.34 234.14,318.86 234.67,318.42 235.20,318.02 235.73,317.64 236.26,317.30 236.78,316.98 237.31,316.69 237.84,316.41 238.37,316.16 238.90,315.93 239.42,315.72 239.95,315.53 240.48,315.34 241.01,315.18 241.54,315.02 242.06,314.88 242.59,314.75 243.12,314.63 243.65,314.52 244.18,314.41 244.70,314.32 245.23,314.23 245.76,314.15 246.29,314.07 246.82,314.00 247.34,313.94 247.87,313.88 248.40,313.83 248.93,313.77 249.46,313.73 249.98,313.69 250.51,313.65 251.04,313.61 251.57,313.58 252.10,313.54 252.62,313.52 253.15,313.49 253.68,313.46 253.68,355.97 254.68,356.03 255.67,356.15 256.67,356.29 257.66,356.46 258.66,356.64 259.66,356.83 260.65,357.02 261.65,357.22 262.64,357.42 263.64,357.61 264.63,357.81 265.63,357.99 266.63,358.17 267.62,358.35 268.62,358.51 269.61,358.67 270.61,358.82 271.61,358.96 272.60,359.09 273.60,359.21 274.59,359.32 275.59,359.43 276.58,359.52 277.58,359.61 278.58,359.69 279.57,359.77 280.57,359.84 281.56,359.90 282.56,359.95 283.56,360.00 284.55,360.05 285.55,360.09 286.54,360.13 287.54,360.16 288.53,360.19 289.53,360.22 290.53,360.24 291.52,360.26 292.52,360.28 293.51,360.30 294.51,360.31 295.51,360.32 296.50,360.33 297.50,360.34 298.49,360.35 299.49,360.36 300.48,360.36 301.48,360.37 302.48,360.37 303.47,360.38 304.47,360.38 305.46,360.39 306.46,360.39 307.46,360.39 308.45,360.39 309.45,360.39 310.44,360.40 311.44,360.40 312.44,360.40 313.43,360.40 314.43,360.40 315.42,360.40 316.42,360.40 317.41,360.40 318.41,360.40 319.41,360.40 320.40,360.40 321.40,360.40 322.39,360.40 323.39,360.40 324.39,360.40 325.38,360.40 326.38,360.40 327.37,360.40 328.37,360.40 329.36,360.40 330.36,360.40 331.36,360.40 332.35,360.40" fill="none" stroke="#f2a81d" stroke-width="0.95" stroke-linejoin="round" opacity="1.0"/>
<polyline points="222.00,364.10 222.07,362.92 222.13,361.78 222.20,360.67 222.26,359.61 222.33,358.57 222.40,357.57 222.46,356.60 222.53,355.66 222.59,354.76 222.66,353.88 222.73,353.03 222.79,352.20 222.86,351.40 222.92,350.63 222.99,349.88 223.06,349.15 223.12,348.45 223.19,347.76 223.25,347.10 223.32,346.46 223.39,345.83 223.45,345.23 223.52,344.64 223.58,344.07 223.65,343.52 223.72,342.98 223.78,342.46 223.85,341.95 223.91,341.46 223.98,340.98 224.05,340.51 224.11,340.06 224.64,336.86 225.17,334.26 225.70,332.12 226.22,330.32 226.75,328.79 227.28,327.47 227.81,326.30 228.34,325.26 228.86,324.32 229.39,323.45 229.92,322.66 230.45,321.92 230.98,321.22 231.50,320.57 232.03,319.95 232.56,319.36 233.09,318.81 233.62,318.27 234.14,317.76 234.67,317.28 235.20,316.81 235.73,316.36 236.26,315.94 236.78,315.53 237.31,315.13 237.84,314.75 238.37,314.39 238.90,314.04 239.42,313.71 239.95,313.38 240.48,313.07 241.01,312.78 241.54,312.49 242.06,312.22 242.59,311.96 243.12,311.70 243.65,311.46 244.18,311.23 244.70,311.00 245.23,310.79 245.76,310.58 246.29,310.38 246.82,310.19 247.34,310.01 247.87,309.83 248.40,309.66 248.93,309.50 249.46,309.34 249.98,309.19 250.51,309.05 251.04,308.91 251.57,308.77 252.10,308.65 252.62,308.52 253.15,308.40 253.68,308.29 253.68,362.62 254.68,362.58 255.67,362.50 256.67,362.40 257.66,362.29 258.66,362.17 259.66,362.05 260.65,361.92 261.65,361.79 262.64,361.66 263.64,361.53 264.63,361.40 265.63,361.27 266.63,361.15 267.62,361.04 268.62,360.93 269.61,360.82 270.61,360.72 271.61,360.63 272.60,360.54 273.60,360.46 274.59,360.39 275.59,360.32 276.58,360.25 277.58,360.19 278.58,360.14 279.57,360.09 280.57,360.04 281.56,360.00 282.56,359.96 283.56,359.93 284.55,359.90 285.55,359.87 286.54,359.85 287.54,359.83 288.53,359.81 289.53,359.79 290.53,359.77 291.52,359.76 292.52,359.75 293.51,359.74 294.51,359.73 295.51,359.72 296.50,359.71 297.50,359.71 298.49,359.70 299.49,359.70 300.48,359.69 301.48,359.69 302.48,359.68 303.47,359.68 304.47,359.68 305.46,359.68 306.46,359.68 307.46,359.67 308.45,359.67 309.45,359.67 310.44,359.67 311.44,359.67 312.44,359.67 313.43,359.67 314.43,359.67 315.42,359.67 316.42,359.67 317.41,359.67 318.41,359.67 319.41,359.67 320.40,359.67 321.40,359.67 322.39,359.67 323.39,359.67 324.39,359.67 325.38,359.67 326.38,359.67 327.37,359.67 328.37,359.67 329.36,359.66 330.36,359.66 331.36,359.66 332.35,359.66" fill="none" stroke="#d64aae" stroke-width="0.95" stroke-linejoin="round" opacity="1.0"/>
<line x1="19.60" y1="438.60" x2="19.60" y2="530.30" stroke="#2b2b2b" stroke-width="0.9"/>
<line x1="18.00" y1="530.72" x2="21.20" y2="530.72" stroke="#2b2b2b" stroke-width="0.9"/>
<text transform="translate(15.00 533.32) scale(0.8 1)" x="0" y="0" font-family="'Liberation Sans', Arial, sans-serif" font-size="7.6" fill="#3c3734" text-anchor="end">-20</text>
<line x1="18.00" y1="517.56" x2="21.20" y2="517.56" stroke="#2b2b2b" stroke-width="0.9"/>
<text transform="translate(15.00 520.16) scale(0.8 1)" x="0" y="0" font-family="'Liberation Sans', Arial, sans-serif" font-size="7.6" fill="#3c3734" text-anchor="end">-10</text>
<line x1="18.00" y1="504.40" x2="21.20" y2="504.40" stroke="#2b2b2b" stroke-width="0.9"/>
<text transform="translate(15.00 507.00) scale(0.8 1)" x="0" y="0" font-family="'Liberation Sans', Arial, sans-serif" font-size="7.6" fill="#3c3734" text-anchor="end">0</text>
<line x1="18.00" y1="491.24" x2="21.20" y2="491.24" stroke="#2b2b2b" stroke-width="0.9"/>
<text transform="translate(15.00 493.84) scale(0.8 1)" x="0" y="0" font-family="'Liberation Sans', Arial, sans-serif" font-size="7.6" fill="#3c3734" text-anchor="end">10</text>
<line x1="18.00" y1="478.08" x2="21.20" y2="478.08" stroke="#2b2b2b" stroke-width="0.9"/>
<text transform="translate(15.00 480.68) scale(0.8 1)" x="0" y="0" font-family="'Liberation Sans', Arial, sans-serif" font-size="7.6" fill="#3c3734" text-anchor="end">20</text>
<line x1="18.00" y1="464.92" x2="21.20" y2="464.92" stroke="#2b2b2b" stroke-width="0.9"/>
<text transform="translate(15.00 467.52) scale(0.8 1)" x="0" y="0" font-family="'Liberation Sans', Arial, sans-serif" font-size="7.6" fill="#3c3734" text-anchor="end">30</text>
<line x1="18.00" y1="451.76" x2="21.20" y2="451.76" stroke="#2b2b2b" stroke-width="0.9"/>
<text transform="translate(15.00 454.36) scale(0.8 1)" x="0" y="0" font-family="'Liberation Sans', Arial, sans-serif" font-size="7.6" fill="#3c3734" text-anchor="end">40</text>
<line x1="18.00" y1="438.60" x2="21.20" y2="438.60" stroke="#2b2b2b" stroke-width="0.9"/>
<text transform="translate(15.00 441.20) scale(0.8 1)" x="0" y="0" font-family="'Liberation Sans', Arial, sans-serif" font-size="7.6" fill="#3c3734" text-anchor="end">50</text>
<line x1="19.60" y1="524.14" x2="21.00" y2="524.14" stroke="#2b2b2b" stroke-width="0.7"/>
<line x1="19.60" y1="510.98" x2="21.00" y2="510.98" stroke="#2b2b2b" stroke-width="0.7"/>
<line x1="19.60" y1="497.82" x2="21.00" y2="497.82" stroke="#2b2b2b" stroke-width="0.7"/>
<line x1="19.60" y1="484.66" x2="21.00" y2="484.66" stroke="#2b2b2b" stroke-width="0.7"/>
<line x1="19.60" y1="471.50" x2="21.00" y2="471.50" stroke="#2b2b2b" stroke-width="0.7"/>
<line x1="19.60" y1="458.34" x2="21.00" y2="458.34" stroke="#2b2b2b" stroke-width="0.7"/>
<line x1="19.60" y1="445.18" x2="21.00" y2="445.18" stroke="#2b2b2b" stroke-width="0.7"/>
<line x1="19.60" y1="530.30" x2="163.30" y2="530.30" stroke="#2b2b2b" stroke-width="0.9"/>
<line x1="21.15" y1="529.80" x2="21.15" y2="532.10" stroke="#2b2b2b" stroke-width="0.9"/>
<line x1="46.80" y1="529.80" x2="46.80" y2="532.10" stroke="#2b2b2b" stroke-width="0.9"/>
<line x1="72.45" y1="529.80" x2="72.45" y2="532.10" stroke="#2b2b2b" stroke-width="0.9"/>
<line x1="98.10" y1="529.80" x2="98.10" y2="532.10" stroke="#2b2b2b" stroke-width="0.9"/>
<line x1="123.75" y1="529.80" x2="123.75" y2="532.10" stroke="#2b2b2b" stroke-width="0.9"/>
<line x1="149.40" y1="529.80" x2="149.40" y2="532.10" stroke="#2b2b2b" stroke-width="0.9"/>
<text transform="translate(20.55 540.60) scale(0.8 1)" x="0" y="0" font-family="'Liberation Sans', Arial, sans-serif" font-size="7.6" fill="#3c3734" text-anchor="middle">-100</text>
<text transform="translate(46.80 540.60) scale(0.8 1)" x="0" y="0" font-family="'Liberation Sans', Arial, sans-serif" font-size="7.6" fill="#3c3734" text-anchor="middle">0</text>
<text transform="translate(72.45 540.60) scale(0.8 1)" x="0" y="0" font-family="'Liberation Sans', Arial, sans-serif" font-size="7.6" fill="#3c3734" text-anchor="middle">100</text>
<text transform="translate(98.10 540.60) scale(0.8 1)" x="0" y="0" font-family="'Liberation Sans', Arial, sans-serif" font-size="7.6" fill="#3c3734" text-anchor="middle">200</text>
<text transform="translate(123.75 540.60) scale(0.8 1)" x="0" y="0" font-family="'Liberation Sans', Arial, sans-serif" font-size="7.6" fill="#3c3734" text-anchor="middle">300</text>
<text transform="translate(149.40 540.60) scale(0.8 1)" x="0" y="0" font-family="'Liberation Sans', Arial, sans-serif" font-size="7.6" fill="#3c3734" text-anchor="middle">400</text>
<text x="14.00" y="434.50" font-family="'Liberation Serif', 'Times New Roman', serif" font-size="7.6" fill="#1e1e1e" text-anchor="start" font-weight="bold" stroke="#1e1e1e" stroke-width="0.15">RU</text>
<text x="28.00" y="438.30" font-family="'Liberation Serif', 'Times New Roman', serif" font-size="8.4" fill="#1a1a1a" text-anchor="start" font-style="italic" stroke="#1a1a1a" stroke-width="0.18">pN</text>
<text x="159.80" y="539.90" font-family="'Liberation Serif', 'Times New Roman', serif" font-size="7.3" fill="#1e1e1e" text-anchor="start" font-weight="bold">T(s)</text>
<line x1="31.41" y1="504.40" x2="46.80" y2="504.40" stroke="#222" stroke-width="1.2"/>
<polyline points="46.80,489.11 46.86,487.44 46.93,485.87 46.99,484.38 47.06,482.98 47.12,481.66 47.18,480.41 47.25,479.23 47.31,478.12 47.38,477.07 47.44,476.08 47.51,475.14 47.57,474.25 47.63,473.41 47.70,472.62 47.76,471.87 47.83,471.16 47.89,470.49 47.95,469.85 48.02,469.25 48.08,468.68 48.15,468.14 48.21,467.63 48.27,467.14 48.34,466.68 48.40,466.24 48.47,465.83 48.53,465.43 48.60,465.05 48.66,464.70 48.72,464.36 48.79,464.03 48.85,463.72 49.36,461.72 49.88,460.31 50.39,459.28 50.90,458.49 51.42,457.87 51.93,457.37 52.44,456.94 52.96,456.58 53.47,456.26 53.98,455.98 54.49,455.73 55.01,455.51 55.52,455.31 56.03,455.13 56.55,454.97 57.06,454.83 57.57,454.69 58.09,454.58 58.60,454.47 59.11,454.37 59.62,454.28 60.14,454.20 60.65,454.13 61.16,454.07 61.68,454.01 62.19,453.95 62.70,453.90 63.22,453.86 63.73,453.82 64.24,453.79 64.75,453.75 65.27,453.72 65.78,453.70 66.29,453.67 66.81,453.65 67.32,453.63 67.83,453.61 68.35,453.60 68.86,453.58 69.37,453.57 69.88,453.56 70.40,453.55 70.91,453.54 71.42,453.53 71.94,453.52 72.45,453.51 72.96,453.51 73.48,453.50 73.99,453.50 74.50,453.49 75.02,453.49 75.53,453.48 76.04,453.48 76.55,453.48 77.07,453.47 77.58,453.47 77.58,489.13" fill="none" stroke="#141414" stroke-width="1.0" stroke-linejoin="round" opacity="1.0"/>
<polyline points="77.58,489.13 78.55,489.37 79.53,489.74 80.50,490.16 81.48,490.62 82.45,491.09 83.42,491.58 84.40,492.08 85.37,492.57 86.35,493.06 87.32,493.55 88.29,494.02 89.27,494.48 90.24,494.92 91.22,495.35 92.19,495.76 93.16,496.15 94.14,496.53 95.11,496.88 96.09,497.22 97.06,497.54 98.04,497.85 99.01,498.13 99.98,498.40 100.96,498.66 101.93,498.89 102.91,499.12 103.88,499.32 104.85,499.52 105.83,499.70 106.80,499.87 107.78,500.02 108.75,500.17 109.72,500.30 110.70,500.43 111.67,500.54 112.65,500.65 113.62,500.74 114.59,500.83 115.57,500.92 116.54,500.99 117.52,501.06 118.49,501.13 119.46,501.19 120.44,501.24 121.41,501.29 122.39,501.33 123.36,501.38 124.33,501.41 125.31,501.45 126.28,501.48 127.26,501.51 128.23,501.53 129.20,501.55 130.18,501.58 131.15,501.60 132.13,501.61 133.10,501.63 134.07,501.64 135.05,501.66 136.02,501.67 137.00,501.68 137.97,501.69 138.95,501.70 139.92,501.70 140.89,501.71 141.87,501.72 142.84,501.72 143.82,501.73 144.79,501.73 145.76,501.73 146.74,501.74 147.71,501.74 148.69,501.74 149.66,501.75 150.63,501.75 151.61,501.75 152.58,501.75 153.56,501.75 154.53,501.76" fill="none" stroke="#1c1c1c" stroke-width="1.0" stroke-linejoin="round" opacity="1.0"/>
<polyline points="46.80,491.37 46.86,489.94 46.93,488.60 46.99,487.33 47.06,486.14 47.12,485.01 47.18,483.94 47.25,482.94 47.31,481.99 47.38,481.09 47.44,480.25 47.51,479.45 47.57,478.69 47.63,477.98 47.70,477.30 47.76,476.66 47.83,476.06 47.89,475.48 47.95,474.94 48.02,474.43 48.08,473.94 48.15,473.48 48.21,473.04 48.27,472.63 48.34,472.24 48.40,471.86 48.47,471.51 48.53,471.17 48.60,470.85 48.66,470.54 48.72,470.25 48.79,469.98 48.85,469.72 49.36,468.00 49.88,466.80 50.39,465.92 50.90,465.25 51.42,464.72 51.93,464.29 52.44,463.93 52.96,463.62 53.47,463.35 53.98,463.11 54.49,462.90 55.01,462.71 55.52,462.54 56.03,462.39 56.55,462.25 57.06,462.13 57.57,462.02 58.09,461.91 58.60,461.82 59.11,461.74 59.62,461.66 60.14,461.60 60.65,461.53 61.16,461.48 61.68,461.43 62.19,461.38 62.70,461.34 63.22,461.30 63.73,461.27 64.24,461.24 64.75,461.21 65.27,461.19 65.78,461.17 66.29,461.14 66.81,461.13 67.32,461.11 67.83,461.09 68.35,461.08 68.86,461.07 69.37,461.06 69.88,461.05 70.40,461.04 70.91,461.03 71.42,461.02 71.94,461.02 72.45,461.01 72.96,461.00 73.48,461.00 73.99,460.99 74.50,460.99 75.02,460.99 75.53,460.98 76.04,460.98 76.55,460.98 77.07,460.97 77.58,460.97 77.58,490.98" fill="none" stroke="#141414" stroke-width="1.0" stroke-linejoin="round" opacity="1.0"/>
<polyline points="77.58,490.98 78.55,491.19 79.53,491.50 80.50,491.87 81.48,492.27 82.45,492.69 83.42,493.12 84.40,493.55 85.37,493.99 86.35,494.42 87.32,494.84 88.29,495.25 89.27,495.65 90.24,496.04 91.22,496.41 92.19,496.77 93.16,497.12 94.14,497.44 95.11,497.76 96.09,498.05 97.06,498.33 98.04,498.60 99.01,498.85 99.98,499.09 100.96,499.31 101.93,499.52 102.91,499.71 103.88,499.89 104.85,500.06 105.83,500.22 106.80,500.37 107.78,500.50 108.75,500.63 109.72,500.75 110.70,500.86 111.67,500.96 112.65,501.05 113.62,501.14 114.59,501.21 115.57,501.29 116.54,501.35 117.52,501.41 118.49,501.47 119.46,501.52 120.44,501.57 121.41,501.61 122.39,501.65 123.36,501.69 124.33,501.72 125.31,501.75 126.28,501.78 127.26,501.80 128.23,501.82 129.20,501.84 130.18,501.86 131.15,501.88 132.13,501.90 133.10,501.91 134.07,501.92 135.05,501.93 136.02,501.94 137.00,501.95 137.97,501.96 138.95,501.97 139.92,501.97 140.89,501.98 141.87,501.99 142.84,501.99 143.82,501.99 144.79,502.00 145.76,502.00 146.74,502.01 147.71,502.01 148.69,502.01 149.66,502.01 150.63,502.01 151.61,502.02 152.58,502.02 153.56,502.02 154.53,502.02" fill="none" stroke="#1c1c1c" stroke-width="1.0" stroke-linejoin="round" opacity="1.0"/>
<polyline points="46.80,493.46 46.86,492.26 46.93,491.14 46.99,490.07 47.06,489.07 47.12,488.12 47.18,487.23 47.25,486.39 47.31,485.59 47.38,484.84 47.44,484.13 47.51,483.46 47.57,482.82 47.63,482.22 47.70,481.65 47.76,481.12 47.83,480.61 47.89,480.13 47.95,479.67 48.02,479.24 48.08,478.83 48.15,478.45 48.21,478.08 48.27,477.73 48.34,477.40 48.40,477.09 48.47,476.79 48.53,476.51 48.60,476.24 48.66,475.98 48.72,475.74 48.79,475.51 48.85,475.29 49.36,473.85 49.88,472.84 50.39,472.10 50.90,471.54 51.42,471.10 51.93,470.73 52.44,470.43 52.96,470.17 53.47,469.94 53.98,469.74 54.49,469.57 55.01,469.41 55.52,469.26 56.03,469.14 56.55,469.02 57.06,468.92 57.57,468.82 58.09,468.74 58.60,468.66 59.11,468.59 59.62,468.53 60.14,468.47 60.65,468.42 61.16,468.37 61.68,468.33 62.19,468.29 62.70,468.26 63.22,468.23 63.73,468.20 64.24,468.17 64.75,468.15 65.27,468.13 65.78,468.11 66.29,468.09 66.81,468.08 67.32,468.06 67.83,468.05 68.35,468.04 68.86,468.03 69.37,468.02 69.88,468.01 70.40,468.00 70.91,468.00 71.42,467.99 71.94,467.98 72.45,467.98 72.96,467.97 73.48,467.97 73.99,467.97 74.50,467.96 75.02,467.96 75.53,467.96 76.04,467.95 76.55,467.95 77.07,467.95 77.58,467.95 77.58,492.82" fill="none" stroke="#141414" stroke-width="1.0" stroke-linejoin="round" opacity="1.0"/>
<polyline points="77.58,492.82 78.55,493.00 79.53,493.27 80.50,493.59 81.48,493.93 82.45,494.29 83.42,494.66 84.40,495.03 85.37,495.40 86.35,495.77 87.32,496.13 88.29,496.48 89.27,496.83 90.24,497.16 91.22,497.48 92.19,497.79 93.16,498.08 94.14,498.36 95.11,498.63 96.09,498.88 97.06,499.13 98.04,499.35 99.01,499.57 99.98,499.77 100.96,499.96 101.93,500.14 102.91,500.30 103.88,500.46 104.85,500.61 105.83,500.74 106.80,500.87 107.78,500.98 108.75,501.09 109.72,501.19 110.70,501.29 111.67,501.37 112.65,501.45 113.62,501.53 114.59,501.59 115.57,501.66 116.54,501.71 117.52,501.77 118.49,501.81 119.46,501.86 120.44,501.90 121.41,501.94 122.39,501.97 123.36,502.00 124.33,502.03 125.31,502.05 126.28,502.08 127.26,502.10 128.23,502.12 129.20,502.13 130.18,502.15 131.15,502.16 132.13,502.18 133.10,502.19 134.07,502.20 135.05,502.21 136.02,502.22 137.00,502.23 137.97,502.23 138.95,502.24 139.92,502.25 140.89,502.25 141.87,502.26 142.84,502.26 143.82,502.26 144.79,502.27 145.76,502.27 146.74,502.27 147.71,502.27 148.69,502.28 149.66,502.28 150.63,502.28 151.61,502.28 152.58,502.28 153.56,502.28 154.53,502.29" fill="none" stroke="#1c1c1c" stroke-width="1.0" stroke-linejoin="round" opacity="1.0"/>
<polyline points="46.80,495.39 46.86,494.41 46.93,493.48 46.99,492.61 47.06,491.78 47.12,491.00 47.18,490.27 47.25,489.57 47.31,488.92 47.38,488.30 47.44,487.71 47.51,487.16 47.57,486.64 47.63,486.14 47.70,485.68 47.76,485.24 47.83,484.82 47.89,484.42 47.95,484.05 48.02,483.69 48.08,483.36 48.15,483.04 48.21,482.74 48.27,482.45 48.34,482.18 48.40,481.92 48.47,481.67 48.53,481.44 48.60,481.22 48.66,481.01 48.72,480.81 48.79,480.62 48.85,480.44 49.36,479.25 49.88,478.42 50.39,477.82 50.90,477.35 51.42,476.99 51.93,476.69 52.44,476.44 52.96,476.23 53.47,476.04 53.98,475.87 54.49,475.73 55.01,475.60 55.52,475.48 56.03,475.37 56.55,475.28 57.06,475.19 57.57,475.12 58.09,475.05 58.60,474.98 59.11,474.93 59.62,474.87 60.14,474.83 60.65,474.78 61.16,474.75 61.68,474.71 62.19,474.68 62.70,474.65 63.22,474.63 63.73,474.60 64.24,474.58 64.75,474.56 65.27,474.54 65.78,474.53 66.29,474.51 66.81,474.50 67.32,474.49 67.83,474.48 68.35,474.47 68.86,474.46 69.37,474.45 69.88,474.45 70.40,474.44 70.91,474.43 71.42,474.43 71.94,474.43 72.45,474.42 72.96,474.42 73.48,474.41 73.99,474.41 74.50,474.41 75.02,474.40 75.53,474.40 76.04,474.40 76.55,474.40 77.07,474.40 77.58,474.40 77.58,494.53" fill="none" stroke="#141414" stroke-width="1.0" stroke-linejoin="round" opacity="1.0"/>
<polyline points="77.58,494.53 78.55,494.68 79.53,494.91 80.50,495.17 81.48,495.46 82.45,495.75 83.42,496.06 84.40,496.37 85.37,496.68 86.35,496.99 87.32,497.29 88.29,497.58 89.27,497.87 90.24,498.15 91.22,498.41 92.19,498.67 93.16,498.91 94.14,499.15 95.11,499.37 96.09,499.58 97.06,499.79 98.04,499.97 99.01,500.15 99.98,500.32 100.96,500.48 101.93,500.63 102.91,500.77 103.88,500.90 104.85,501.02 105.83,501.13 106.80,501.24 107.78,501.33 108.75,501.43 109.72,501.51 110.70,501.59 111.67,501.66 112.65,501.73 113.62,501.79 114.59,501.84 115.57,501.89 116.54,501.94 117.52,501.99 118.49,502.03 119.46,502.06 120.44,502.10 121.41,502.13 122.39,502.15 123.36,502.18 124.33,502.20 125.31,502.23 126.28,502.24 127.26,502.26 128.23,502.28 129.20,502.29 130.18,502.31 131.15,502.32 132.13,502.33 133.10,502.34 134.07,502.35 135.05,502.36 136.02,502.36 137.00,502.37 137.97,502.38 138.95,502.38 139.92,502.39 140.89,502.39 141.87,502.39 142.84,502.40 143.82,502.40 144.79,502.40 145.76,502.41 146.74,502.41 147.71,502.41 148.69,502.41 149.66,502.41 150.63,502.41 151.61,502.42 152.58,502.42 153.56,502.42 154.53,502.42" fill="none" stroke="#1c1c1c" stroke-width="1.0" stroke-linejoin="round" opacity="1.0"/>
<polyline points="46.80,497.88 46.86,497.17 46.93,496.50 46.99,495.87 47.06,495.27 47.12,494.70 47.18,494.17 47.25,493.67 47.31,493.20 47.38,492.75 47.44,492.32 47.51,491.92 47.57,491.55 47.63,491.19 47.70,490.85 47.76,490.53 47.83,490.23 47.89,489.94 47.95,489.67 48.02,489.41 48.08,489.17 48.15,488.94 48.21,488.72 48.27,488.51 48.34,488.32 48.40,488.13 48.47,487.95 48.53,487.78 48.60,487.62 48.66,487.47 48.72,487.33 48.79,487.19 48.85,487.06 49.36,486.20 49.88,485.60 50.39,485.16 50.90,484.83 51.42,484.56 51.93,484.35 52.44,484.17 52.96,484.01 53.47,483.88 53.98,483.76 54.49,483.65 55.01,483.56 55.52,483.47 56.03,483.39 56.55,483.33 57.06,483.26 57.57,483.21 58.09,483.16 58.60,483.11 59.11,483.07 59.62,483.03 60.14,483.00 60.65,482.97 61.16,482.94 61.68,482.91 62.19,482.89 62.70,482.87 63.22,482.85 63.73,482.84 64.24,482.82 64.75,482.81 65.27,482.79 65.78,482.78 66.29,482.77 66.81,482.76 67.32,482.75 67.83,482.75 68.35,482.74 68.86,482.73 69.37,482.73 69.88,482.72 70.40,482.72 70.91,482.71 71.42,482.71 71.94,482.71 72.45,482.70 72.96,482.70 73.48,482.70 73.99,482.70 74.50,482.69 75.02,482.69 75.53,482.69 76.04,482.69 76.55,482.69 77.07,482.69 77.58,482.69 77.58,496.11" fill="none" stroke="#141414" stroke-width="1.0" stroke-linejoin="round" opacity="1.0"/>
<polyline points="77.58,496.11 78.55,496.23 79.53,496.42 80.50,496.64 81.48,496.88 82.45,497.13 83.42,497.39 84.40,497.64 85.37,497.90 86.35,498.16 87.32,498.41 88.29,498.65 89.27,498.89 90.24,499.12 91.22,499.34 92.19,499.56 93.16,499.76 94.14,499.96 95.11,500.14 96.09,500.32 97.06,500.49 98.04,500.65 99.01,500.80 99.98,500.94 100.96,501.07 101.93,501.19 102.91,501.31 103.88,501.42 104.85,501.52 105.83,501.61 106.80,501.70 107.78,501.78 108.75,501.86 109.72,501.93 110.70,501.99 111.67,502.05 112.65,502.11 113.62,502.16 114.59,502.20 115.57,502.25 116.54,502.29 117.52,502.32 118.49,502.36 119.46,502.39 120.44,502.41 121.41,502.44 122.39,502.46 123.36,502.48 124.33,502.50 125.31,502.52 126.28,502.54 127.26,502.55 128.23,502.57 129.20,502.58 130.18,502.59 131.15,502.60 132.13,502.61 133.10,502.62 134.07,502.62 135.05,502.63 136.02,502.64 137.00,502.64 137.97,502.65 138.95,502.65 139.92,502.66 140.89,502.66 141.87,502.66 142.84,502.66 143.82,502.67 144.79,502.67 145.76,502.67 146.74,502.67 147.71,502.68 148.69,502.68 149.66,502.68 150.63,502.68 151.61,502.68 152.58,502.68 153.56,502.68 154.53,502.68" fill="none" stroke="#1c1c1c" stroke-width="1.0" stroke-linejoin="round" opacity="1.0"/>
<polyline points="46.80,499.03 46.86,498.44 46.93,497.89 46.99,497.37 47.06,496.87 47.12,496.41 47.18,495.97 47.25,495.56 47.31,495.16 47.38,494.80 47.44,494.45 47.51,494.12 47.57,493.81 47.63,493.51 47.70,493.23 47.76,492.97 47.83,492.72 47.89,492.48 47.95,492.26 48.02,492.05 48.08,491.85 48.15,491.66 48.21,491.48 48.27,491.31 48.34,491.14 48.40,490.99 48.47,490.84 48.53,490.71 48.60,490.57 48.66,490.45 48.72,490.33 48.79,490.21 48.85,490.11 49.36,489.40 49.88,488.90 50.39,488.54 50.90,488.27 51.42,488.05 51.93,487.87 52.44,487.72 52.96,487.59 53.47,487.48 53.98,487.38 54.49,487.30 55.01,487.22 55.52,487.15 56.03,487.09 56.55,487.03 57.06,486.98 57.57,486.93 58.09,486.89 58.60,486.85 59.11,486.82 59.62,486.79 60.14,486.76 60.65,486.73 61.16,486.71 61.68,486.69 62.19,486.67 62.70,486.65 63.22,486.64 63.73,486.63 64.24,486.61 64.75,486.60 65.27,486.59 65.78,486.58 66.29,486.57 66.81,486.57 67.32,486.56 67.83,486.55 68.35,486.55 68.86,486.54 69.37,486.54 69.88,486.53 70.40,486.53 70.91,486.53 71.42,486.52 71.94,486.52 72.45,486.52 72.96,486.52 73.48,486.51 73.99,486.51 74.50,486.51 75.02,486.51 75.53,486.51 76.04,486.51 76.55,486.50 77.07,486.50 77.58,486.50 77.58,497.69" fill="none" stroke="#141414" stroke-width="1.0" stroke-linejoin="round" opacity="1.0"/>
<polyline points="77.58,497.69 78.55,497.79 79.53,497.94 80.50,498.12 81.48,498.31 82.45,498.50 83.42,498.71 84.40,498.92 85.37,499.12 86.35,499.33 87.32,499.53 88.29,499.72 89.27,499.91 90.24,500.10 91.22,500.28 92.19,500.45 93.16,500.61 94.14,500.77 95.11,500.92 96.09,501.06 97.06,501.19 98.04,501.32 99.01,501.44 99.98,501.55 100.96,501.66 101.93,501.75 102.91,501.85 103.88,501.93 104.85,502.01 105.83,502.09 106.80,502.16 107.78,502.22 108.75,502.29 109.72,502.34 110.70,502.39 111.67,502.44 112.65,502.49 113.62,502.53 114.59,502.56 115.57,502.60 116.54,502.63 117.52,502.66 118.49,502.69 119.46,502.71 120.44,502.73 121.41,502.75 122.39,502.77 123.36,502.79 124.33,502.80 125.31,502.82 126.28,502.83 127.26,502.84 128.23,502.85 129.20,502.86 130.18,502.87 131.15,502.88 132.13,502.89 133.10,502.89 134.07,502.90 135.05,502.91 136.02,502.91 137.00,502.91 137.97,502.92 138.95,502.92 139.92,502.93 140.89,502.93 141.87,502.93 142.84,502.93 143.82,502.94 144.79,502.94 145.76,502.94 146.74,502.94 147.71,502.94 148.69,502.94 149.66,502.94 150.63,502.94 151.61,502.95 152.58,502.95 153.56,502.95 154.53,502.95" fill="none" stroke="#1c1c1c" stroke-width="1.0" stroke-linejoin="round" opacity="1.0"/>
<polyline points="46.80,500.73 46.86,500.33 46.93,499.95 46.99,499.59 47.06,499.25 47.12,498.93 47.18,498.64 47.25,498.35 47.31,498.08 47.38,497.83 47.44,497.59 47.51,497.37 47.57,497.16 47.63,496.95 47.70,496.76 47.76,496.58 47.83,496.41 47.89,496.25 47.95,496.10 48.02,495.95 48.08,495.82 48.15,495.69 48.21,495.56 48.27,495.45 48.34,495.34 48.40,495.23 48.47,495.13 48.53,495.04 48.60,494.94 48.66,494.86 48.72,494.78 48.79,494.70 48.85,494.63 49.36,494.14 49.88,493.80 50.39,493.56 50.90,493.37 51.42,493.22 51.93,493.10 52.44,493.00 52.96,492.91 53.47,492.83 53.98,492.76 54.49,492.70 55.01,492.65 55.52,492.60 56.03,492.56 56.55,492.52 57.06,492.49 57.57,492.46 58.09,492.43 58.60,492.40 59.11,492.38 59.62,492.36 60.14,492.34 60.65,492.32 61.16,492.30 61.68,492.29 62.19,492.28 62.70,492.27 63.22,492.25 63.73,492.25 64.24,492.24 64.75,492.23 65.27,492.22 65.78,492.22 66.29,492.21 66.81,492.20 67.32,492.20 67.83,492.20 68.35,492.19 68.86,492.19 69.37,492.19 69.88,492.18 70.40,492.18 70.91,492.18 71.42,492.18 71.94,492.17 72.45,492.17 72.96,492.17 73.48,492.17 73.99,492.17 74.50,492.17 75.02,492.17 75.53,492.16 76.04,492.16 76.55,492.16 77.07,492.16 77.58,492.16 77.58,499.14" fill="none" stroke="#141414" stroke-width="1.0" stroke-linejoin="round" opacity="1.0"/>
<polyline points="77.58,499.14 78.55,499.21 79.53,499.33 80.50,499.47 81.48,499.61 82.45,499.77 83.42,499.93 84.40,500.09 85.37,500.25 86.35,500.41 87.32,500.56 88.29,500.71 89.27,500.86 90.24,501.00 91.22,501.14 92.19,501.27 93.16,501.40 94.14,501.52 95.11,501.64 96.09,501.75 97.06,501.85 98.04,501.95 99.01,502.04 99.98,502.13 100.96,502.21 101.93,502.29 102.91,502.36 103.88,502.43 104.85,502.49 105.83,502.55 106.80,502.60 107.78,502.65 108.75,502.70 109.72,502.74 110.70,502.78 111.67,502.82 112.65,502.85 113.62,502.89 114.59,502.91 115.57,502.94 116.54,502.97 117.52,502.99 118.49,503.01 119.46,503.03 120.44,503.05 121.41,503.06 122.39,503.08 123.36,503.09 124.33,503.10 125.31,503.11 126.28,503.12 127.26,503.13 128.23,503.14 129.20,503.15 130.18,503.15 131.15,503.16 132.13,503.17 133.10,503.17 134.07,503.18 135.05,503.18 136.02,503.18 137.00,503.19 137.97,503.19 138.95,503.19 139.92,503.19 140.89,503.20 141.87,503.20 142.84,503.20 143.82,503.20 144.79,503.20 145.76,503.20 146.74,503.21 147.71,503.21 148.69,503.21 149.66,503.21 150.63,503.21 151.61,503.21 152.58,503.21 153.56,503.21 154.53,503.21" fill="none" stroke="#1c1c1c" stroke-width="1.0" stroke-linejoin="round" opacity="1.0"/>
<polyline points="46.80,501.52 46.86,501.20 46.93,500.90 46.99,500.62 47.06,500.36 47.12,500.11 47.18,499.87 47.25,499.65 47.31,499.44 47.38,499.24 47.44,499.06 47.51,498.88 47.57,498.71 47.63,498.55 47.70,498.41 47.76,498.26 47.83,498.13 47.89,498.00 47.95,497.88 48.02,497.77 48.08,497.66 48.15,497.56 48.21,497.46 48.27,497.37 48.34,497.28 48.40,497.20 48.47,497.12 48.53,497.05 48.60,496.98 48.66,496.91 48.72,496.85 48.79,496.79 48.85,496.73 49.36,496.35 49.88,496.08 50.39,495.89 50.90,495.74 51.42,495.62 51.93,495.53 52.44,495.45 52.96,495.38 53.47,495.32 53.98,495.27 54.49,495.22 55.01,495.18 55.52,495.14 56.03,495.11 56.55,495.08 57.06,495.05 57.57,495.02 58.09,495.00 58.60,494.98 59.11,494.96 59.62,494.95 60.14,494.93 60.65,494.92 61.16,494.91 61.68,494.89 62.19,494.88 62.70,494.88 63.22,494.87 63.73,494.86 64.24,494.85 64.75,494.85 65.27,494.84 65.78,494.84 66.29,494.83 66.81,494.83 67.32,494.82 67.83,494.82 68.35,494.82 68.86,494.81 69.37,494.81 69.88,494.81 70.40,494.81 70.91,494.81 71.42,494.80 71.94,494.80 72.45,494.80 72.96,494.80 73.48,494.80 73.99,494.80 74.50,494.80 75.02,494.80 75.53,494.80 76.04,494.79 76.55,494.79 77.07,494.79 77.58,494.79 77.58,500.45" fill="none" stroke="#141414" stroke-width="1.0" stroke-linejoin="round" opacity="1.0"/>
<polyline points="77.58,500.45 78.55,500.51 79.53,500.60 80.50,500.70 81.48,500.81 82.45,500.92 83.42,501.04 84.40,501.16 85.37,501.28 86.35,501.39 87.32,501.51 88.29,501.62 89.27,501.73 90.24,501.84 91.22,501.94 92.19,502.04 93.16,502.13 94.14,502.22 95.11,502.31 96.09,502.39 97.06,502.47 98.04,502.54 99.01,502.61 99.98,502.67 100.96,502.73 101.93,502.79 102.91,502.84 103.88,502.89 104.85,502.94 105.83,502.98 106.80,503.02 107.78,503.06 108.75,503.10 109.72,503.13 110.70,503.16 111.67,503.18 112.65,503.21 113.62,503.23 114.59,503.26 115.57,503.27 116.54,503.29 117.52,503.31 118.49,503.33 119.46,503.34 120.44,503.35 121.41,503.36 122.39,503.37 123.36,503.38 124.33,503.39 125.31,503.40 126.28,503.41 127.26,503.42 128.23,503.42 129.20,503.43 130.18,503.43 131.15,503.44 132.13,503.44 133.10,503.45 134.07,503.45 135.05,503.45 136.02,503.45 137.00,503.46 137.97,503.46 138.95,503.46 139.92,503.46 140.89,503.46 141.87,503.47 142.84,503.47 143.82,503.47 144.79,503.47 145.76,503.47 146.74,503.47 147.71,503.47 148.69,503.47 149.66,503.47 150.63,503.47 151.61,503.47 152.58,503.48 153.56,503.48 154.53,503.48" fill="none" stroke="#1c1c1c" stroke-width="1.0" stroke-linejoin="round" opacity="1.0"/>
<polyline points="46.80,501.87 46.86,501.60 46.93,501.34 46.99,501.09 47.06,500.86 47.12,500.64 47.18,500.43 47.25,500.24 47.31,500.05 47.38,499.88 47.44,499.72 47.51,499.56 47.57,499.41 47.63,499.28 47.70,499.14 47.76,499.02 47.83,498.90 47.89,498.79 47.95,498.69 48.02,498.59 48.08,498.49 48.15,498.40 48.21,498.32 48.27,498.24 48.34,498.16 48.40,498.09 48.47,498.02 48.53,497.96 48.60,497.89 48.66,497.83 48.72,497.78 48.79,497.72 48.85,497.67 49.36,497.34 49.88,497.11 50.39,496.94 50.90,496.81 51.42,496.71 51.93,496.62 52.44,496.55 52.96,496.49 53.47,496.44 53.98,496.39 54.49,496.35 55.01,496.32 55.52,496.28 56.03,496.25 56.55,496.23 57.06,496.20 57.57,496.18 58.09,496.16 58.60,496.14 59.11,496.13 59.62,496.11 60.14,496.10 60.65,496.09 61.16,496.08 61.68,496.07 62.19,496.06 62.70,496.05 63.22,496.04 63.73,496.04 64.24,496.03 64.75,496.02 65.27,496.02 65.78,496.02 66.29,496.01 66.81,496.01 67.32,496.00 67.83,496.00 68.35,496.00 68.86,496.00 69.37,495.99 69.88,495.99 70.40,495.99 70.91,495.99 71.42,495.99 71.94,495.99 72.45,495.98 72.96,495.98 73.48,495.98 73.99,495.98 74.50,495.98 75.02,495.98 75.53,495.98 76.04,495.98 76.55,495.98 77.07,495.98 77.58,495.98 77.58,502.95" fill="none" stroke="#141414" stroke-width="1.0" stroke-linejoin="round" opacity="1.0"/>
<polyline points="77.58,502.95 78.55,502.95 79.53,502.95 80.50,502.95 81.48,502.95 82.45,502.95 83.42,502.95 84.40,502.95 85.37,502.95 86.35,502.95 87.32,502.95 88.29,502.95 89.27,502.95 90.24,502.95 91.22,502.95 92.19,502.95 93.16,502.95 94.14,502.95 95.11,502.95 96.09,502.95 97.06,502.95 98.04,502.95 99.01,502.95 99.98,502.95 100.96,502.95 101.93,502.95 102.91,502.95 103.88,502.95 104.85,502.95 105.83,502.95 106.80,502.95 107.78,502.95 108.75,502.95 109.72,502.95 110.70,502.95 111.67,502.95 112.65,502.95 113.62,502.95 114.59,502.95 115.57,502.95 116.54,502.95 117.52,502.95 118.49,502.95 119.46,502.95 120.44,502.95 121.41,502.95 122.39,502.95 123.36,502.95 124.33,502.95 125.31,502.95 126.28,502.95 127.26,502.95 128.23,502.95 129.20,502.95 130.18,502.95 131.15,502.95 132.13,502.95 133.10,502.95 134.07,502.95 135.05,502.95 136.02,502.95 137.00,502.95 137.97,502.95 138.95,502.95 139.92,502.95 140.89,502.95 141.87,502.95 142.84,502.95 143.82,502.95 144.79,502.95 145.76,502.95 146.74,502.95 147.71,502.95 148.69,502.95 149.66,502.95 150.63,502.95 151.61,502.95 152.58,502.95 153.56,502.95 154.53,502.95" fill="none" stroke="#1c1c1c" stroke-width="1.0" stroke-linejoin="round" opacity="1.0"/>
<polyline points="46.80,504.40 46.86,504.40 46.93,504.40 46.99,504.40 47.06,504.40 47.12,504.40 47.18,504.40 47.25,504.40 47.31,504.40 47.38,504.40 47.44,504.40 47.51,504.40 47.57,504.40 47.63,504.40 47.70,504.40 47.76,504.40 47.83,504.40 47.89,504.40 47.95,504.40 48.02,504.40 48.08,504.40 48.15,504.40 48.21,504.40 48.27,504.40 48.34,504.40 48.40,504.40 48.47,504.40 48.53,504.40 48.60,504.40 48.66,504.40 48.72,504.40 48.79,504.40 48.85,504.40 49.36,504.40 49.88,503.70 50.39,503.04 50.90,502.40 51.42,501.80 51.93,501.23 52.44,500.68 52.96,500.17 53.47,499.67 53.98,499.20 54.49,498.76 55.01,498.33 55.52,497.93 56.03,497.55 56.55,497.18 57.06,496.83 57.57,496.50 58.09,496.19 58.60,495.89 59.11,495.61 59.62,495.34 60.14,495.08 60.65,494.83 61.16,494.60 61.68,494.38 62.19,494.17 62.70,493.97 63.22,493.78 63.73,493.60 64.24,493.42 64.75,493.26 65.27,493.10 65.78,492.96 66.29,492.81 66.81,492.68 67.32,492.55 67.83,492.43 68.35,492.31 68.86,492.20 69.37,492.10 69.88,492.00 70.40,491.91 70.91,491.82 71.42,491.73 71.94,491.65 72.45,491.57 72.96,491.50 73.48,491.43 73.99,491.36 74.50,491.30 75.02,491.24 75.53,491.18 76.04,491.13 76.55,491.07 77.07,491.02 77.58,490.98 77.58,501.24 78.55,501.23 79.53,501.21 80.50,501.19 81.48,501.16 82.45,501.14 83.42,501.11 84.40,501.09 85.37,501.06 86.35,501.04 87.32,501.01 88.29,500.99 89.27,500.96 90.24,500.94 91.22,500.92 92.19,500.90 93.16,500.88 94.14,500.86 95.11,500.84 96.09,500.82 97.06,500.80 98.04,500.79 99.01,500.77 99.98,500.76 100.96,500.75 101.93,500.73 102.91,500.72 103.88,500.71 104.85,500.70 105.83,500.69 106.80,500.68 107.78,500.67 108.75,500.67 109.72,500.66 110.70,500.65 111.67,500.65 112.65,500.64 113.62,500.64 114.59,500.63 115.57,500.63 116.54,500.62 117.52,500.62 118.49,500.62 119.46,500.61 120.44,500.61 121.41,500.61 122.39,500.61 123.36,500.60 124.33,500.60 125.31,500.60 126.28,500.60 127.26,500.60 128.23,500.60 129.20,500.59 130.18,500.59 131.15,500.59 132.13,500.59 133.10,500.59 134.07,500.59 135.05,500.59 136.02,500.59 137.00,500.59 137.97,500.59 138.95,500.59 139.92,500.59 140.89,500.59 141.87,500.59 142.84,500.59 143.82,500.59 144.79,500.59 145.76,500.59 146.74,500.59 147.71,500.58 148.69,500.58 149.66,500.58 150.63,500.58 151.61,500.58 152.58,500.58 153.56,500.58 154.53,500.58" fill="none" stroke="#ee1c24" stroke-width="0.95" stroke-linejoin="round" opacity="1.0"/>
<polyline points="46.80,504.40 46.86,504.37 46.93,504.35 46.99,504.32 47.06,504.30 47.12,504.28 47.18,504.25 47.25,504.23 47.31,504.21 47.38,504.19 47.44,504.17 47.51,504.15 47.57,504.13 47.63,504.11 47.70,504.09 47.76,504.07 47.83,504.05 47.89,504.04 47.95,504.02 48.02,504.00 48.08,503.99 48.15,503.82 48.21,503.65 48.27,503.48 48.34,503.31 48.40,503.15 48.47,502.99 48.53,502.83 48.60,502.67 48.66,502.51 48.72,502.35 48.79,502.20 48.85,502.04 49.36,500.86 49.88,499.75 50.39,498.72 50.90,497.75 51.42,496.85 51.93,496.00 52.44,495.21 52.96,494.47 53.47,493.77 53.98,493.11 54.49,492.50 55.01,491.92 55.52,491.38 56.03,490.87 56.55,490.39 57.06,489.94 57.57,489.51 58.09,489.11 58.60,488.74 59.11,488.38 59.62,488.05 60.14,487.74 60.65,487.44 61.16,487.17 61.68,486.90 62.19,486.66 62.70,486.43 63.22,486.21 63.73,486.00 64.24,485.81 64.75,485.63 65.27,485.46 65.78,485.30 66.29,485.14 66.81,485.00 67.32,484.87 67.83,484.74 68.35,484.62 68.86,484.51 69.37,484.40 69.88,484.30 70.40,484.21 70.91,484.12 71.42,484.04 71.94,483.96 72.45,483.88 72.96,483.81 73.48,483.75 73.99,483.69 74.50,483.63 75.02,483.57 75.53,483.52 76.04,483.47 76.55,483.43 77.07,483.38 77.58,483.34 77.58,500.72 78.55,500.74 79.53,500.78 80.50,500.82 81.48,500.87 82.45,500.92 83.42,500.97 84.40,501.02 85.37,501.07 86.35,501.12 87.32,501.17 88.29,501.22 89.27,501.27 90.24,501.32 91.22,501.36 92.19,501.41 93.16,501.45 94.14,501.49 95.11,501.52 96.09,501.56 97.06,501.59 98.04,501.62 99.01,501.65 99.98,501.68 100.96,501.71 101.93,501.73 102.91,501.75 103.88,501.78 104.85,501.80 105.83,501.82 106.80,501.83 107.78,501.85 108.75,501.86 109.72,501.88 110.70,501.89 111.67,501.90 112.65,501.91 113.62,501.92 114.59,501.93 115.57,501.94 116.54,501.95 117.52,501.96 118.49,501.96 119.46,501.97 120.44,501.98 121.41,501.98 122.39,501.99 123.36,501.99 124.33,501.99 125.31,502.00 126.28,502.00 127.26,502.00 128.23,502.01 129.20,502.01 130.18,502.01 131.15,502.01 132.13,502.01 133.10,502.02 134.07,502.02 135.05,502.02 136.02,502.02 137.00,502.02 137.97,502.02 138.95,502.02 139.92,502.02 140.89,502.03 141.87,502.03 142.84,502.03 143.82,502.03 144.79,502.03 145.76,502.03 146.74,502.03 147.71,502.03 148.69,502.03 149.66,502.03 150.63,502.03 151.61,502.03 152.58,502.03 153.56,502.03 154.53,502.03" fill="none" stroke="#16703a" stroke-width="0.95" stroke-linejoin="round" opacity="1.0"/>
<polyline points="46.80,504.40 46.86,504.34 46.93,504.28 46.99,504.23 47.06,504.17 47.12,504.12 47.18,504.07 47.25,504.02 47.31,503.97 47.38,503.92 47.44,503.87 47.51,503.83 47.57,503.78 47.63,503.74 47.70,503.70 47.76,503.66 47.83,503.62 47.89,503.58 47.95,503.54 48.02,503.50 48.08,503.46 48.15,503.43 48.21,503.39 48.27,503.36 48.34,503.33 48.40,503.29 48.47,503.26 48.53,503.23 48.60,503.20 48.66,503.17 48.72,503.14 48.79,503.12 48.85,503.09 49.36,501.48 49.88,499.96 50.39,498.55 50.90,497.22 51.42,495.97 51.93,494.79 52.44,493.68 52.96,492.63 53.47,491.64 53.98,490.70 54.49,489.81 55.01,488.97 55.52,488.18 56.03,487.42 56.55,486.70 57.06,486.02 57.57,485.37 58.09,484.76 58.60,484.18 59.11,483.62 59.62,483.10 60.14,482.60 60.65,482.12 61.16,481.67 61.68,481.24 62.19,480.83 62.70,480.44 63.22,480.08 63.73,479.72 64.24,479.39 64.75,479.07 65.27,478.77 65.78,478.48 66.29,478.21 66.81,477.95 67.32,477.70 67.83,477.47 68.35,477.24 68.86,477.03 69.37,476.83 69.88,476.64 70.40,476.45 70.91,476.28 71.42,476.12 71.94,475.96 72.45,475.81 72.96,475.67 73.48,475.53 73.99,475.40 74.50,475.28 75.02,475.16 75.53,475.05 76.04,474.95 76.55,474.84 77.07,474.75 77.58,474.66 77.58,500.19 78.55,500.22 79.53,500.26 80.50,500.32 81.48,500.37 82.45,500.43 83.42,500.50 84.40,500.56 85.37,500.62 86.35,500.68 87.32,500.74 88.29,500.80 89.27,500.86 90.24,500.91 91.22,500.97 92.19,501.02 93.16,501.07 94.14,501.11 95.11,501.16 96.09,501.20 97.06,501.24 98.04,501.28 99.01,501.31 99.98,501.35 100.96,501.38 101.93,501.41 102.91,501.44 103.88,501.46 104.85,501.49 105.83,501.51 106.80,501.53 107.78,501.55 108.75,501.57 109.72,501.58 110.70,501.60 111.67,501.61 112.65,501.63 113.62,501.64 114.59,501.65 115.57,501.66 116.54,501.67 117.52,501.68 118.49,501.69 119.46,501.70 120.44,501.70 121.41,501.71 122.39,501.71 123.36,501.72 124.33,501.72 125.31,501.73 126.28,501.73 127.26,501.74 128.23,501.74 129.20,501.74 130.18,501.74 131.15,501.75 132.13,501.75 133.10,501.75 134.07,501.75 135.05,501.75 136.02,501.76 137.00,501.76 137.97,501.76 138.95,501.76 139.92,501.76 140.89,501.76 141.87,501.76 142.84,501.76 143.82,501.76 144.79,501.76 145.76,501.76 146.74,501.76 147.71,501.76 148.69,501.77 149.66,501.77 150.63,501.77 151.61,501.77 152.58,501.77 153.56,501.77 154.53,501.77" fill="none" stroke="#2b4fc0" stroke-width="0.95" stroke-linejoin="round" opacity="1.0"/>
<polyline points="46.80,504.40 46.86,504.40 46.93,504.40 46.99,504.40 47.06,504.40 47.12,504.40 47.18,504.40 47.25,504.40 47.31,504.40 47.38,504.40 47.44,504.40 47.51,504.40 47.57,504.40 47.63,504.40 47.70,504.40 47.76,504.40 47.83,504.40 47.89,504.40 47.95,504.40 48.02,504.40 48.08,504.40 48.15,504.12 48.21,503.85 48.27,503.58 48.34,503.31 48.40,503.04 48.47,502.78 48.53,502.52 48.60,502.26 48.66,502.00 48.72,501.74 48.79,501.48 48.85,501.23 49.36,499.27 49.88,497.42 50.39,495.68 50.90,494.05 51.42,492.51 51.93,491.05 52.44,489.69 52.96,488.40 53.47,487.18 53.98,486.04 54.49,484.97 55.01,483.95 55.52,483.00 56.03,482.10 56.55,481.25 57.06,480.46 57.57,479.71 58.09,479.00 58.60,478.33 59.11,477.71 59.62,477.12 60.14,476.56 60.65,476.04 61.16,475.54 61.68,475.08 62.19,474.64 62.70,474.23 63.22,473.84 63.73,473.48 64.24,473.13 64.75,472.81 65.27,472.50 65.78,472.21 66.29,471.94 66.81,471.69 67.32,471.45 67.83,471.22 68.35,471.01 68.86,470.81 69.37,470.62 69.88,470.44 70.40,470.28 70.91,470.12 71.42,469.97 71.94,469.83 72.45,469.70 72.96,469.57 73.48,469.46 73.99,469.35 74.50,469.24 75.02,469.15 75.53,469.05 76.04,468.97 76.55,468.89 77.07,468.81 77.58,468.74 77.58,499.66 78.55,499.68 79.53,499.71 80.50,499.75 81.48,499.79 82.45,499.83 83.42,499.87 84.40,499.91 85.37,499.95 86.35,499.99 87.32,500.03 88.29,500.07 89.27,500.11 90.24,500.14 91.22,500.18 92.19,500.21 93.16,500.25 94.14,500.28 95.11,500.31 96.09,500.34 97.06,500.36 98.04,500.39 99.01,500.41 99.98,500.43 100.96,500.46 101.93,500.48 102.91,500.49 103.88,500.51 104.85,500.53 105.83,500.54 106.80,500.56 107.78,500.57 108.75,500.58 109.72,500.59 110.70,500.60 111.67,500.61 112.65,500.62 113.62,500.63 114.59,500.64 115.57,500.64 116.54,500.65 117.52,500.66 118.49,500.66 119.46,500.67 120.44,500.67 121.41,500.68 122.39,500.68 123.36,500.68 124.33,500.69 125.31,500.69 126.28,500.69 127.26,500.69 128.23,500.70 129.20,500.70 130.18,500.70 131.15,500.70 132.13,500.70 133.10,500.70 134.07,500.70 135.05,500.71 136.02,500.71 137.00,500.71 137.97,500.71 138.95,500.71 139.92,500.71 140.89,500.71 141.87,500.71 142.84,500.71 143.82,500.71 144.79,500.71 145.76,500.71 146.74,500.71 147.71,500.71 148.69,500.71 149.66,500.71 150.63,500.71 151.61,500.71 152.58,500.71 153.56,500.71 154.53,500.71" fill="none" stroke="#ea6cc0" stroke-width="0.95" stroke-linejoin="round" opacity="1.0"/>
<polyline points="46.80,504.40 46.86,503.61 46.93,502.84 46.99,502.08 47.06,501.35 47.12,500.64 47.18,499.94 47.25,499.26 47.31,498.59 47.38,497.94 47.44,497.31 47.51,496.70 47.57,496.09 47.63,495.51 47.70,494.93 47.76,494.37 47.83,493.83 47.89,493.29 47.95,492.77 48.02,492.26 48.08,491.77 48.15,491.28 48.21,490.81 48.27,490.34 48.34,489.89 48.40,489.45 48.47,489.02 48.53,488.60 48.60,488.18 48.66,487.78 48.72,487.39 48.79,487.00 48.85,486.62 49.36,483.88 49.88,481.58 50.39,479.61 50.90,477.93 51.42,476.48 51.93,475.22 52.44,474.11 52.96,473.12 53.47,472.25 53.98,471.47 54.49,470.76 55.01,470.12 55.52,469.53 56.03,469.00 56.55,468.51 57.06,468.05 57.57,467.63 58.09,467.24 58.60,466.88 59.11,466.54 59.62,466.22 60.14,465.93 60.65,465.65 61.16,465.39 61.68,465.15 62.19,464.92 62.70,464.71 63.22,464.51 63.73,464.32 64.24,464.14 64.75,463.98 65.27,463.82 65.78,463.67 66.29,463.53 66.81,463.40 67.32,463.28 67.83,463.16 68.35,463.06 68.86,462.95 69.37,462.86 69.88,462.77 70.40,462.68 70.91,462.60 71.42,462.52 71.94,462.45 72.45,462.38 72.96,462.32 73.48,462.26 73.99,462.20 74.50,462.15 75.02,462.10 75.53,462.06 76.04,462.01 76.55,461.97 77.07,461.93 77.58,461.89 77.58,499.14 78.55,499.18 79.53,499.24 80.50,499.32 81.48,499.40 82.45,499.48 83.42,499.57 84.40,499.66 85.37,499.75 86.35,499.83 87.32,499.92 88.29,500.00 89.27,500.08 90.24,500.16 91.22,500.24 92.19,500.31 93.16,500.38 94.14,500.44 95.11,500.51 96.09,500.57 97.06,500.62 98.04,500.68 99.01,500.73 99.98,500.78 100.96,500.82 101.93,500.86 102.91,500.90 103.88,500.94 104.85,500.97 105.83,501.01 106.80,501.04 107.78,501.06 108.75,501.09 109.72,501.11 110.70,501.14 111.67,501.16 112.65,501.17 113.62,501.19 114.59,501.21 115.57,501.22 116.54,501.24 117.52,501.25 118.49,501.26 119.46,501.27 120.44,501.28 121.41,501.29 122.39,501.30 123.36,501.30 124.33,501.31 125.31,501.32 126.28,501.32 127.26,501.33 128.23,501.33 129.20,501.34 130.18,501.34 131.15,501.34 132.13,501.35 133.10,501.35 134.07,501.35 135.05,501.35 136.02,501.36 137.00,501.36 137.97,501.36 138.95,501.36 139.92,501.36 140.89,501.36 141.87,501.36 142.84,501.36 143.82,501.37 144.79,501.37 145.76,501.37 146.74,501.37 147.71,501.37 148.69,501.37 149.66,501.37 150.63,501.37 151.61,501.37 152.58,501.37 153.56,501.37 154.53,501.37" fill="none" stroke="#1ecfe0" stroke-width="0.95" stroke-linejoin="round" opacity="1.0"/>
<polyline points="46.80,504.40 46.86,503.13 46.93,501.91 46.99,500.72 47.06,499.57 47.12,498.47 47.18,497.39 47.25,496.36 47.31,495.35 47.38,494.38 47.44,493.45 47.51,492.54 47.57,491.66 47.63,490.81 47.70,489.98 47.76,489.18 47.83,488.41 47.89,487.66 47.95,486.94 48.02,486.24 48.08,485.56 48.15,484.90 48.21,484.26 48.27,483.64 48.34,483.04 48.40,482.46 48.47,481.89 48.53,481.35 48.60,480.81 48.66,480.30 48.72,479.80 48.79,479.32 48.85,478.84 49.36,475.53 49.88,472.89 50.39,470.75 50.90,469.00 51.42,467.54 51.93,466.31 52.44,465.26 52.96,464.35 53.47,463.54 53.98,462.83 54.49,462.19 55.01,461.62 55.52,461.09 56.03,460.61 56.55,460.16 57.06,459.75 57.57,459.37 58.09,459.01 58.60,458.68 59.11,458.36 59.62,458.07 60.14,457.80 60.65,457.54 61.16,457.30 61.68,457.07 62.19,456.86 62.70,456.66 63.22,456.47 63.73,456.29 64.24,456.13 64.75,455.97 65.27,455.82 65.78,455.68 66.29,455.55 66.81,455.43 67.32,455.31 67.83,455.20 68.35,455.10 68.86,455.00 69.37,454.91 69.88,454.82 70.40,454.74 70.91,454.67 71.42,454.59 71.94,454.53 72.45,454.46 72.96,454.40 73.48,454.35 73.99,454.29 74.50,454.24 75.02,454.20 75.53,454.15 76.04,454.11 76.55,454.07 77.07,454.03 77.58,454.00 77.58,498.48 78.55,498.53 79.53,498.60 80.50,498.68 81.48,498.77 82.45,498.87 83.42,498.96 84.40,499.06 85.37,499.16 86.35,499.26 87.32,499.35 88.29,499.44 89.27,499.54 90.24,499.62 91.22,499.71 92.19,499.79 93.16,499.87 94.14,499.94 95.11,500.01 96.09,500.08 97.06,500.14 98.04,500.20 99.01,500.26 99.98,500.31 100.96,500.36 101.93,500.41 102.91,500.45 103.88,500.49 104.85,500.53 105.83,500.57 106.80,500.60 107.78,500.63 108.75,500.66 109.72,500.69 110.70,500.71 111.67,500.74 112.65,500.76 113.62,500.78 114.59,500.79 115.57,500.81 116.54,500.83 117.52,500.84 118.49,500.85 119.46,500.86 120.44,500.87 121.41,500.88 122.39,500.89 123.36,500.90 124.33,500.91 125.31,500.91 126.28,500.92 127.26,500.93 128.23,500.93 129.20,500.94 130.18,500.94 131.15,500.94 132.13,500.95 133.10,500.95 134.07,500.95 135.05,500.96 136.02,500.96 137.00,500.96 137.97,500.96 138.95,500.96 139.92,500.97 140.89,500.97 141.87,500.97 142.84,500.97 143.82,500.97 144.79,500.97 145.76,500.97 146.74,500.97 147.71,500.97 148.69,500.97 149.66,500.97 150.63,500.97 151.61,500.98 152.58,500.98 153.56,500.98 154.53,500.98" fill="none" stroke="#f2a81d" stroke-width="0.95" stroke-linejoin="round" opacity="1.0"/>
<polyline points="46.80,504.40 46.86,502.65 46.93,500.97 46.99,499.37 47.06,497.84 47.12,496.38 47.18,494.99 47.25,493.66 47.31,492.38 47.38,491.16 47.44,490.00 47.51,488.88 47.57,487.82 47.63,486.79 47.70,485.82 47.76,484.88 47.83,483.99 47.89,483.13 47.95,482.31 48.02,481.52 48.08,480.76 48.15,480.04 48.21,479.34 48.27,478.68 48.34,478.04 48.40,477.42 48.47,476.83 48.53,476.26 48.60,475.72 48.66,475.19 48.72,474.69 48.79,474.20 48.85,473.73 49.36,470.55 49.88,468.13 50.39,466.23 50.90,464.69 51.42,463.41 51.93,462.30 52.44,461.32 52.96,460.44 53.47,459.63 53.98,458.88 54.49,458.18 55.01,457.51 55.52,456.88 56.03,456.28 56.55,455.71 57.06,455.16 57.57,454.63 58.09,454.13 58.60,453.65 59.11,453.18 59.62,452.74 60.14,452.31 60.65,451.90 61.16,451.50 61.68,451.12 62.19,450.76 62.70,450.41 63.22,450.07 63.73,449.75 64.24,449.44 64.75,449.14 65.27,448.85 65.78,448.58 66.29,448.31 66.81,448.06 67.32,447.82 67.83,447.58 68.35,447.36 68.86,447.14 69.37,446.93 69.88,446.73 70.40,446.54 70.91,446.36 71.42,446.18 71.94,446.01 72.45,445.84 72.96,445.69 73.48,445.54 73.99,445.39 74.50,445.25 75.02,445.12 75.53,444.99 76.04,444.86 76.55,444.75 77.07,444.63 77.58,444.52 77.58,503.35 78.55,503.29 79.53,503.20 80.50,503.10 81.48,502.99 82.45,502.88 83.42,502.76 84.40,502.64 85.37,502.52 86.35,502.41 87.32,502.29 88.29,502.18 89.27,502.07 90.24,501.96 91.22,501.86 92.19,501.76 93.16,501.67 94.14,501.58 95.11,501.49 96.09,501.41 97.06,501.33 98.04,501.26 99.01,501.19 99.98,501.13 100.96,501.07 101.93,501.01 102.91,500.96 103.88,500.91 104.85,500.86 105.83,500.82 106.80,500.78 107.78,500.74 108.75,500.70 109.72,500.67 110.70,500.64 111.67,500.61 112.65,500.59 113.62,500.57 114.59,500.54 115.57,500.52 116.54,500.51 117.52,500.49 118.49,500.47 119.46,500.46 120.44,500.45 121.41,500.44 122.39,500.42 123.36,500.41 124.33,500.41 125.31,500.40 126.28,500.39 127.26,500.38 128.23,500.38 129.20,500.37 130.18,500.37 131.15,500.36 132.13,500.36 133.10,500.35 134.07,500.35 135.05,500.35 136.02,500.34 137.00,500.34 137.97,500.34 138.95,500.34 139.92,500.34 140.89,500.33 141.87,500.33 142.84,500.33 143.82,500.33 144.79,500.33 145.76,500.33 146.74,500.33 147.71,500.33 148.69,500.33 149.66,500.33 150.63,500.32 151.61,500.32 152.58,500.32 153.56,500.32 154.53,500.32" fill="none" stroke="#d64aae" stroke-width="0.95" stroke-linejoin="round" opacity="1.0"/>
<line x1="204.20" y1="433.16" x2="204.20" y2="531.30" stroke="#2b2b2b" stroke-width="0.9"/>
<line x1="202.60" y1="531.44" x2="205.80" y2="531.44" stroke="#2b2b2b" stroke-width="0.9"/>
<text transform="translate(198.60 534.04) scale(0.8 1)" x="0" y="0" font-family="'Liberation Sans', Arial, sans-serif" font-size="7.6" fill="#3c3734" text-anchor="end">-5000</text>
<line x1="202.60" y1="517.40" x2="205.80" y2="517.40" stroke="#2b2b2b" stroke-width="0.9"/>
<text transform="translate(198.60 520.00) scale(0.8 1)" x="0" y="0" font-family="'Liberation Sans', Arial, sans-serif" font-size="7.6" fill="#3c3734" text-anchor="end">0</text>
<line x1="202.60" y1="503.36" x2="205.80" y2="503.36" stroke="#2b2b2b" stroke-width="0.9"/>
<text transform="translate(198.60 505.96) scale(0.8 1)" x="0" y="0" font-family="'Liberation Sans', Arial, sans-serif" font-size="7.6" fill="#3c3734" text-anchor="end">5000</text>
<line x1="202.60" y1="489.32" x2="205.80" y2="489.32" stroke="#2b2b2b" stroke-width="0.9"/>
<text transform="translate(198.60 491.92) scale(0.8 1)" x="0" y="0" font-family="'Liberation Sans', Arial, sans-serif" font-size="7.6" fill="#3c3734" text-anchor="end">10,000</text>
<line x1="202.60" y1="475.28" x2="205.80" y2="475.28" stroke="#2b2b2b" stroke-width="0.9"/>
<text transform="translate(198.60 477.88) scale(0.8 1)" x="0" y="0" font-family="'Liberation Sans', Arial, sans-serif" font-size="7.6" fill="#3c3734" text-anchor="end">15,000</text>
<line x1="202.60" y1="461.24" x2="205.80" y2="461.24" stroke="#2b2b2b" stroke-width="0.9"/>
<text transform="translate(198.60 463.84) scale(0.8 1)" x="0" y="0" font-family="'Liberation Sans', Arial, sans-serif" font-size="7.6" fill="#3c3734" text-anchor="end">20,000</text>
<line x1="202.60" y1="447.20" x2="205.80" y2="447.20" stroke="#2b2b2b" stroke-width="0.9"/>
<text transform="translate(198.60 449.80) scale(0.8 1)" x="0" y="0" font-family="'Liberation Sans', Arial, sans-serif" font-size="7.6" fill="#3c3734" text-anchor="end">25,000</text>
<line x1="202.60" y1="433.16" x2="205.80" y2="433.16" stroke="#2b2b2b" stroke-width="0.9"/>
<text transform="translate(198.60 435.76) scale(0.8 1)" x="0" y="0" font-family="'Liberation Sans', Arial, sans-serif" font-size="7.6" fill="#3c3734" text-anchor="end">30,000</text>
<line x1="204.20" y1="524.42" x2="205.60" y2="524.42" stroke="#2b2b2b" stroke-width="0.7"/>
<line x1="204.20" y1="510.38" x2="205.60" y2="510.38" stroke="#2b2b2b" stroke-width="0.7"/>
<line x1="204.20" y1="496.34" x2="205.60" y2="496.34" stroke="#2b2b2b" stroke-width="0.7"/>
<line x1="204.20" y1="482.30" x2="205.60" y2="482.30" stroke="#2b2b2b" stroke-width="0.7"/>
<line x1="204.20" y1="468.26" x2="205.60" y2="468.26" stroke="#2b2b2b" stroke-width="0.7"/>
<line x1="204.20" y1="454.22" x2="205.60" y2="454.22" stroke="#2b2b2b" stroke-width="0.7"/>
<line x1="204.20" y1="440.18" x2="205.60" y2="440.18" stroke="#2b2b2b" stroke-width="0.7"/>
<line x1="204.20" y1="531.30" x2="349.00" y2="531.30" stroke="#2b2b2b" stroke-width="0.9"/>
<line x1="203.55" y1="530.80" x2="203.55" y2="533.10" stroke="#2b2b2b" stroke-width="0.9"/>
<line x1="230.00" y1="530.80" x2="230.00" y2="533.10" stroke="#2b2b2b" stroke-width="0.9"/>
<line x1="256.45" y1="530.80" x2="256.45" y2="533.10" stroke="#2b2b2b" stroke-width="0.9"/>
<line x1="282.90" y1="530.80" x2="282.90" y2="533.10" stroke="#2b2b2b" stroke-width="0.9"/>
<line x1="309.35" y1="530.80" x2="309.35" y2="533.10" stroke="#2b2b2b" stroke-width="0.9"/>
<line x1="335.80" y1="530.80" x2="335.80" y2="533.10" stroke="#2b2b2b" stroke-width="0.9"/>
<text transform="translate(202.95 542.60) scale(0.8 1)" x="0" y="0" font-family="'Liberation Sans', Arial, sans-serif" font-size="7.6" fill="#3c3734" text-anchor="middle">-100</text>
<text transform="translate(230.00 542.60) scale(0.8 1)" x="0" y="0" font-family="'Liberation Sans', Arial, sans-serif" font-size="7.6" fill="#3c3734" text-anchor="middle">0</text>
<text transform="translate(256.45 542.60) scale(0.8 1)" x="0" y="0" font-family="'Liberation Sans', Arial, sans-serif" font-size="7.6" fill="#3c3734" text-anchor="middle">100</text>
<text transform="translate(282.90 542.60) scale(0.8 1)" x="0" y="0" font-family="'Liberation Sans', Arial, sans-serif" font-size="7.6" fill="#3c3734" text-anchor="middle">200</text>
<text transform="translate(309.35 542.60) scale(0.8 1)" x="0" y="0" font-family="'Liberation Sans', Arial, sans-serif" font-size="7.6" fill="#3c3734" text-anchor="middle">300</text>
<text transform="translate(335.80 542.60) scale(0.8 1)" x="0" y="0" font-family="'Liberation Sans', Arial, sans-serif" font-size="7.6" fill="#3c3734" text-anchor="middle">400</text>
<text x="199.30" y="427.90" font-family="'Liberation Serif', 'Times New Roman', serif" font-size="7.6" fill="#1e1e1e" text-anchor="start" font-weight="bold" stroke="#1e1e1e" stroke-width="0.15">RU</text>
<text x="214.60" y="442.20" font-family="'Liberation Serif', 'Times New Roman', serif" font-size="8.4" fill="#1a1a1a" text-anchor="start" font-style="italic" stroke="#1a1a1a" stroke-width="0.18">pCP</text>
<text x="349.40" y="542.40" font-family="'Liberation Serif', 'Times New Roman', serif" font-size="7.3" fill="#1e1e1e" text-anchor="start" font-weight="bold">T(s)</text>
<line x1="214.13" y1="517.40" x2="341.70" y2="517.40" stroke="#333" stroke-width="0.9"/>
<polyline points="229.80,517.40 229.80,483.60 262.50,483.30 262.50,517.40" fill="none" stroke="#222" stroke-width="0.9" stroke-linejoin="round" opacity="1.0"/>
<line x1="230.60" y1="442.30" x2="230.60" y2="500.50" stroke="#ee2020" stroke-width="0.8"/>
<line x1="230.60" y1="472.50" x2="230.60" y2="500.50" stroke="#ee2020" stroke-width="1.4"/>
<polyline points="230.60,500.30 232.00,499.20 234.00,498.20 235.60,497.80 235.90,498.50 235.90,517.40" fill="none" stroke="#ee2020" stroke-width="0.9" stroke-linejoin="round" opacity="1.0"/>
<polyline points="236.30,517.40 236.30,490.00 236.80,486.50 238.00,484.00 239.60,482.30 242.00,480.90 244.50,479.90 248.00,479.00 252.70,478.20 257.00,477.80 261.70,477.40 262.50,477.20" fill="none" stroke="#ee2020" stroke-width="0.9" stroke-linejoin="round" opacity="1.0"/>
<line x1="262.50" y1="442.30" x2="262.50" y2="477.40" stroke="#ee2020" stroke-width="0.8"/>
<line x1="262.50" y1="460.00" x2="262.50" y2="477.40" stroke="#ee2020" stroke-width="1.4"/>
</svg>
</body></html>
